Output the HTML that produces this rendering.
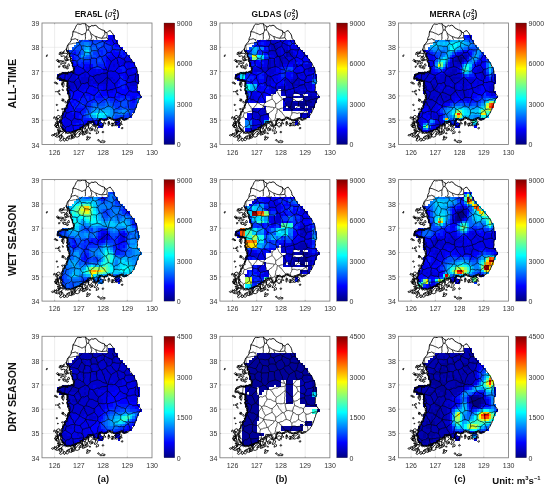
<!DOCTYPE html>
<html><head><meta charset="utf-8"><title>Variance maps</title>
<style>html,body{margin:0;padding:0;background:#fff}svg{display:block;font-family:"Liberation Sans",sans-serif}</style>
</head><body>
<svg width="550" height="500" viewBox="0 0 550 500">
<defs>
<g id="geo"><path d="M22.8,108.7 23.2,106.6 23.5,104.5M23.5,104.5 22.6,103.7 21.1,101.9 19.5,100.7M37.1,19.5 35.2,19.5 33.5,20.2 31.8,20.2 29.8,20.8 28.2,21.0 26.5,21.4M37.1,19.5 36.3,18.3 34.8,16.8M48.1,30.0 48.9,31.9 49.1,33.7 49.6,35.3M48.1,30.0 49.4,28.0M49.4,28.0 51.6,27.6 53.8,27.7 55.8,28.0M55.8,28.0 56.4,30.0 57.1,31.5 58.1,33.4M49.6,35.3 52.2,35.2 54.6,35.6M54.6,35.6 55.9,34.3 58.1,33.4M95.3,48.0 94.7,49.3 93.3,50.8M96.1,60.2 93.7,58.9M93.7,58.9 93.2,57.0 93.0,55.1 93.8,52.7 93.3,50.8M88.2,94.2 87.9,92.2 87.7,90.7 86.9,89.0 86.3,87.4M87.2,86.5 89.5,86.1 91.7,86.2 93.6,85.6M87.2,86.5 86.4,87.3M83.6,75.5 85.0,76.7 86.0,77.9M83.6,75.5 83.5,72.5M86.0,77.9 88.1,77.9 89.3,77.5 91.6,76.2 93.3,76.4 95.3,75.5 96.8,75.6 98.5,75.0M83.5,72.5 84.6,71.0 85.8,69.5 87.2,67.9M96.5,69.8 94.8,69.0 92.3,69.0 90.5,69.0 89.3,68.2 87.2,67.9M78.7,83.3 80.6,84.2 81.3,85.0 83.4,85.3 85.3,86.5 86.4,87.3M78.8,78.5 78.6,81.3 78.7,83.3M78.8,78.5 80.5,77.8 81.6,77.0 83.6,75.5M87.2,86.5 86.5,84.6 86.4,82.6 86.1,81.0 85.9,80.1 86.0,77.9M85.1,59.5 87.0,59.6 88.8,59.5 89.8,58.9 92.2,58.6 93.7,58.9M84.5,61.6 85.4,63.5 86.0,64.5 86.5,65.9 87.2,67.9M84.5,61.6 85.1,59.5M51.0,20.7 49.6,21.7 48.8,23.5M51.0,20.7 50.2,17.7M49.9,17.4 48.4,17.6 46.5,16.8M48.8,23.5 46.4,23.3 45.3,23.7 42.9,23.0 40.9,22.8 39.3,23.1M40.4,16.8 39.0,18.7 37.5,19.7M39.3,23.1 37.8,21.1M37.5,19.7 37.8,21.1M49.9,16.8 49.9,17.4M49.4,28.0 49.0,25.7 48.8,23.5M42.8,29.1 44.5,29.3 46.0,29.4 48.1,30.0M39.8,25.5 39.3,23.1M42.8,29.1 41.2,27.2 39.8,25.5M39.8,25.5 39.0,27.3 37.7,28.6 37.3,30.3 35.9,32.3M35.9,32.3 33.9,32.1 31.5,31.1 30.1,30.8 27.9,30.8M27.9,30.8 29.0,29.5 30.8,28.0 31.7,27.3 32.8,25.5 34.0,24.5 35.5,23.1 36.9,22.5 37.8,21.1M26.5,21.4 25.9,23.7 26.2,25.5 26.5,27.3 26.1,29.8M27.2,31.0 27.9,30.8M55.8,28.0 56.1,26.8M51.0,20.7 53.1,21.5M56.1,26.8 54.7,24.7 54.4,22.9 53.1,21.5M58.1,33.4 59.6,33.7M63.3,32.0 61.5,33.0 59.6,33.7M65.1,29.8 64.6,27.7 63.7,25.8 62.5,24.8 61.9,22.6M65.1,29.8 63.3,32.0M56.1,26.8 57.6,25.5 58.7,24.5 60.8,23.9 61.9,22.6M84.9,46.5 86.8,45.9 88.4,45.8 90.0,44.8 92.4,44.7 93.9,44.1M84.9,46.5 83.1,44.1 82.1,42.3M91.0,39.0 89.3,39.2 87.2,38.6 85.6,38.9 83.4,38.9M83.4,38.9 82.7,40.5 82.1,42.3M50.2,17.7 51.8,16.8M53.1,21.5 54.8,21.0 56.7,19.8 58.9,19.1 61.0,18.4M61.0,18.4 60.1,16.8M61.9,22.6 62.4,19.7M61.0,18.4 62.3,19.5M35.9,32.3 36.7,33.9 37.7,35.5M28.4,36.6 29.7,37.4 32.2,37.5 33.0,37.6 35.0,38.1M35.0,38.1 36.6,37.1 37.7,35.5M42.8,29.1 42.5,31.0 42.1,33.1 41.2,33.9 41.3,36.1M37.7,35.5 39.8,35.8 41.3,36.1M48.6,36.2 49.6,35.3M48.6,36.2 46.4,36.6 44.4,36.6 41.8,36.7M41.3,36.1 41.8,36.7M32.6,87.9 33.0,88.4M32.6,87.9 31.0,88.2 28.8,88.5 26.2,89.9 24.4,89.9M33.0,88.4 32.6,90.4 32.3,92.2 32.6,93.1 32.4,95.2M24.4,89.9 23.8,91.4 23.3,93.8M23.3,93.8 25.2,95.4 26.5,96.1 27.6,96.7 29.5,98.3M29.5,98.3 30.7,96.7 32.4,95.2M32.5,87.1 32.6,87.9M26.9,77.9 28.0,79.0 28.9,81.1 29.6,82.8 31.1,83.6 31.3,86.0 32.5,87.1M23.0,87.6 24.4,89.9M25.6,78.1 26.9,77.9M20.2,95.6 21.5,94.8 23.3,93.8M23.5,104.5 25.4,103.4 26.9,103.5 28.4,102.1 29.7,101.5M29.7,101.5 29.5,98.3M26.9,77.9 28.5,76.2 29.9,75.4M29.9,75.4 31.3,76.6 33.9,76.7 35.7,78.2 37.4,78.9M32.5,87.1 33.6,85.3 34.2,84.2 35.4,82.9 36.6,81.4 37.6,79.5M37.4,78.9 37.6,79.5M29.7,101.5 30.9,102.5M30.9,102.5 31.1,104.9 31.8,107.1 32.0,108.6M86.3,53.6 86.1,55.6 84.9,56.7 84.9,58.9M86.3,53.6 84.9,50.9 84.1,49.0M84.9,58.9 83.6,57.5 81.2,57.0 79.5,55.6 78.2,55.0M84.1,49.0 82.5,49.3 80.2,50.0 78.7,50.2 76.5,50.6M76.5,50.6 77.5,53.1 78.2,55.0M85.1,59.5 84.9,58.9M93.3,50.8 91.3,51.9 90.0,52.1 87.7,52.5 86.3,53.6M84.9,46.5 84.1,49.0M73.9,65.0 73.0,63.1 72.6,60.9M72.6,60.9 73.6,59.7 75.7,58.1 76.4,56.5 78.2,55.0M84.5,61.6 82.6,61.7 80.6,62.3 78.8,62.9 77.6,64.2 75.7,64.7 73.9,65.0M77.0,43.5 78.5,43.4 80.3,42.2 82.1,42.3M72.9,48.1 74.8,46.1 75.3,45.2 77.0,43.5M72.9,48.1 75.1,49.7 76.5,50.6M29.9,75.4 30.7,73.5 31.6,71.6 31.7,69.0M31.7,69.0 30.4,68.2 28.5,67.1M25.6,67.4 28.5,67.1M76.3,34.3 74.7,35.0M76.3,34.3 76.5,32.8 77.8,30.4 77.8,28.6 78.8,26.6M78.8,26.6 77.1,26.9 74.7,26.9 72.2,26.3 70.4,26.6M74.0,35.0 74.7,35.0M74.0,35.0 72.9,33.8 71.0,32.4 70.2,30.5 68.8,29.0M70.4,26.6 68.8,29.0M83.4,38.9 82.2,36.2M82.2,36.2 80.0,35.9 78.3,34.7 76.3,34.3M77.0,43.5 76.9,41.7 75.8,40.5 75.9,38.5 75.4,37.1 74.7,35.0M65.1,29.8 67.3,29.6 68.8,29.0M63.3,32.0 64.8,33.0 65.7,35.2 67.2,36.1 68.4,37.7 69.2,38.8M69.2,38.8 70.5,37.2 72.2,36.6 74.0,35.0M70.2,23.2 68.5,22.4 66.6,21.8 65.4,21.1 63.6,20.2 62.4,19.7M70.2,23.2 70.4,26.6M62.3,19.5 64.5,17.8 66.1,16.8M35.0,38.1 35.0,40.0 35.4,42.4M41.8,36.7 41.6,38.2 41.2,39.9 42.0,42.1 41.5,43.8 41.4,45.6M35.4,42.4 36.9,43.7 38.8,44.3 39.6,45.2 41.4,45.6M83.5,72.5 81.5,71.5 79.6,71.5 78.5,70.7 76.1,69.7 74.8,69.1M74.8,69.1 74.4,67.2 73.8,65.4M65.2,67.3 67.1,67.3 69.0,66.3 69.9,66.6 72.1,65.8 73.8,65.4M72.6,60.9 70.9,59.9 69.6,58.5 68.4,56.5 66.5,55.4 65.5,54.1M64.3,66.8 65.2,67.3M64.3,66.8 64.6,65.4 64.9,62.9 64.6,61.6 65.2,59.7 64.9,57.5 65.4,56.4 65.3,54.4M72.2,20.7 71.1,18.9 70.5,16.8M72.2,20.7 73.8,20.2 75.6,20.6M70.2,23.2 72.2,20.7M78.8,26.6 79.7,25.7M82.2,36.2 83.5,34.4 84.5,32.9 85.2,31.8M28.5,67.1 27.5,65.3 27.7,63.1 26.4,61.8 26.1,60.0 25.4,58.1M25.4,58.1 24.8,58.0M24.4,58.0 22.7,57.8M16.2,52.7 17.8,54.3 19.2,55.0 20.3,56.4 22.2,57.2M22.6,50.0 23.1,51.6 23.0,53.6 22.8,55.2 22.5,57.4M35.4,42.4 33.8,43.6 31.6,43.9M32.4,95.2 34.4,96.0 36.4,96.6 38.2,96.5 40.1,97.5M30.9,102.5 32.9,102.6 34.6,102.3 36.8,102.3 38.0,101.8 39.6,101.7 41.8,101.7M40.1,97.5 41.4,99.6 41.8,101.7M33.0,88.4 34.6,88.7 36.6,89.2 38.3,89.2M38.3,89.2 39.1,91.4 40.6,92.8M40.1,97.5 40.1,95.3 40.6,92.8M41.8,101.7 43.5,103.1M52.4,72.4 50.5,72.1 48.6,71.2 47.6,70.5 45.7,69.9 43.9,69.5M52.4,72.4 52.0,74.0 52.3,76.0M52.3,76.0 50.6,76.8 49.0,77.6 47.1,78.6 45.6,79.1M45.6,79.1 44.5,77.5 43.9,75.8 42.8,74.4 42.9,72.8 41.8,71.0M43.9,69.5 41.8,70.3M41.8,70.3 41.8,71.0M37.4,78.9 38.3,77.3 38.9,75.3 39.8,73.9 40.6,73.0 41.8,71.0M37.6,79.5 39.5,80.4 40.2,81.4 42.0,81.9 43.6,83.0M43.6,83.0 44.2,81.3 45.6,79.1M31.7,69.0 34.1,67.7 35.5,67.0M35.9,66.9 37.6,68.2 39.7,69.0 41.8,70.3M54.3,84.8 52.7,84.2 51.1,84.2 49.2,83.7 47.5,83.7 45.7,83.3 43.7,83.2M54.3,84.8 53.5,86.5 52.2,87.9 50.9,88.7 49.4,89.7 48.2,91.5M48.2,91.5 47.3,91.0M47.3,91.0 46.6,89.6 46.1,87.6 45.2,86.5 44.3,84.8 43.6,83.2M40.6,92.8 42.5,92.6 43.8,91.9 45.5,91.7 47.3,91.0M51.0,98.8 51.4,98.3M51.4,98.3 50.9,96.3 49.8,95.0 48.7,93.4 48.2,91.5M38.3,89.2 39.3,87.6 41.0,86.6 42.7,84.9 43.6,83.2M78.7,83.3 77.3,84.0 75.7,85.5 73.5,85.8 71.9,87.2M78.8,78.5 76.4,78.2 75.0,76.9 73.1,76.1M71.9,87.2 70.2,84.5M70.2,84.5 71.1,82.5 71.4,80.6 71.9,79.4 72.7,77.9 73.1,76.1M65.2,67.3 65.3,69.0 65.6,70.5 66.2,72.7 66.4,74.5M74.8,69.1 73.6,71.1 73.2,72.8 72.5,74.8M66.4,74.5 68.5,74.2 70.9,74.7 72.5,74.8M73.1,76.1 72.5,74.8M86.3,87.4 84.3,88.7 82.4,90.2M80.6,95.7 81.7,94.0 81.8,91.7 82.4,90.2M71.9,87.2 72.0,90.0M82.4,90.2 80.3,90.4 79.4,89.8 77.2,90.5 75.8,89.9 74.0,89.6 72.0,90.0M51.4,98.3 54.6,97.3M54.6,97.3 57.4,97.9M72.0,90.0 71.7,91.8 70.4,93.6 70.2,95.0 69.6,96.7M35.9,66.9 36.7,65.3 38.2,63.0 39.2,61.2M39.2,61.2 40.7,60.3 42.7,60.8 44.2,59.7 45.9,59.6M43.9,69.5 44.6,67.6 45.1,66.3 46.7,64.3 47.1,62.6M45.9,59.6 47.1,62.6M56.5,68.0 55.3,69.8 53.7,70.9 52.4,72.4M56.7,67.4 56.5,68.0M56.7,67.4 55.9,65.1M47.1,62.6 48.7,63.0 50.7,63.1 52.4,64.2 53.8,64.9 55.9,65.1M64.3,66.8 62.6,67.4 60.1,67.5 58.6,67.0 56.7,67.4M65.3,54.4 63.9,55.2 62.0,57.1 61.2,57.9 59.7,59.0 57.8,60.1 56.6,61.0M55.9,65.1 55.9,62.7 56.6,61.0M45.7,49.4 46.8,51.2 47.8,52.6M45.7,49.4 47.0,48.0 48.3,46.4M48.3,46.4 49.6,45.3 51.8,44.6 53.4,44.2 55.1,43.6M47.8,52.6 50.4,53.5M50.4,53.5 51.8,53.4 54.1,52.2 55.2,51.7 57.4,51.9 58.9,50.8 60.4,50.3 61.9,50.4 64.0,50.2 65.5,49.4M55.1,43.6 56.8,43.9 58.9,44.7 60.5,46.0 62.5,46.6 64.5,47.0M64.5,47.0 65.8,48.1M65.5,49.4 65.9,48.3M43.2,48.8 42.8,47.4 41.4,45.6M48.6,36.2 48.6,38.3 48.5,39.7 48.3,41.7 48.0,42.7 48.2,45.0 48.3,46.4M43.2,48.8 45.7,49.4M54.6,35.6 54.4,37.8 54.6,40.1 55.1,41.8 55.1,43.6M56.6,61.0 55.1,59.3 53.7,58.2 53.2,56.8 51.6,54.6 50.4,53.5M45.9,59.6 46.7,58.2 46.7,55.9 47.2,53.9 47.8,52.6M65.5,54.1 65.2,51.3 65.5,49.4M59.6,33.7 60.2,35.6 60.8,37.4 61.6,38.9 62.4,40.2 62.5,42.2 63.4,44.0 64.3,45.7 64.5,47.0M69.2,38.8 68.5,40.6 67.6,42.3 67.0,44.2 66.5,46.4 65.8,48.1M72.9,48.1 71.1,48.5 69.1,47.9 67.5,48.1 65.9,48.3M32.0,59.2 32.8,57.9 34.2,56.6 35.3,55.8 36.6,54.1M32.0,59.2 29.7,59.0 27.4,58.1 25.7,57.9M25.7,57.9 26.5,56.5 28.2,54.6 29.2,53.0 29.5,52.0 30.9,50.3M30.9,50.3 32.5,50.8 35.1,51.8 36.9,52.3M36.6,54.1 36.9,52.3M35.5,67.0 34.8,65.3 34.3,64.1 33.8,62.5 32.9,61.1 32.0,59.2M39.2,61.2 38.2,59.0 38.1,57.4 36.8,56.3 36.6,54.1M29.7,48.4 30.9,50.3M43.2,48.8 41.3,50.0 39.9,50.7 38.0,51.6 36.9,52.3M66.6,83.1 66.1,81.8 65.6,79.7 64.8,78.4 64.0,76.5M66.6,83.1 64.6,83.7 62.6,85.2 61.2,85.3 59.0,86.3M55.8,81.1 55.8,84.3M55.8,81.1 57.3,80.3 59.5,78.6 60.4,77.8 62.6,76.4M62.6,76.4 64.0,76.5M55.8,84.3 57.5,86.0M57.5,86.0 59.0,86.3M70.2,84.5 68.0,83.5 66.6,83.1M66.4,74.5 64.0,76.5M66.1,94.7 64.6,92.9 64.0,92.3 62.7,90.6 61.6,88.8 60.0,88.1 59.0,86.3M54.3,84.8 55.8,84.3M52.3,76.0 53.9,77.8 55.0,79.2 55.8,81.1M56.5,68.0 57.7,69.1 58.6,70.9 59.1,72.0 60.5,73.6 62.0,75.4 62.6,76.4M54.6,97.3 55.3,95.8 55.8,93.2 55.8,91.6 57.0,89.6 57.1,88.1 57.5,86.0" fill="none" stroke="#000" stroke-width="0.85" stroke-opacity="0.75"/>
<path d="M43.6,0.5 43.7,2.2 44.2,3.9 44.4,5.6 44.8,7.0 44.3,8.5 43.6,10.2 43.3,12.0 43.4,13.5 43.5,15.2 43.1,16.8M30.5,8.7 32.4,8.8 34.4,9.2 35.6,9.9 37.1,10.4 38.6,11.1 40.0,11.9 41.6,11.0 43.6,10.2M47.0,3.6 46.8,5.4 46.5,7.0 47.8,8.4 48.7,10.2 49.8,11.2 51.3,12.1 52.4,12.9 54.0,13.6 55.2,13.9 56.8,14.7 58.1,14.9 59.6,15.3 60.6,14.2 61.5,13.0 62.8,11.4 62.8,9.3 62.3,7.5M48.7,10.2 48.8,11.5 49.6,13.1 49.7,14.6 48.7,16.8M59.6,15.3 61.2,15.1 63.1,15.0 64.9,14.6 65.0,13.2 65.2,11.3 64.9,9.7M29.1,17.0 30.5,16.3 31.9,16.2 33.2,15.6 34.6,16.4 36.3,16.8M44.8,7.0 46.5,7.0M64.9,14.6 66.4,16.8M54.0,13.6 54.2,15.0 55.0,16.8" fill="none" stroke="#000" stroke-width="0.8" stroke-linejoin="round"/>
<path d="M35.7,0.7 37.0,1.2 38.9,1.2 40.2,0.5 42.0,0.7 43.6,0.5 44.1,1.5 45.2,2.7 47.0,3.6 47.9,3.9 49.9,2.4 51.0,3.0 53.1,2.2 54.8,2.9 56.2,4.9 57.8,5.7 59.9,6.9 61.3,7.2 62.3,7.5 63.1,9.2 64.9,9.7 66.4,8.2 68.3,7.5 69.0,8.8 70.5,10.2 71.4,12.0 72.0,14.0 72.0,15.4 73.4,16.5 74.5,18.1 74.9,19.4 76.0,21.2 77.1,22.4 77.8,24.1 78.7,25.0 79.9,25.9 81.1,27.2 82.3,28.3 83.0,29.0 84.1,30.1 84.9,31.4 85.8,32.5 87.3,33.9 88.3,35.3 89.2,36.4 90.1,37.7 91.1,39.1 92.1,40.3 92.7,41.9 93.4,43.4 94.5,45.0 94.9,46.1 95.3,48.0 95.4,49.2 95.5,50.8 95.9,52.5 96.4,53.7 96.3,55.2 96.5,57.1 96.9,58.6 96.2,59.7 95.7,61.2 95.4,62.7 95.5,63.9 95.6,65.4 95.2,67.1 95.2,68.5 96.6,69.9 98.1,71.7 99.1,73.6 98.5,75.0 97.1,76.2 96.4,77.3 95.8,78.8 95.5,80.4 94.7,81.9 94.5,83.3 93.8,84.7 93.5,86.0 92.7,87.5 92.1,88.9 91.3,90.6 90.6,91.2 90.3,92.0 88.4,94.0 86.6,95.1 85.3,95.7 82.8,95.8 82.1,96.5 79.7,95.3 77.2,97.0 76.1,97.4 75.4,97.2 73.3,97.9 72.0,96.5 69.4,96.8 68.2,95.7 67.8,94.8 65.1,94.7 64.9,97.2 63.0,97.2 60.7,97.1 59.3,97.1 57.9,95.7 58.3,96.1 56.9,98.9 55.5,101.4 56.0,102.1 54.0,102.9 52.8,102.5 52.6,101.4 50.9,98.7 48.2,98.4 45.8,98.4 45.9,101.4 44.6,101.6 43.1,103.7 41.4,102.4 39.7,104.5 39.3,104.9 36.5,106.5 34.9,106.4 34.4,107.9 33.0,107.8 31.0,109.7 30.6,108.4 28.3,110.1 27.6,109.1 25.9,109.0 23.5,109.4 21.8,107.8 21.1,107.6 20.4,105.0 18.8,103.9 18.9,101.2 20.2,100.2 18.7,98.4 20.1,95.8 20.5,95.8 19.1,94.7 19.5,93.3 20.6,91.1 21.6,88.8 22.9,88.2 23.2,86.0 22.8,84.8 25.3,83.0 25.2,82.1 26.1,80.8 25.3,78.7 26.0,77.2 27.8,76.7 27.0,74.1 27.6,73.6 27.7,73.0 26.0,71.6 27.2,68.8 25.9,68.0 24.9,65.7 26.5,64.5 25.2,63.2 25.2,61.6 25.9,60.3 24.7,57.8 22.3,58.7 22.5,57.2 19.9,57.3 18.0,55.4 16.0,55.4 16.1,53.0 16.5,52.2 18.6,52.1 18.8,51.1 20.8,49.8 21.7,49.7 23.2,50.2 25.2,50.1 26.0,48.8 28.0,49.4 30.1,48.1 31.5,48.6 31.6,45.9 32.0,45.0 31.3,43.3 30.7,42.8 30.0,40.1 29.5,39.1 28.2,36.0 28.8,35.0 27.3,33.4 27.7,31.6 26.4,30.1 24.9,28.5 24.2,27.0 24.8,24.7 25.2,23.3 25.7,21.8 26.9,20.7 28.3,19.0 29.1,17.5 29.2,15.7 29.6,14.6 30.6,12.8 30.7,10.8 31.0,9.0 31.9,7.3 32.7,6.1 33.4,4.7 34.2,2.8 35.3,1.5Z" fill="none" stroke="#000" stroke-width="0.9" stroke-linejoin="round"/>
<path d="M86.4,96.3 83.9,95.0 83.0,97.4 81.2,96.6 79.9,96.5 78.7,94.8 80.4,94.3 77.8,95.2 77.9,97.1 77.4,95.6 74.7,96.1 75.1,97.2 75.4,96.1 72.3,96.9 72.0,96.9 71.2,96.9 71.5,97.2 70.0,95.8 67.7,95.6 68.1,94.7 66.8,93.6 67.3,94.2 64.5,96.6 63.1,95.9 62.4,98.1 62.8,96.2 62.5,97.4 59.6,95.5 59.4,95.6 56.9,96.8 58.4,95.9 56.5,95.7 57.6,97.1 55.9,98.0 55.6,99.1 56.2,101.4 56.1,101.0 55.4,103.0 54.5,102.9 51.9,103.4 51.7,103.3 51.7,101.7 52.2,100.5 50.9,99.4 50.5,99.8 48.9,99.7 48.8,98.3 47.5,98.5 48.4,100.2 47.2,100.2 45.5,100.0 44.3,101.6 45.0,100.4 43.2,101.3 43.1,102.4 41.4,103.7 39.6,104.8 38.7,103.9 39.1,105.3 37.7,104.3 38.5,105.4 36.0,107.2 35.0,107.3 33.6,108.0 33.8,106.8 34.3,108.2 31.4,107.6 30.3,109.6 28.4,109.9 28.3,110.1 27.6,110.1 25.9,110.5 24.9,110.0 23.6,110.7 23.0,110.0 23.7,109.3 23.3,107.9 22.5,106.2 20.9,106.5 21.5,105.8 20.9,104.6 19.0,103.1 20.7,102.5 20.1,100.9 18.3,100.5 18.9,98.7 19.4,97.6 18.9,97.5 19.4,96.7 18.6,97.1 18.7,95.1 19.0,92.7 20.4,92.0 20.9,90.7 20.6,92.3 21.8,89.5 21.6,89.0 22.5,89.2 23.2,87.7 22.1,86.7 24.2,85.8 24.8,83.0 24.7,83.4 25.1,81.7 25.8,81.8 25.8,82.1 24.9,80.6 26.7,79.4 26.6,79.1 25.6,77.4 27.4,75.3 27.7,75.2 27.7,73.7 27.5,74.6 28.2,73.2 28.1,70.3 25.4,70.4 27.0,68.0 25.8,68.6 25.2,67.0 25.0,66.6 24.7,65.6 26.5,65.3 26.0,63.2 26.1,62.7 24.9,60.8 25.9,61.4 24.7,60.3 25.2,59.5 23.8,58.2 24.3,57.0 22.3,57.1 23.1,58.5 22.1,57.0 20.8,57.9 19.6,57.6 19.8,56.5 16.9,56.2 15.4,56.5 15.0,54.6 15.7,52.8 15.9,52.8 16.5,53.0 17.3,50.5 19.6,50.3 20.1,49.4 21.9,49.7 21.4,50.9 22.5,50.0 23.6,49.6 23.6,51.1 26.2,51.0 25.1,50.4 26.0,49.2 28.9,50.1 29.4,49.7 30.4,49.1 30.7,49.4 30.8,47.6 31.7,48.1 32.8,45.0 31.9,45.8 31.2,45.9 31.1,44.7 30.4,43.1 30.7,40.4 30.6,40.3 29.8,40.0 29.4,39.2 28.4,38.1 30.3,37.2 28.8,34.7 29.7,35.7 27.7,34.4 27.4,32.7 28.1,30.5 27.3,31.3 25.3,29.6 26.6,29.1 25.2,29.2 24.0,25.9M86.1,94.9 84.9,96.7 81.2,97.3 82.2,96.0 82.0,95.3 80.1,94.6 79.6,95.1 77.5,95.1 76.9,95.2 76.8,97.2 74.5,97.8 75.7,96.7 73.3,98.0 73.2,96.5 71.7,97.1 72.2,97.7 70.4,96.1 71.0,95.3 69.8,95.3 67.2,95.4 69.0,94.3 66.2,96.5 65.4,95.6 64.0,97.2 63.4,96.2 62.3,98.3 61.3,97.0 60.9,97.2 59.9,95.5 57.9,96.5 59.0,96.2 58.4,97.4 56.6,97.2 56.4,97.8 56.6,100.7 55.6,101.2 56.4,101.0 55.1,102.3 53.7,101.2 52.0,103.6 51.8,102.8 53.1,100.3 52.1,98.7 51.9,99.1 50.1,97.6 50.1,99.7 48.6,98.7 47.9,98.8 46.5,100.4 45.9,100.4 46.6,101.7 45.7,102.3 44.2,100.8 44.4,102.3 41.6,102.8 41.4,102.3 40.0,104.2 40.7,105.6 39.5,103.7 39.3,106.3 36.5,106.9 37.6,107.1 36.1,106.2 34.0,108.4 35.5,107.6 32.6,107.8 31.5,109.3 29.6,108.6 30.6,109.3 29.4,111.2 27.7,110.1 28.2,108.8 25.7,110.3 24.5,109.5 24.5,110.1 24.2,108.8 23.5,107.6 22.2,107.6 20.7,106.4 21.0,106.0 19.6,104.4 19.5,104.9 18.7,102.7 19.1,100.5 20.2,99.4 18.4,100.5 17.7,98.4 19.2,98.5 18.3,97.4 19.6,95.6 20.2,93.9 20.3,94.5 21.1,92.8 20.8,91.4 21.2,91.9 20.5,90.7 20.8,88.2 22.3,88.5 22.4,85.9 23.2,86.8 24.4,84.8 25.4,85.1 24.6,82.4 26.0,81.1 24.1,82.6 24.6,81.8 26.9,79.8 27.1,79.3 27.3,78.0 26.1,76.1 28.1,76.7 27.6,74.4 26.9,73.9 26.8,74.3 26.7,72.3 27.3,72.1 25.4,70.7 26.7,69.9 25.5,68.8 26.6,67.9 24.7,67.8 25.3,65.5 25.7,65.4 24.4,62.7 25.0,63.7 25.1,60.6 25.5,60.1 25.6,60.5 26.2,57.8 24.4,58.6 25.3,58.6 22.3,56.7 22.1,56.8 20.9,56.5 19.8,58.2 18.7,57.2 18.9,55.7 16.3,55.8 15.7,55.4 15.1,55.9 16.3,52.8 15.5,52.3 17.2,51.1 16.8,52.5 19.7,49.9 19.7,51.5 21.9,50.1 21.8,49.5 22.7,50.7 23.7,50.6 23.9,49.2 26.0,50.8 24.5,50.3 26.5,50.0 26.8,50.1 29.5,48.2 29.1,48.7 32.1,49.7 32.3,49.5 31.9,47.3 32.1,46.6 31.8,44.8 31.8,44.6 31.4,43.9 29.9,42.2 30.5,42.0 30.7,39.4 29.9,40.9 29.7,39.8 28.5,37.7 28.1,36.4 28.9,36.1 29.2,36.0 28.8,33.1 27.6,33.6 27.0,31.6 27.5,31.0 27.3,28.9 26.2,28.3 24.2,26.9 24.2,25.9" fill="none" stroke="#000" stroke-width="0.7" stroke-linejoin="round"/>
<path d="M25.6,30.6 23.4,30.3 22.2,30.4 20.3,30.2 18.9,31.7 19.2,33.6 21.9,32.8 23.6,33.8 25.3,32.4ZM17.4,29.8 17.3,30.4 17.1,31.6 18.2,31.2 18.8,30.7 18.9,29.8 18.1,29.5ZM22.4,35.8 22.8,36.6 23.2,37.8 24.9,38.0 25.9,37.0 24.7,35.4 22.7,34.3ZM20.5,38.2 20.7,39.0 21.3,38.9 21.8,38.8 22.2,38.1 21.5,38.0 20.8,37.5ZM27.3,41.7 26.7,40.6 25.5,42.2 25.2,42.7 24.9,43.6 26.0,43.2 27.6,42.8ZM22.1,43.2 21.7,42.4 20.8,42.3 20.5,43.0 20.6,43.5 20.9,44.1 21.6,43.8ZM20.6,40.3 19.9,39.9 18.6,40.6 18.6,41.4 19.4,41.4 20.1,40.9ZM15.9,38.2 16.7,39.5 18.7,38.9 20.8,38.7 19.6,37.6 17.6,37.7ZM22.4,27.5 21.5,28.5 21.2,28.9 21.1,30.0 22.0,29.6 22.1,28.8ZM23.7,39.4 23.1,39.4 22.5,39.7 21.4,40.3 22.4,40.7 22.7,41.4 23.3,40.6 24.3,40.0ZM22.9,42.6 22.1,42.7 21.7,43.6 21.7,44.8 22.6,44.9 23.5,44.9 23.8,43.9 23.8,42.8ZM14.4,37.4 15.2,38.3 16.9,38.3 16.8,37.2 15.2,36.3ZM17.1,38.0 16.9,37.7 16.3,37.9 15.4,38.1 15.9,38.4 16.4,38.6 17.3,38.6ZM17.8,29.6 19.2,30.4 20.3,31.3 20.7,30.4 20.8,29.4 19.1,29.0ZM26.6,44.8 25.6,44.7 24.8,44.3 23.6,44.8 24.6,45.2 24.9,46.1 26.2,45.6ZM17.8,43.6 18.1,42.8 17.3,43.2 16.6,43.1 16.7,43.7 16.6,44.3 17.4,44.3 17.7,43.9ZM27.3,36.9 26.5,36.5 25.5,36.1 23.6,36.5 23.8,37.5 25.7,37.3 26.6,37.3ZM24.3,33.1 24.4,33.8 24.2,34.8 25.3,35.3 25.8,35.2 26.2,34.7 25.6,33.8 25.0,33.5ZM5.2,31.7 4.6,32.3 4.2,33.3 4.9,33.5 5.3,32.5ZM21.7,59.5 20.5,59.4 20.5,62.3 20.6,63.7 21.4,64.3 21.9,62.5 22.1,61.0ZM21.5,58.0 20.2,59.1 19.4,60.9 19.8,62.3 20.8,60.9 21.4,59.8ZM14.4,59.5 13.9,59.0 12.6,59.1 12.1,59.8 12.9,60.2 14.0,60.1ZM17.8,67.1 16.8,67.3 16.2,68.4 16.3,69.3 17.1,68.9 17.8,68.1ZM16.8,70.4 16.6,70.9 17.3,71.6 18.3,72.0 17.9,71.1 17.8,70.8 17.2,70.0ZM20.6,66.2 20.1,66.2 20.5,67.0 20.8,67.7 21.2,67.7 21.5,66.9 20.8,66.4ZM14.2,60.4 14.1,61.0 15.1,61.0 16.1,60.8 15.3,60.3 15.1,59.9 14.1,59.8ZM16.1,68.4 15.9,68.4 15.6,68.5 15.4,69.1 15.9,68.8 16.3,68.6ZM14.5,68.6 14.1,68.2 13.5,68.6 13.5,68.8 13.7,69.0 14.2,69.0ZM23.1,78.9 22.8,79.4 23.7,79.9 24.7,79.5 23.9,78.8 23.2,77.9ZM21.0,76.3 20.3,75.6 20.2,76.6 20.0,77.7 20.9,77.1 21.5,77.5 21.9,76.8 21.4,76.2ZM16.1,86.9 15.6,86.9 15.4,87.7 15.9,87.5 16.5,87.3ZM20.0,85.5 19.5,85.8 20.0,86.7 20.9,86.7 21.2,86.5 21.4,86.2 21.2,85.3 20.4,85.6ZM14.9,81.3 14.2,81.5 14.4,82.4 15.1,82.6 15.4,82.1 15.7,81.7 15.3,81.4ZM21.5,76.2 20.6,76.7 19.8,77.7 20.6,78.0 21.3,78.5 22.1,77.1ZM14.6,112.5 13.6,113.6 15.3,114.2 17.0,113.5 15.4,112.5ZM19.1,107.7 17.7,106.9 16.6,106.9 16.1,107.9 16.7,109.0 17.9,108.7ZM17.4,92.6 16.1,92.5 13.8,94.4 15.3,95.2 16.3,96.0 18.0,93.8ZM15.1,102.5 13.6,103.2 15.9,105.0 17.5,105.1 16.9,103.5 15.9,100.7ZM11.8,94.3 11.6,94.6 11.6,95.4 12.2,95.0 12.7,94.9 13.1,94.1 12.2,93.6ZM10.6,111.5 9.4,112.1 10.2,113.0 10.9,112.9 12.6,111.7ZM14.1,94.9 13.8,94.9 13.4,95.6 13.7,96.8 14.3,97.1 15.1,97.1 14.9,95.5 14.8,94.0ZM23.2,115.4 22.1,115.3 21.4,116.6 21.5,117.4 22.4,118.4 23.8,116.4ZM17.0,107.9 16.4,108.8 16.8,110.5 17.9,110.2 17.9,108.5ZM15.6,109.1 14.9,109.7 13.5,110.8 15.0,110.8 15.8,111.3 16.8,109.7ZM13.0,101.8 12.1,102.1 13.3,103.1 14.5,104.5 14.4,102.9 13.7,101.3ZM21.9,107.0 21.2,105.8 18.8,105.8 16.9,106.0 15.0,107.0 17.7,107.6 18.8,108.4 21.0,108.1ZM14.3,98.8 13.6,99.4 14.3,100.7 15.2,100.8 16.2,101.0 15.7,99.7 15.1,98.1ZM15.3,99.6 14.6,100.6 16.1,100.6 16.9,100.1 17.2,99.6 17.1,99.0 16.1,98.3 15.4,99.2ZM19.7,111.4 17.6,112.9 17.3,114.9 18.7,116.1 19.8,114.0ZM16.1,100.8 15.9,99.5 14.0,100.0 13.4,101.1 13.6,102.0 14.7,102.7 16.3,101.9ZM21.9,108.9 19.8,108.7 18.2,108.4 17.2,109.9 16.3,111.1 16.9,112.1 18.2,112.6 19.2,111.3 20.4,110.7ZM14.8,102.3 14.2,102.5 13.2,103.7 14.5,104.6 15.4,105.0 16.0,104.2 17.1,102.8 15.4,102.4ZM12.6,110.1 12.5,111.6 12.4,112.5 13.3,113.5 14.4,112.7 14.4,111.6 13.6,111.3ZM16.5,95.6 15.3,95.5 15.3,97.3 15.5,98.6 16.5,99.3 17.8,98.1 17.2,96.4ZM20.8,113.0 19.3,112.5 19.0,115.1 17.4,117.3 18.8,118.2 20.2,117.1 21.5,116.1 21.1,114.5ZM29.0,114.0 29.8,111.6 27.5,112.8 25.7,113.4 24.8,114.8 23.5,117.0 25.4,117.7 27.7,115.7 29.7,116.1 30.3,114.6ZM31.9,109.7 30.6,111.4 29.9,112.8 29.5,115.2 31.2,115.2 32.5,114.8 33.2,113.2 33.4,110.9ZM38.7,109.2 37.2,108.3 35.1,109.7 34.6,111.1 32.3,112.6 33.5,113.6 35.2,114.2 37.6,113.0 37.0,111.1ZM40.6,108.6 40.5,106.8 39.2,108.8 38.8,109.5 37.5,111.2 39.2,111.3 40.2,109.9 42.0,109.1ZM46.8,102.4 44.6,102.8 43.2,105.1 40.5,104.9 40.6,107.2 40.2,109.3 40.6,112.2 43.5,111.2 46.2,109.6 45.4,106.6 46.3,105.0ZM42.1,109.1 40.5,108.0 41.3,110.2 41.8,111.1 42.7,111.1 43.0,110.1 43.5,108.1ZM49.8,100.8 48.3,100.4 46.7,101.4 46.7,102.7 46.2,103.8 46.9,105.5 49.2,104.3 50.8,102.2ZM49.7,105.6 49.0,105.7 47.7,105.8 47.7,107.1 48.3,107.9 49.6,107.6 50.6,106.3ZM54.8,104.1 53.5,103.5 53.4,105.7 52.1,107.8 53.6,108.2 54.5,106.8 55.4,106.3 55.8,104.7ZM55.7,107.8 54.8,108.5 54.5,109.4 54.1,110.9 55.3,110.4 56.4,110.1 56.7,108.5ZM61.8,101.5 60.6,100.6 59.2,99.1 57.7,100.8 55.6,101.8 58.1,102.6 58.3,103.8 60.0,104.1 60.1,102.4ZM61.7,99.9 61.3,100.6 62.4,100.7 63.9,100.9 63.2,99.7 62.0,98.9ZM43.9,105.6 42.9,105.3 42.9,107.2 43.8,108.3 44.6,108.1 44.7,106.8 44.3,106.0ZM27.4,114.2 27.6,113.1 26.4,114.2 24.6,114.5 25.5,115.2 26.1,115.5 27.2,115.6 27.8,114.7ZM48.5,114.2 46.8,114.2 45.8,115.4 44.1,116.8 45.7,116.9 46.7,116.5 47.5,115.9ZM50.4,104.9 49.9,105.9 49.2,106.9 50.0,106.9 50.7,107.3 51.2,105.6ZM60.3,108.6 60.1,109.5 60.9,109.7 61.4,109.7 61.7,109.4 61.8,108.8 61.1,108.3ZM33.6,108.8 32.4,109.6 32.0,110.3 31.9,111.1 32.7,110.9 33.4,110.1ZM33.0,111.3 31.7,111.6 31.0,112.1 30.0,112.8 30.9,112.9 31.6,113.3 32.9,112.5ZM47.4,109.8 47.0,110.6 47.9,110.7 48.6,110.8 48.2,109.8ZM37.7,106.4 38.3,107.1 39.0,107.2 40.0,106.9 38.6,106.5ZM43.9,108.7 43.6,108.8 43.0,109.3 43.7,109.5 44.1,109.9 44.8,109.8 44.8,108.9 44.3,108.3ZM45.5,112.8 44.9,113.9 45.0,115.5 45.7,115.0 46.2,113.9ZM31.6,113.6 30.9,113.6 30.4,113.3 30.2,113.8 30.1,114.1 30.1,114.7 30.9,114.4 31.7,114.1ZM56.2,116.4 55.5,117.3 56.4,117.9 57.4,117.9 57.1,116.8ZM63.1,118.1 61.2,117.8 60.3,117.3 59.5,118.0 57.7,118.7 58.6,119.6 60.5,119.1 62.7,119.4ZM79.8,99.0 78.6,97.5 76.2,99.2 75.5,99.7 72.0,99.0 74.6,100.8 73.4,102.6 75.1,102.8 76.4,101.9 78.6,102.6 77.6,100.7ZM70.6,101.3 70.2,101.9 71.1,102.5 72.6,102.8 73.6,101.8 72.1,100.7 70.5,100.0ZM66.9,98.7 66.1,99.8 66.1,101.1 66.3,102.6 67.2,101.9 67.3,101.0 67.7,99.9ZM78.2,100.0 78.6,100.7 78.7,101.4 79.5,101.5 80.3,101.7 79.6,100.9 79.7,100.2 78.8,99.9ZM66.6,98.1 66.3,99.0 66.3,100.2 67.1,100.6 67.1,99.5 67.3,98.8ZM70.4,100.5 69.7,100.0 68.9,101.4 69.5,102.3 70.1,102.9 71.1,102.1 71.4,100.3ZM61.2,101.8 60.9,102.3 61.0,102.9 61.4,103.2 61.4,102.4ZM70.5,102.3 70.1,102.3 69.7,102.5 69.5,103.0 70.0,103.0 70.4,103.2 70.3,102.7ZM80.9,104.5 80.0,104.6 79.1,105.1 79.5,105.7 80.0,105.9 80.9,105.5Z" fill="none" stroke="#000" stroke-width="0.85" stroke-linejoin="round"/></g>
<g id="grid" stroke="#dcdcdc" stroke-width="0.5" fill="none">
<path d="M12.60,0V121.50"/>
<path d="M36.83,0V121.50"/>
<path d="M61.06,0V121.50"/>
<path d="M85.29,0V121.50"/>
<path d="M0,97.20H110.00"/>
<path d="M0,72.90H110.00"/>
<path d="M0,48.60H110.00"/>
<path d="M0,24.30H110.00"/>
</g>
<linearGradient id="jet" x1="0" y1="1" x2="0" y2="0">
<stop offset="0.000" stop-color="#000080"/>
<stop offset="0.025" stop-color="#000099"/>
<stop offset="0.050" stop-color="#0000b3"/>
<stop offset="0.075" stop-color="#0000cc"/>
<stop offset="0.100" stop-color="#0000e6"/>
<stop offset="0.125" stop-color="#0000ff"/>
<stop offset="0.150" stop-color="#001aff"/>
<stop offset="0.175" stop-color="#0033ff"/>
<stop offset="0.200" stop-color="#004dff"/>
<stop offset="0.225" stop-color="#0066ff"/>
<stop offset="0.250" stop-color="#0080ff"/>
<stop offset="0.275" stop-color="#0099ff"/>
<stop offset="0.300" stop-color="#00b3ff"/>
<stop offset="0.325" stop-color="#00ccff"/>
<stop offset="0.350" stop-color="#00e5ff"/>
<stop offset="0.375" stop-color="#00ffff"/>
<stop offset="0.400" stop-color="#1affe5"/>
<stop offset="0.425" stop-color="#33ffcc"/>
<stop offset="0.450" stop-color="#4dffb3"/>
<stop offset="0.475" stop-color="#66ff99"/>
<stop offset="0.500" stop-color="#80ff80"/>
<stop offset="0.525" stop-color="#99ff66"/>
<stop offset="0.550" stop-color="#b3ff4c"/>
<stop offset="0.575" stop-color="#ccff33"/>
<stop offset="0.600" stop-color="#e5ff1a"/>
<stop offset="0.625" stop-color="#ffff00"/>
<stop offset="0.650" stop-color="#ffe500"/>
<stop offset="0.675" stop-color="#ffcc00"/>
<stop offset="0.700" stop-color="#ffb300"/>
<stop offset="0.725" stop-color="#ff9900"/>
<stop offset="0.750" stop-color="#ff8000"/>
<stop offset="0.775" stop-color="#ff6600"/>
<stop offset="0.800" stop-color="#ff4c00"/>
<stop offset="0.825" stop-color="#ff3300"/>
<stop offset="0.850" stop-color="#ff1a00"/>
<stop offset="0.875" stop-color="#ff0000"/>
<stop offset="0.900" stop-color="#e50000"/>
<stop offset="0.925" stop-color="#cc0000"/>
<stop offset="0.950" stop-color="#b30000"/>
<stop offset="0.975" stop-color="#990000"/>
<stop offset="1.000" stop-color="#800000"/>
</linearGradient>
</defs>
<rect width="550" height="500" fill="#fff"/>
<g transform="translate(42.00,23.00)">
<use href="#grid"/>
<g shape-rendering="crispEdges"><path fill="#0000cc" d="M19.8,104.4h2.5v2.5h-2.5zM19.8,102.0h2.5v2.5h-2.5zM24.7,65.6h4.9v2.5h-4.9zM68.3,65.6h2.5v2.5h-2.5zM24.7,63.1h7.4v2.5h-7.4zM34.4,63.1h2.5v2.5h-2.5zM85.2,63.1h2.5v2.5h-2.5zM27.1,60.7h12.2v2.5h-12.2zM63.4,60.7h2.5v2.5h-2.5zM87.7,60.7h7.4v2.5h-7.4zM27.1,58.3h21.9v2.5h-21.9zM51.3,58.3h14.6v2.5h-14.6zM87.7,58.3h7.4v2.5h-7.4zM17.4,55.8h4.9v2.5h-4.9zM24.7,55.8h9.8v2.5h-9.8zM39.2,55.8h12.2v2.5h-12.2zM53.7,55.8h14.6v2.5h-14.6zM70.7,55.8h2.5v2.5h-2.5zM90.1,55.8h4.9v2.5h-4.9zM19.8,53.4h2.5v2.5h-2.5zM24.7,53.4h9.8v2.5h-9.8zM39.2,53.4h7.4v2.5h-7.4zM51.3,53.4h19.5v2.5h-19.5zM85.2,53.4h2.5v2.5h-2.5zM92.5,53.4h4.9v2.5h-4.9zM24.7,51.0h14.6v2.5h-14.6zM41.6,51.0h2.5v2.5h-2.5zM51.3,51.0h17.1v2.5h-17.1zM92.5,51.0h4.9v2.5h-4.9zM29.5,48.5h4.9v2.5h-4.9zM39.2,48.5h2.5v2.5h-2.5zM61.0,48.5h4.9v2.5h-4.9zM61.0,46.1h2.5v2.5h-2.5zM70.7,41.3h2.5v2.5h-2.5zM80.4,38.8h2.5v2.5h-2.5z"/>
<path fill="#0000e6" d="M22.2,106.9h12.2v2.5h-12.2zM22.2,104.4h7.4v2.5h-7.4zM22.2,102.0h7.4v2.5h-7.4zM58.6,102.0h2.5v2.5h-2.5zM75.5,102.0h2.5v2.5h-2.5zM19.8,99.6h9.8v2.5h-9.8zM44.0,99.6h2.5v2.5h-2.5zM73.1,99.6h2.5v2.5h-2.5zM22.2,97.1h14.6v2.5h-14.6zM75.5,97.1h2.5v2.5h-2.5zM22.2,94.7h14.6v2.5h-14.6zM22.2,92.3h12.2v2.5h-12.2zM22.2,89.9h7.4v2.5h-7.4zM31.9,89.9h2.5v2.5h-2.5zM22.2,87.4h4.9v2.5h-4.9zM22.2,85.0h4.9v2.5h-4.9zM24.7,82.6h2.5v2.5h-2.5zM90.1,75.3h2.5v2.5h-2.5zM90.1,72.8h2.5v2.5h-2.5zM85.2,70.4h2.5v2.5h-2.5zM24.7,68.0h2.5v2.5h-2.5zM63.4,68.0h7.4v2.5h-7.4zM75.5,68.0h2.5v2.5h-2.5zM87.7,68.0h2.5v2.5h-2.5zM29.5,65.6h12.2v2.5h-12.2zM51.3,65.6h2.5v2.5h-2.5zM61.0,65.6h7.4v2.5h-7.4zM70.7,65.6h2.5v2.5h-2.5zM87.7,65.6h2.5v2.5h-2.5zM92.5,65.6h2.5v2.5h-2.5zM31.9,63.1h2.5v2.5h-2.5zM36.8,63.1h9.8v2.5h-9.8zM61.0,63.1h12.2v2.5h-12.2zM87.7,63.1h7.4v2.5h-7.4zM24.7,60.7h2.5v2.5h-2.5zM39.2,60.7h12.2v2.5h-12.2zM53.7,60.7h9.8v2.5h-9.8zM65.9,60.7h9.8v2.5h-9.8zM85.2,60.7h2.5v2.5h-2.5zM24.7,58.3h2.5v2.5h-2.5zM48.9,58.3h2.5v2.5h-2.5zM65.9,58.3h9.8v2.5h-9.8zM85.2,58.3h2.5v2.5h-2.5zM94.9,58.3h2.5v2.5h-2.5zM22.2,55.8h2.5v2.5h-2.5zM34.4,55.8h4.9v2.5h-4.9zM51.3,55.8h2.5v2.5h-2.5zM68.3,55.8h2.5v2.5h-2.5zM73.1,55.8h2.5v2.5h-2.5zM85.2,55.8h4.9v2.5h-4.9zM94.9,55.8h2.5v2.5h-2.5zM17.4,53.4h2.5v2.5h-2.5zM22.2,53.4h2.5v2.5h-2.5zM36.8,53.4h2.5v2.5h-2.5zM46.5,53.4h4.9v2.5h-4.9zM70.7,53.4h7.4v2.5h-7.4zM82.8,53.4h2.5v2.5h-2.5zM87.7,53.4h4.9v2.5h-4.9zM17.4,51.0h7.4v2.5h-7.4zM39.2,51.0h2.5v2.5h-2.5zM44.0,51.0h7.4v2.5h-7.4zM68.3,51.0h7.4v2.5h-7.4zM82.8,51.0h9.8v2.5h-9.8zM19.8,48.5h9.8v2.5h-9.8zM34.4,48.5h4.9v2.5h-4.9zM41.6,48.5h19.5v2.5h-19.5zM65.9,48.5h9.8v2.5h-9.8zM82.8,48.5h12.2v2.5h-12.2zM31.9,46.1h21.9v2.5h-21.9zM56.2,46.1h2.5v2.5h-2.5zM63.4,46.1h9.8v2.5h-9.8zM85.2,46.1h4.9v2.5h-4.9zM92.5,46.1h2.5v2.5h-2.5zM31.9,43.7h4.9v2.5h-4.9zM44.0,43.7h7.4v2.5h-7.4zM63.4,43.7h12.2v2.5h-12.2zM85.2,43.7h2.5v2.5h-2.5zM90.1,43.7h4.9v2.5h-4.9zM65.9,41.3h4.9v2.5h-4.9zM73.1,41.3h2.5v2.5h-2.5zM85.2,41.3h2.5v2.5h-2.5zM65.9,38.8h14.6v2.5h-14.6zM82.8,38.8h7.4v2.5h-7.4zM63.4,36.4h12.2v2.5h-12.2zM78.0,36.4h12.2v2.5h-12.2zM65.9,34.0h7.4v2.5h-7.4zM78.0,34.0h9.8v2.5h-9.8zM75.5,31.5h4.9v2.5h-4.9zM65.9,14.5h4.9v2.5h-4.9zM70.7,12.1h2.5v2.5h-2.5z"/>
<path fill="#0000ff" d="M29.5,104.4h9.8v2.5h-9.8zM29.5,102.0h12.2v2.5h-12.2zM56.2,102.0h2.5v2.5h-2.5zM29.5,99.6h4.9v2.5h-4.9zM36.8,99.6h2.5v2.5h-2.5zM41.6,99.6h2.5v2.5h-2.5zM51.3,99.6h4.9v2.5h-4.9zM75.5,99.6h2.5v2.5h-2.5zM17.4,97.1h4.9v2.5h-4.9zM36.8,97.1h2.5v2.5h-2.5zM41.6,97.1h4.9v2.5h-4.9zM48.9,97.1h4.9v2.5h-4.9zM73.1,97.1h2.5v2.5h-2.5zM19.8,94.7h2.5v2.5h-2.5zM36.8,94.7h2.5v2.5h-2.5zM75.5,94.7h2.5v2.5h-2.5zM19.8,92.3h2.5v2.5h-2.5zM34.4,92.3h2.5v2.5h-2.5zM19.8,89.9h2.5v2.5h-2.5zM29.5,89.9h2.5v2.5h-2.5zM34.4,89.9h4.9v2.5h-4.9zM27.1,87.4h2.5v2.5h-2.5zM31.9,87.4h7.4v2.5h-7.4zM27.1,85.0h4.9v2.5h-4.9zM34.4,85.0h7.4v2.5h-7.4zM27.1,82.6h4.9v2.5h-4.9zM24.7,80.1h4.9v2.5h-4.9zM31.9,80.1h2.5v2.5h-2.5zM27.1,77.7h4.9v2.5h-4.9zM34.4,77.7h2.5v2.5h-2.5zM90.1,77.7h2.5v2.5h-2.5zM29.5,75.3h7.4v2.5h-7.4zM46.5,75.3h2.5v2.5h-2.5zM87.7,75.3h2.5v2.5h-2.5zM29.5,72.8h12.2v2.5h-12.2zM46.5,72.8h2.5v2.5h-2.5zM53.7,72.8h7.4v2.5h-7.4zM65.9,72.8h12.2v2.5h-12.2zM87.7,72.8h2.5v2.5h-2.5zM92.5,72.8h2.5v2.5h-2.5zM29.5,70.4h12.2v2.5h-12.2zM44.0,70.4h9.8v2.5h-9.8zM56.2,70.4h17.1v2.5h-17.1zM75.5,70.4h9.8v2.5h-9.8zM87.7,70.4h9.8v2.5h-9.8zM27.1,68.0h29.2v2.5h-29.2zM58.6,68.0h4.9v2.5h-4.9zM70.7,68.0h4.9v2.5h-4.9zM78.0,68.0h9.8v2.5h-9.8zM90.1,68.0h7.4v2.5h-7.4zM41.6,65.6h9.8v2.5h-9.8zM53.7,65.6h2.5v2.5h-2.5zM58.6,65.6h2.5v2.5h-2.5zM73.1,65.6h14.6v2.5h-14.6zM90.1,65.6h2.5v2.5h-2.5zM46.5,63.1h7.4v2.5h-7.4zM56.2,63.1h4.9v2.5h-4.9zM73.1,63.1h7.4v2.5h-7.4zM82.8,63.1h2.5v2.5h-2.5zM51.3,60.7h2.5v2.5h-2.5zM82.8,60.7h2.5v2.5h-2.5zM75.5,58.3h2.5v2.5h-2.5zM82.8,58.3h2.5v2.5h-2.5zM75.5,55.8h2.5v2.5h-2.5zM82.8,55.8h2.5v2.5h-2.5zM15.0,53.4h2.5v2.5h-2.5zM34.4,53.4h2.5v2.5h-2.5zM80.4,53.4h2.5v2.5h-2.5zM15.0,51.0h2.5v2.5h-2.5zM75.5,51.0h7.4v2.5h-7.4zM75.5,48.5h7.4v2.5h-7.4zM53.7,46.1h2.5v2.5h-2.5zM58.6,46.1h2.5v2.5h-2.5zM73.1,46.1h7.4v2.5h-7.4zM82.8,46.1h2.5v2.5h-2.5zM90.1,46.1h2.5v2.5h-2.5zM36.8,43.7h7.4v2.5h-7.4zM61.0,43.7h2.5v2.5h-2.5zM75.5,43.7h2.5v2.5h-2.5zM82.8,43.7h2.5v2.5h-2.5zM87.7,43.7h2.5v2.5h-2.5zM29.5,41.3h7.4v2.5h-7.4zM41.6,41.3h9.8v2.5h-9.8zM63.4,41.3h2.5v2.5h-2.5zM75.5,41.3h9.8v2.5h-9.8zM87.7,41.3h4.9v2.5h-4.9zM29.5,38.8h2.5v2.5h-2.5zM63.4,38.8h2.5v2.5h-2.5zM90.1,38.8h2.5v2.5h-2.5zM29.5,36.4h2.5v2.5h-2.5zM75.5,36.4h2.5v2.5h-2.5zM29.5,34.0h2.5v2.5h-2.5zM63.4,34.0h2.5v2.5h-2.5zM73.1,34.0h4.9v2.5h-4.9zM29.5,31.5h2.5v2.5h-2.5zM65.9,31.5h9.8v2.5h-9.8zM82.8,31.5h2.5v2.5h-2.5zM31.9,29.1h2.5v2.5h-2.5zM68.3,29.1h9.8v2.5h-9.8zM80.4,29.1h2.5v2.5h-2.5zM70.7,26.7h2.5v2.5h-2.5zM78.0,24.2h2.5v2.5h-2.5zM73.1,21.8h4.9v2.5h-4.9zM68.3,19.4h7.4v2.5h-7.4zM63.4,17.0h12.2v2.5h-12.2zM70.7,14.5h2.5v2.5h-2.5zM65.9,12.1h4.9v2.5h-4.9z"/>
<path fill="#001aff" d="M34.4,99.6h2.5v2.5h-2.5zM39.2,99.6h2.5v2.5h-2.5zM56.2,99.6h4.9v2.5h-4.9zM39.2,97.1h2.5v2.5h-2.5zM46.5,97.1h2.5v2.5h-2.5zM53.7,97.1h4.9v2.5h-4.9zM39.2,94.7h9.8v2.5h-9.8zM63.4,94.7h2.5v2.5h-2.5zM73.1,94.7h2.5v2.5h-2.5zM80.4,94.7h4.9v2.5h-4.9zM36.8,92.3h4.9v2.5h-4.9zM87.7,92.3h2.5v2.5h-2.5zM39.2,89.9h2.5v2.5h-2.5zM29.5,87.4h2.5v2.5h-2.5zM39.2,87.4h4.9v2.5h-4.9zM31.9,85.0h2.5v2.5h-2.5zM41.6,85.0h2.5v2.5h-2.5zM31.9,82.6h12.2v2.5h-12.2zM75.5,82.6h2.5v2.5h-2.5zM87.7,82.6h4.9v2.5h-4.9zM29.5,80.1h2.5v2.5h-2.5zM34.4,80.1h4.9v2.5h-4.9zM41.6,80.1h7.4v2.5h-7.4zM87.7,80.1h4.9v2.5h-4.9zM24.7,77.7h2.5v2.5h-2.5zM31.9,77.7h2.5v2.5h-2.5zM39.2,77.7h7.4v2.5h-7.4zM48.9,77.7h2.5v2.5h-2.5zM73.1,77.7h2.5v2.5h-2.5zM87.7,77.7h2.5v2.5h-2.5zM92.5,77.7h2.5v2.5h-2.5zM27.1,75.3h2.5v2.5h-2.5zM36.8,75.3h9.8v2.5h-9.8zM48.9,75.3h12.2v2.5h-12.2zM68.3,75.3h9.8v2.5h-9.8zM80.4,75.3h2.5v2.5h-2.5zM92.5,75.3h2.5v2.5h-2.5zM27.1,72.8h2.5v2.5h-2.5zM41.6,72.8h4.9v2.5h-4.9zM48.9,72.8h4.9v2.5h-4.9zM61.0,72.8h4.9v2.5h-4.9zM78.0,72.8h9.8v2.5h-9.8zM97.4,72.8h2.5v2.5h-2.5zM27.1,70.4h2.5v2.5h-2.5zM41.6,70.4h2.5v2.5h-2.5zM53.7,70.4h2.5v2.5h-2.5zM73.1,70.4h2.5v2.5h-2.5zM56.2,68.0h2.5v2.5h-2.5zM56.2,65.6h2.5v2.5h-2.5zM53.7,63.1h2.5v2.5h-2.5zM80.4,63.1h2.5v2.5h-2.5zM75.5,60.7h7.4v2.5h-7.4zM78.0,58.3h4.9v2.5h-4.9zM78.0,55.8h4.9v2.5h-4.9zM78.0,53.4h2.5v2.5h-2.5zM80.4,46.1h2.5v2.5h-2.5zM51.3,43.7h2.5v2.5h-2.5zM58.6,43.7h2.5v2.5h-2.5zM78.0,43.7h4.9v2.5h-4.9zM36.8,41.3h4.9v2.5h-4.9zM56.2,41.3h7.4v2.5h-7.4zM31.9,38.8h4.9v2.5h-4.9zM39.2,38.8h9.8v2.5h-9.8zM61.0,38.8h2.5v2.5h-2.5zM31.9,36.4h2.5v2.5h-2.5zM46.5,36.4h2.5v2.5h-2.5zM61.0,36.4h2.5v2.5h-2.5zM31.9,34.0h2.5v2.5h-2.5zM61.0,34.0h2.5v2.5h-2.5zM27.1,31.5h2.5v2.5h-2.5zM34.4,31.5h2.5v2.5h-2.5zM56.2,31.5h2.5v2.5h-2.5zM61.0,31.5h4.9v2.5h-4.9zM80.4,31.5h2.5v2.5h-2.5zM85.2,31.5h2.5v2.5h-2.5zM29.5,29.1h2.5v2.5h-2.5zM58.6,29.1h2.5v2.5h-2.5zM63.4,29.1h4.9v2.5h-4.9zM78.0,29.1h2.5v2.5h-2.5zM82.8,29.1h2.5v2.5h-2.5zM31.9,26.7h2.5v2.5h-2.5zM56.2,26.7h4.9v2.5h-4.9zM63.4,26.7h7.4v2.5h-7.4zM73.1,26.7h9.8v2.5h-9.8zM68.3,24.2h9.8v2.5h-9.8zM70.7,21.8h2.5v2.5h-2.5zM63.4,19.4h4.9v2.5h-4.9zM58.6,17.0h4.9v2.5h-4.9z"/>
<path fill="#0033ff" d="M48.9,94.7h2.5v2.5h-2.5zM61.0,94.7h2.5v2.5h-2.5zM70.7,94.7h2.5v2.5h-2.5zM41.6,92.3h2.5v2.5h-2.5zM78.0,92.3h9.8v2.5h-9.8zM85.2,89.9h4.9v2.5h-4.9zM87.7,87.4h4.9v2.5h-4.9zM44.0,85.0h2.5v2.5h-2.5zM75.5,85.0h2.5v2.5h-2.5zM87.7,85.0h4.9v2.5h-4.9zM44.0,82.6h4.9v2.5h-4.9zM73.1,82.6h2.5v2.5h-2.5zM82.8,82.6h4.9v2.5h-4.9zM92.5,82.6h2.5v2.5h-2.5zM39.2,80.1h2.5v2.5h-2.5zM70.7,80.1h7.4v2.5h-7.4zM85.2,80.1h2.5v2.5h-2.5zM92.5,80.1h2.5v2.5h-2.5zM36.8,77.7h2.5v2.5h-2.5zM46.5,77.7h2.5v2.5h-2.5zM51.3,77.7h12.2v2.5h-12.2zM68.3,77.7h4.9v2.5h-4.9zM75.5,77.7h4.9v2.5h-4.9zM85.2,77.7h2.5v2.5h-2.5zM61.0,75.3h7.4v2.5h-7.4zM78.0,75.3h2.5v2.5h-2.5zM82.8,75.3h4.9v2.5h-4.9zM94.9,72.8h2.5v2.5h-2.5zM53.7,43.7h4.9v2.5h-4.9zM51.3,41.3h4.9v2.5h-4.9zM36.8,38.8h2.5v2.5h-2.5zM48.9,38.8h12.2v2.5h-12.2zM34.4,36.4h12.2v2.5h-12.2zM48.9,36.4h7.4v2.5h-7.4zM58.6,36.4h2.5v2.5h-2.5zM34.4,34.0h4.9v2.5h-4.9zM46.5,34.0h14.6v2.5h-14.6zM31.9,31.5h2.5v2.5h-2.5zM53.7,31.5h2.5v2.5h-2.5zM58.6,31.5h2.5v2.5h-2.5zM27.1,29.1h2.5v2.5h-2.5zM34.4,29.1h4.9v2.5h-4.9zM51.3,29.1h7.4v2.5h-7.4zM61.0,29.1h2.5v2.5h-2.5zM24.7,26.7h7.4v2.5h-7.4zM34.4,26.7h2.5v2.5h-2.5zM61.0,26.7h2.5v2.5h-2.5zM56.2,24.2h12.2v2.5h-12.2zM58.6,21.8h12.2v2.5h-12.2zM48.9,19.4h2.5v2.5h-2.5zM61.0,19.4h2.5v2.5h-2.5zM36.8,17.0h2.5v2.5h-2.5zM41.6,17.0h17.1v2.5h-17.1z"/>
<path fill="#004dff" d="M51.3,94.7h4.9v2.5h-4.9zM58.6,94.7h2.5v2.5h-2.5zM44.0,92.3h2.5v2.5h-2.5zM73.1,92.3h4.9v2.5h-4.9zM41.6,89.9h2.5v2.5h-2.5zM82.8,89.9h2.5v2.5h-2.5zM44.0,87.4h4.9v2.5h-4.9zM46.5,85.0h2.5v2.5h-2.5zM73.1,85.0h2.5v2.5h-2.5zM78.0,85.0h2.5v2.5h-2.5zM85.2,85.0h2.5v2.5h-2.5zM48.9,82.6h2.5v2.5h-2.5zM70.7,82.6h2.5v2.5h-2.5zM78.0,82.6h4.9v2.5h-4.9zM48.9,80.1h2.5v2.5h-2.5zM53.7,80.1h9.8v2.5h-9.8zM68.3,80.1h2.5v2.5h-2.5zM78.0,80.1h7.4v2.5h-7.4zM63.4,77.7h4.9v2.5h-4.9zM80.4,77.7h4.9v2.5h-4.9zM56.2,36.4h2.5v2.5h-2.5zM41.6,34.0h4.9v2.5h-4.9zM36.8,31.5h2.5v2.5h-2.5zM46.5,31.5h7.4v2.5h-7.4zM36.8,26.7h2.5v2.5h-2.5zM51.3,26.7h4.9v2.5h-4.9zM29.5,24.2h9.8v2.5h-9.8zM53.7,24.2h2.5v2.5h-2.5zM34.4,21.8h4.9v2.5h-4.9zM48.9,21.8h7.4v2.5h-7.4zM51.3,19.4h9.8v2.5h-9.8zM39.2,17.0h2.5v2.5h-2.5z"/>
<path fill="#0066ff" d="M56.2,94.7h2.5v2.5h-2.5zM70.7,92.3h2.5v2.5h-2.5zM44.0,89.9h2.5v2.5h-2.5zM73.1,89.9h2.5v2.5h-2.5zM70.7,87.4h4.9v2.5h-4.9zM85.2,87.4h2.5v2.5h-2.5zM48.9,85.0h2.5v2.5h-2.5zM70.7,85.0h2.5v2.5h-2.5zM80.4,85.0h4.9v2.5h-4.9zM51.3,82.6h2.5v2.5h-2.5zM56.2,82.6h7.4v2.5h-7.4zM51.3,80.1h2.5v2.5h-2.5zM63.4,80.1h4.9v2.5h-4.9zM39.2,34.0h2.5v2.5h-2.5zM44.0,31.5h2.5v2.5h-2.5zM39.2,29.1h2.5v2.5h-2.5zM48.9,29.1h2.5v2.5h-2.5zM39.2,26.7h2.5v2.5h-2.5zM48.9,26.7h2.5v2.5h-2.5zM39.2,24.2h2.5v2.5h-2.5zM48.9,24.2h4.9v2.5h-4.9zM31.9,21.8h2.5v2.5h-2.5zM39.2,21.8h2.5v2.5h-2.5zM56.2,21.8h2.5v2.5h-2.5zM34.4,19.4h7.4v2.5h-7.4zM46.5,19.4h2.5v2.5h-2.5z"/>
<path fill="#0080ff" d="M46.5,92.3h2.5v2.5h-2.5zM70.7,89.9h2.5v2.5h-2.5zM75.5,89.9h7.4v2.5h-7.4zM48.9,87.4h2.5v2.5h-2.5zM75.5,87.4h4.9v2.5h-4.9zM82.8,87.4h2.5v2.5h-2.5zM51.3,85.0h12.2v2.5h-12.2zM68.3,85.0h2.5v2.5h-2.5zM53.7,82.6h2.5v2.5h-2.5zM63.4,82.6h7.4v2.5h-7.4zM94.9,75.3h2.5v2.5h-2.5zM41.6,31.5h2.5v2.5h-2.5zM46.5,29.1h2.5v2.5h-2.5zM46.5,24.2h2.5v2.5h-2.5zM46.5,21.8h2.5v2.5h-2.5zM41.6,19.4h4.9v2.5h-4.9z"/>
<path fill="#0099ff" d="M48.9,92.3h2.5v2.5h-2.5zM63.4,92.3h7.4v2.5h-7.4zM46.5,89.9h2.5v2.5h-2.5zM68.3,89.9h2.5v2.5h-2.5zM51.3,87.4h2.5v2.5h-2.5zM68.3,87.4h2.5v2.5h-2.5zM80.4,87.4h2.5v2.5h-2.5zM63.4,85.0h4.9v2.5h-4.9zM94.9,77.7h2.5v2.5h-2.5zM39.2,31.5h2.5v2.5h-2.5zM46.5,26.7h2.5v2.5h-2.5zM41.6,24.2h2.5v2.5h-2.5zM41.6,21.8h4.9v2.5h-4.9z"/>
<path fill="#00b3ff" d="M51.3,92.3h2.5v2.5h-2.5zM65.9,89.9h2.5v2.5h-2.5zM53.7,87.4h14.6v2.5h-14.6zM41.6,29.1h4.9v2.5h-4.9zM44.0,24.2h2.5v2.5h-2.5z"/>
<path fill="#00ccff" d="M61.0,92.3h2.5v2.5h-2.5zM48.9,89.9h2.5v2.5h-2.5zM63.4,89.9h2.5v2.5h-2.5zM41.6,26.7h2.5v2.5h-2.5z"/>
<path fill="#00e5ff" d="M53.7,92.3h7.4v2.5h-7.4zM51.3,89.9h2.5v2.5h-2.5zM58.6,89.9h2.5v2.5h-2.5zM44.0,26.7h2.5v2.5h-2.5z"/>
<path fill="#00ffff" d="M56.2,89.9h2.5v2.5h-2.5zM61.0,89.9h2.5v2.5h-2.5z"/>
<path fill="#1affe5" d="M53.7,89.9h2.5v2.5h-2.5z"/></g>
<use href="#geo"/><g><rect x="0" y="0" width="110.00" height="121.50" fill="none" stroke="#7d7d7d" stroke-width="0.85"/><path d="M12.60,121.50v-1.2M12.60,0v1.2M36.83,121.50v-1.2M36.83,0v1.2M61.06,121.50v-1.2M61.06,0v1.2M85.29,121.50v-1.2M85.29,0v1.2M0,97.20h1.2M110.00,97.20h-1.2M0,72.90h1.2M110.00,72.90h-1.2M0,48.60h1.2M110.00,48.60h-1.2M0,24.30h1.2M110.00,24.30h-1.2" stroke="#8c8c8c" stroke-width="0.6" fill="none"/><g font-size="7.0" fill="#333" text-anchor="middle"><text x="12.60" y="131.50">126</text><text x="36.83" y="131.50">127</text><text x="61.06" y="131.50">128</text><text x="85.29" y="131.50">129</text><text x="110.12" y="131.50">130</text></g><g font-size="7.0" fill="#333" text-anchor="end"><text x="-2.6" y="124.50">34</text><text x="-2.6" y="100.20">35</text><text x="-2.6" y="75.90">36</text><text x="-2.6" y="51.60">37</text><text x="-2.6" y="27.30">38</text><text x="-2.6" y="3.00">39</text></g></g>
</g>
<rect x="164.00" y="23.00" width="10.80" height="121.50" fill="url(#jet)" stroke="#333" stroke-width="0.3"/>
<g font-size="7.0" fill="#333">
<text x="176.80" y="25.90">9000</text>
<text x="176.80" y="66.40">6000</text>
<text x="176.80" y="106.90">3000</text>
<text x="176.80" y="147.40">0</text>
</g>
<g transform="translate(219.90,23.00)">
<use href="#grid"/>
<g shape-rendering="crispEdges"><path fill="#000080" d="M68.3,82.6h4.9v2.5h-4.9zM87.7,82.6h7.4v2.5h-7.4zM80.4,80.1h4.9v2.5h-4.9zM87.7,77.7h4.9v2.5h-4.9z"/>
<path fill="#000099" d="M68.3,85.0h4.9v2.5h-4.9zM73.1,82.6h2.5v2.5h-2.5zM80.4,82.6h4.9v2.5h-4.9zM65.9,80.1h14.6v2.5h-14.6zM85.2,80.1h4.9v2.5h-4.9zM65.9,77.7h7.4v2.5h-7.4zM80.4,77.7h7.4v2.5h-7.4zM82.8,75.3h2.5v2.5h-2.5zM87.7,75.3h2.5v2.5h-2.5zM68.3,72.8h2.5v2.5h-2.5zM75.5,72.8h2.5v2.5h-2.5zM80.4,72.8h12.2v2.5h-12.2zM65.9,31.5h2.5v2.5h-2.5zM65.9,29.1h2.5v2.5h-2.5zM65.9,26.7h2.5v2.5h-2.5z"/>
<path fill="#0000b3" d="M29.5,104.4h2.5v2.5h-2.5zM46.5,89.9h2.5v2.5h-2.5zM80.4,89.9h9.8v2.5h-9.8zM44.0,87.4h2.5v2.5h-2.5zM87.7,87.4h2.5v2.5h-2.5zM65.9,85.0h2.5v2.5h-2.5zM78.0,85.0h7.4v2.5h-7.4zM87.7,85.0h4.9v2.5h-4.9zM90.1,80.1h4.9v2.5h-4.9zM73.1,77.7h2.5v2.5h-2.5zM78.0,77.7h2.5v2.5h-2.5zM92.5,77.7h4.9v2.5h-4.9zM63.4,75.3h9.8v2.5h-9.8zM85.2,75.3h2.5v2.5h-2.5zM90.1,75.3h7.4v2.5h-7.4zM65.9,72.8h2.5v2.5h-2.5zM70.7,72.8h4.9v2.5h-4.9zM78.0,72.8h2.5v2.5h-2.5zM92.5,72.8h4.9v2.5h-4.9zM68.3,70.4h4.9v2.5h-4.9zM90.1,70.4h2.5v2.5h-2.5zM61.0,68.0h7.4v2.5h-7.4zM75.5,68.0h2.5v2.5h-2.5zM80.4,68.0h4.9v2.5h-4.9zM87.7,68.0h2.5v2.5h-2.5zM61.0,65.6h4.9v2.5h-4.9zM58.6,63.1h4.9v2.5h-4.9zM48.9,60.7h2.5v2.5h-2.5zM73.1,60.7h9.8v2.5h-9.8zM70.7,58.3h4.9v2.5h-4.9zM78.0,58.3h2.5v2.5h-2.5zM48.9,55.8h2.5v2.5h-2.5zM73.1,55.8h7.4v2.5h-7.4zM48.9,53.4h2.5v2.5h-2.5zM87.7,46.1h4.9v2.5h-4.9zM48.9,43.7h2.5v2.5h-2.5zM48.9,41.3h2.5v2.5h-2.5zM58.6,41.3h2.5v2.5h-2.5zM73.1,41.3h2.5v2.5h-2.5zM48.9,38.8h2.5v2.5h-2.5zM58.6,38.8h4.9v2.5h-4.9zM48.9,36.4h2.5v2.5h-2.5zM58.6,36.4h4.9v2.5h-4.9zM58.6,34.0h7.4v2.5h-7.4zM56.2,31.5h4.9v2.5h-4.9zM68.3,31.5h4.9v2.5h-4.9zM56.2,29.1h2.5v2.5h-2.5zM68.3,29.1h4.9v2.5h-4.9zM68.3,26.7h2.5v2.5h-2.5zM51.3,24.2h7.4v2.5h-7.4zM51.3,21.8h7.4v2.5h-7.4zM51.3,19.4h2.5v2.5h-2.5z"/>
<path fill="#0000cc" d="M27.1,106.9h2.5v2.5h-2.5zM31.9,106.9h2.5v2.5h-2.5zM31.9,104.4h4.9v2.5h-4.9zM31.9,102.0h2.5v2.5h-2.5zM39.2,102.0h2.5v2.5h-2.5zM31.9,99.6h2.5v2.5h-2.5zM31.9,97.1h2.5v2.5h-2.5zM39.2,97.1h4.9v2.5h-4.9zM75.5,97.1h2.5v2.5h-2.5zM31.9,94.7h2.5v2.5h-2.5zM36.8,94.7h7.4v2.5h-7.4zM34.4,92.3h9.8v2.5h-9.8zM80.4,92.3h7.4v2.5h-7.4zM29.5,89.9h7.4v2.5h-7.4zM39.2,89.9h7.4v2.5h-7.4zM31.9,87.4h4.9v2.5h-4.9zM39.2,87.4h4.9v2.5h-4.9zM90.1,87.4h2.5v2.5h-2.5zM31.9,85.0h4.9v2.5h-4.9zM41.6,85.0h4.9v2.5h-4.9zM63.4,85.0h2.5v2.5h-2.5zM73.1,85.0h4.9v2.5h-4.9zM85.2,85.0h2.5v2.5h-2.5zM63.4,82.6h2.5v2.5h-2.5zM36.8,77.7h2.5v2.5h-2.5zM75.5,77.7h2.5v2.5h-2.5zM29.5,75.3h4.9v2.5h-4.9zM31.9,72.8h2.5v2.5h-2.5zM97.4,72.8h2.5v2.5h-2.5zM61.0,70.4h7.4v2.5h-7.4zM80.4,70.4h2.5v2.5h-2.5zM87.7,70.4h2.5v2.5h-2.5zM92.5,70.4h4.9v2.5h-4.9zM36.8,68.0h7.4v2.5h-7.4zM51.3,68.0h4.9v2.5h-4.9zM68.3,68.0h7.4v2.5h-7.4zM78.0,68.0h2.5v2.5h-2.5zM85.2,68.0h2.5v2.5h-2.5zM90.1,68.0h7.4v2.5h-7.4zM51.3,65.6h2.5v2.5h-2.5zM65.9,65.6h4.9v2.5h-4.9zM75.5,65.6h4.9v2.5h-4.9zM51.3,63.1h2.5v2.5h-2.5zM63.4,63.1h2.5v2.5h-2.5zM68.3,63.1h7.4v2.5h-7.4zM78.0,63.1h7.4v2.5h-7.4zM87.7,63.1h4.9v2.5h-4.9zM44.0,60.7h4.9v2.5h-4.9zM65.9,60.7h7.4v2.5h-7.4zM85.2,60.7h7.4v2.5h-7.4zM44.0,58.3h7.4v2.5h-7.4zM65.9,58.3h4.9v2.5h-4.9zM75.5,58.3h2.5v2.5h-2.5zM87.7,58.3h2.5v2.5h-2.5zM44.0,55.8h4.9v2.5h-4.9zM56.2,55.8h2.5v2.5h-2.5zM65.9,55.8h2.5v2.5h-2.5zM70.7,55.8h2.5v2.5h-2.5zM80.4,55.8h4.9v2.5h-4.9zM44.0,53.4h4.9v2.5h-4.9zM73.1,53.4h4.9v2.5h-4.9zM44.0,51.0h7.4v2.5h-7.4zM73.1,51.0h4.9v2.5h-4.9zM80.4,51.0h2.5v2.5h-2.5zM87.7,51.0h2.5v2.5h-2.5zM44.0,48.5h2.5v2.5h-2.5zM48.9,48.5h4.9v2.5h-4.9zM73.1,48.5h7.4v2.5h-7.4zM34.4,46.1h21.9v2.5h-21.9zM82.8,46.1h2.5v2.5h-2.5zM92.5,46.1h2.5v2.5h-2.5zM39.2,43.7h9.8v2.5h-9.8zM53.7,43.7h2.5v2.5h-2.5zM87.7,43.7h4.9v2.5h-4.9zM51.3,41.3h7.4v2.5h-7.4zM61.0,41.3h2.5v2.5h-2.5zM75.5,41.3h2.5v2.5h-2.5zM80.4,41.3h2.5v2.5h-2.5zM85.2,41.3h7.4v2.5h-7.4zM51.3,38.8h2.5v2.5h-2.5zM56.2,38.8h2.5v2.5h-2.5zM63.4,38.8h4.9v2.5h-4.9zM51.3,36.4h7.4v2.5h-7.4zM63.4,36.4h9.8v2.5h-9.8zM48.9,34.0h2.5v2.5h-2.5zM56.2,34.0h2.5v2.5h-2.5zM65.9,34.0h2.5v2.5h-2.5zM70.7,34.0h2.5v2.5h-2.5zM53.7,31.5h2.5v2.5h-2.5zM61.0,31.5h2.5v2.5h-2.5zM73.1,31.5h2.5v2.5h-2.5zM85.2,31.5h2.5v2.5h-2.5zM48.9,29.1h7.4v2.5h-7.4zM58.6,29.1h2.5v2.5h-2.5zM82.8,29.1h2.5v2.5h-2.5zM48.9,26.7h12.2v2.5h-12.2zM63.4,26.7h2.5v2.5h-2.5zM70.7,26.7h2.5v2.5h-2.5zM58.6,24.2h2.5v2.5h-2.5zM63.4,24.2h4.9v2.5h-4.9zM48.9,21.8h2.5v2.5h-2.5zM58.6,21.8h2.5v2.5h-2.5zM63.4,21.8h4.9v2.5h-4.9zM48.9,19.4h2.5v2.5h-2.5zM53.7,19.4h7.4v2.5h-7.4zM39.2,17.0h2.5v2.5h-2.5zM46.5,17.0h2.5v2.5h-2.5zM51.3,17.0h7.4v2.5h-7.4z"/>
<path fill="#0000e6" d="M24.7,106.9h2.5v2.5h-2.5zM27.1,104.4h2.5v2.5h-2.5zM34.4,102.0h2.5v2.5h-2.5zM34.4,99.6h9.8v2.5h-9.8zM34.4,97.1h4.9v2.5h-4.9zM24.7,94.7h4.9v2.5h-4.9zM27.1,92.3h2.5v2.5h-2.5zM31.9,92.3h2.5v2.5h-2.5zM44.0,92.3h4.9v2.5h-4.9zM87.7,92.3h2.5v2.5h-2.5zM36.8,89.9h2.5v2.5h-2.5zM36.8,87.4h2.5v2.5h-2.5zM36.8,85.0h4.9v2.5h-4.9zM44.0,82.6h2.5v2.5h-2.5zM63.4,80.1h2.5v2.5h-2.5zM29.5,77.7h7.4v2.5h-7.4zM39.2,77.7h7.4v2.5h-7.4zM34.4,75.3h7.4v2.5h-7.4zM29.5,72.8h2.5v2.5h-2.5zM34.4,72.8h9.8v2.5h-9.8zM29.5,70.4h7.4v2.5h-7.4zM41.6,70.4h2.5v2.5h-2.5zM48.9,70.4h2.5v2.5h-2.5zM29.5,68.0h7.4v2.5h-7.4zM44.0,68.0h2.5v2.5h-2.5zM48.9,65.6h2.5v2.5h-2.5zM53.7,65.6h4.9v2.5h-4.9zM70.7,65.6h4.9v2.5h-4.9zM80.4,65.6h12.2v2.5h-12.2zM39.2,63.1h2.5v2.5h-2.5zM48.9,63.1h2.5v2.5h-2.5zM53.7,63.1h4.9v2.5h-4.9zM65.9,63.1h2.5v2.5h-2.5zM75.5,63.1h2.5v2.5h-2.5zM85.2,63.1h2.5v2.5h-2.5zM56.2,60.7h2.5v2.5h-2.5zM61.0,60.7h2.5v2.5h-2.5zM82.8,60.7h2.5v2.5h-2.5zM51.3,58.3h2.5v2.5h-2.5zM56.2,58.3h2.5v2.5h-2.5zM80.4,58.3h7.4v2.5h-7.4zM90.1,58.3h2.5v2.5h-2.5zM29.5,55.8h2.5v2.5h-2.5zM51.3,55.8h2.5v2.5h-2.5zM63.4,55.8h2.5v2.5h-2.5zM68.3,55.8h2.5v2.5h-2.5zM85.2,55.8h7.4v2.5h-7.4zM51.3,53.4h7.4v2.5h-7.4zM78.0,53.4h14.6v2.5h-14.6zM94.9,53.4h2.5v2.5h-2.5zM15.0,51.0h2.5v2.5h-2.5zM31.9,51.0h2.5v2.5h-2.5zM51.3,51.0h4.9v2.5h-4.9zM78.0,51.0h2.5v2.5h-2.5zM82.8,51.0h4.9v2.5h-4.9zM90.1,51.0h2.5v2.5h-2.5zM94.9,51.0h2.5v2.5h-2.5zM46.5,48.5h2.5v2.5h-2.5zM53.7,48.5h7.4v2.5h-7.4zM80.4,48.5h12.2v2.5h-12.2zM31.9,46.1h2.5v2.5h-2.5zM58.6,46.1h2.5v2.5h-2.5zM75.5,46.1h4.9v2.5h-4.9zM85.2,46.1h2.5v2.5h-2.5zM31.9,43.7h7.4v2.5h-7.4zM51.3,43.7h2.5v2.5h-2.5zM75.5,43.7h2.5v2.5h-2.5zM82.8,43.7h4.9v2.5h-4.9zM92.5,43.7h2.5v2.5h-2.5zM29.5,41.3h2.5v2.5h-2.5zM39.2,41.3h2.5v2.5h-2.5zM44.0,41.3h4.9v2.5h-4.9zM63.4,41.3h2.5v2.5h-2.5zM78.0,41.3h2.5v2.5h-2.5zM82.8,41.3h2.5v2.5h-2.5zM29.5,38.8h2.5v2.5h-2.5zM44.0,38.8h4.9v2.5h-4.9zM53.7,38.8h2.5v2.5h-2.5zM68.3,38.8h7.4v2.5h-7.4zM87.7,38.8h4.9v2.5h-4.9zM29.5,36.4h2.5v2.5h-2.5zM44.0,36.4h4.9v2.5h-4.9zM73.1,36.4h4.9v2.5h-4.9zM87.7,36.4h2.5v2.5h-2.5zM51.3,34.0h4.9v2.5h-4.9zM68.3,34.0h2.5v2.5h-2.5zM73.1,34.0h2.5v2.5h-2.5zM82.8,34.0h2.5v2.5h-2.5zM51.3,31.5h2.5v2.5h-2.5zM63.4,31.5h2.5v2.5h-2.5zM75.5,31.5h9.8v2.5h-9.8zM61.0,29.1h4.9v2.5h-4.9zM73.1,29.1h2.5v2.5h-2.5zM80.4,29.1h2.5v2.5h-2.5zM46.5,26.7h2.5v2.5h-2.5zM61.0,26.7h2.5v2.5h-2.5zM75.5,26.7h2.5v2.5h-2.5zM80.4,26.7h2.5v2.5h-2.5zM48.9,24.2h2.5v2.5h-2.5zM61.0,24.2h2.5v2.5h-2.5zM70.7,24.2h9.8v2.5h-9.8zM44.0,21.8h4.9v2.5h-4.9zM61.0,21.8h2.5v2.5h-2.5zM73.1,21.8h4.9v2.5h-4.9zM46.5,19.4h2.5v2.5h-2.5zM61.0,19.4h7.4v2.5h-7.4zM73.1,19.4h2.5v2.5h-2.5zM36.8,17.0h2.5v2.5h-2.5zM41.6,17.0h4.9v2.5h-4.9zM48.9,17.0h2.5v2.5h-2.5zM58.6,17.0h14.6v2.5h-14.6z"/>
<path fill="#0000ff" d="M29.5,106.9h2.5v2.5h-2.5zM24.7,104.4h2.5v2.5h-2.5zM36.8,102.0h2.5v2.5h-2.5zM75.5,99.6h2.5v2.5h-2.5zM29.5,94.7h2.5v2.5h-2.5zM34.4,94.7h2.5v2.5h-2.5zM44.0,94.7h4.9v2.5h-4.9zM29.5,92.3h2.5v2.5h-2.5zM27.1,89.9h2.5v2.5h-2.5zM63.4,77.7h2.5v2.5h-2.5zM41.6,75.3h4.9v2.5h-4.9zM44.0,72.8h2.5v2.5h-2.5zM36.8,70.4h4.9v2.5h-4.9zM44.0,70.4h4.9v2.5h-4.9zM24.7,68.0h2.5v2.5h-2.5zM46.5,68.0h4.9v2.5h-4.9zM36.8,65.6h12.2v2.5h-12.2zM92.5,65.6h2.5v2.5h-2.5zM36.8,63.1h2.5v2.5h-2.5zM41.6,63.1h4.9v2.5h-4.9zM92.5,63.1h2.5v2.5h-2.5zM36.8,60.7h4.9v2.5h-4.9zM51.3,60.7h4.9v2.5h-4.9zM58.6,60.7h2.5v2.5h-2.5zM63.4,60.7h2.5v2.5h-2.5zM92.5,60.7h2.5v2.5h-2.5zM29.5,58.3h2.5v2.5h-2.5zM36.8,58.3h7.4v2.5h-7.4zM53.7,58.3h2.5v2.5h-2.5zM58.6,58.3h4.9v2.5h-4.9zM17.4,55.8h2.5v2.5h-2.5zM22.2,55.8h2.5v2.5h-2.5zM34.4,55.8h9.8v2.5h-9.8zM53.7,55.8h2.5v2.5h-2.5zM58.6,55.8h4.9v2.5h-4.9zM15.0,53.4h4.9v2.5h-4.9zM34.4,53.4h4.9v2.5h-4.9zM58.6,53.4h2.5v2.5h-2.5zM65.9,53.4h7.4v2.5h-7.4zM17.4,51.0h2.5v2.5h-2.5zM29.5,51.0h2.5v2.5h-2.5zM34.4,51.0h4.9v2.5h-4.9zM41.6,51.0h2.5v2.5h-2.5zM56.2,51.0h4.9v2.5h-4.9zM65.9,51.0h4.9v2.5h-4.9zM29.5,48.5h7.4v2.5h-7.4zM65.9,48.5h7.4v2.5h-7.4zM92.5,48.5h2.5v2.5h-2.5zM56.2,46.1h2.5v2.5h-2.5zM73.1,46.1h2.5v2.5h-2.5zM80.4,46.1h2.5v2.5h-2.5zM56.2,43.7h4.9v2.5h-4.9zM73.1,43.7h2.5v2.5h-2.5zM78.0,43.7h4.9v2.5h-4.9zM36.8,41.3h2.5v2.5h-2.5zM41.6,41.3h2.5v2.5h-2.5zM65.9,41.3h7.4v2.5h-7.4zM31.9,38.8h9.8v2.5h-9.8zM78.0,38.8h2.5v2.5h-2.5zM82.8,38.8h2.5v2.5h-2.5zM34.4,36.4h4.9v2.5h-4.9zM41.6,36.4h2.5v2.5h-2.5zM78.0,36.4h9.8v2.5h-9.8zM75.5,34.0h7.4v2.5h-7.4zM85.2,34.0h2.5v2.5h-2.5zM48.9,31.5h2.5v2.5h-2.5zM44.0,29.1h4.9v2.5h-4.9zM75.5,29.1h4.9v2.5h-4.9zM44.0,26.7h2.5v2.5h-2.5zM73.1,26.7h2.5v2.5h-2.5zM78.0,26.7h2.5v2.5h-2.5zM44.0,24.2h2.5v2.5h-2.5zM68.3,24.2h2.5v2.5h-2.5zM36.8,21.8h7.4v2.5h-7.4zM68.3,21.8h4.9v2.5h-4.9zM36.8,19.4h4.9v2.5h-4.9zM44.0,19.4h2.5v2.5h-2.5zM73.1,17.0h2.5v2.5h-2.5z"/>
<path fill="#001aff" d="M24.7,77.7h4.9v2.5h-4.9zM27.1,75.3h2.5v2.5h-2.5zM27.1,72.8h2.5v2.5h-2.5zM27.1,68.0h2.5v2.5h-2.5zM46.5,63.1h2.5v2.5h-2.5zM41.6,60.7h2.5v2.5h-2.5zM24.7,58.3h4.9v2.5h-4.9zM31.9,58.3h4.9v2.5h-4.9zM63.4,58.3h2.5v2.5h-2.5zM19.8,55.8h2.5v2.5h-2.5zM24.7,55.8h2.5v2.5h-2.5zM31.9,55.8h2.5v2.5h-2.5zM24.7,53.4h9.8v2.5h-9.8zM39.2,53.4h4.9v2.5h-4.9zM61.0,53.4h4.9v2.5h-4.9zM92.5,53.4h2.5v2.5h-2.5zM24.7,51.0h4.9v2.5h-4.9zM39.2,51.0h2.5v2.5h-2.5zM70.7,51.0h2.5v2.5h-2.5zM92.5,51.0h2.5v2.5h-2.5zM24.7,48.5h2.5v2.5h-2.5zM36.8,48.5h7.4v2.5h-7.4zM61.0,48.5h4.9v2.5h-4.9zM61.0,46.1h2.5v2.5h-2.5zM61.0,43.7h4.9v2.5h-4.9zM31.9,41.3h4.9v2.5h-4.9zM41.6,38.8h2.5v2.5h-2.5zM75.5,38.8h2.5v2.5h-2.5zM80.4,38.8h2.5v2.5h-2.5zM85.2,38.8h2.5v2.5h-2.5zM31.9,36.4h2.5v2.5h-2.5zM39.2,36.4h2.5v2.5h-2.5zM29.5,34.0h2.5v2.5h-2.5zM44.0,34.0h4.9v2.5h-4.9zM27.1,29.1h2.5v2.5h-2.5zM39.2,29.1h2.5v2.5h-2.5zM24.7,26.7h4.9v2.5h-4.9zM39.2,26.7h4.9v2.5h-4.9zM46.5,24.2h2.5v2.5h-2.5zM34.4,21.8h2.5v2.5h-2.5zM41.6,19.4h2.5v2.5h-2.5zM68.3,19.4h4.9v2.5h-4.9z"/>
<path fill="#0033ff" d="M27.1,55.8h2.5v2.5h-2.5zM61.0,51.0h4.9v2.5h-4.9zM27.1,48.5h2.5v2.5h-2.5zM63.4,46.1h2.5v2.5h-2.5zM68.3,46.1h2.5v2.5h-2.5zM65.9,43.7h2.5v2.5h-2.5zM44.0,31.5h2.5v2.5h-2.5zM36.8,29.1h2.5v2.5h-2.5zM41.6,29.1h2.5v2.5h-2.5zM29.5,26.7h2.5v2.5h-2.5zM36.8,26.7h2.5v2.5h-2.5zM31.9,21.8h2.5v2.5h-2.5zM34.4,19.4h2.5v2.5h-2.5z"/>
<path fill="#004dff" d="M29.5,102.0h2.5v2.5h-2.5zM27.1,70.4h2.5v2.5h-2.5zM65.9,46.1h2.5v2.5h-2.5zM70.7,46.1h2.5v2.5h-2.5zM68.3,43.7h4.9v2.5h-4.9zM27.1,31.5h2.5v2.5h-2.5zM46.5,31.5h2.5v2.5h-2.5zM29.5,29.1h2.5v2.5h-2.5zM29.5,24.2h2.5v2.5h-2.5z"/>
<path fill="#0066ff" d="M29.5,99.6h2.5v2.5h-2.5zM29.5,97.1h2.5v2.5h-2.5zM92.5,55.8h2.5v2.5h-2.5z"/>
<path fill="#0080ff" d="M24.7,102.0h2.5v2.5h-2.5zM24.7,99.6h4.9v2.5h-4.9zM24.7,97.1h4.9v2.5h-4.9zM92.5,58.3h2.5v2.5h-2.5zM94.9,55.8h2.5v2.5h-2.5zM29.5,31.5h2.5v2.5h-2.5zM36.8,24.2h7.4v2.5h-7.4z"/>
<path fill="#0099ff" d="M27.1,102.0h2.5v2.5h-2.5zM44.0,97.1h2.5v2.5h-2.5zM34.4,65.6h2.5v2.5h-2.5zM34.4,63.1h2.5v2.5h-2.5zM94.9,58.3h2.5v2.5h-2.5zM31.9,29.1h4.9v2.5h-4.9zM31.9,26.7h2.5v2.5h-2.5z"/>
<path fill="#00b3ff" d="M46.5,97.1h2.5v2.5h-2.5zM29.5,65.6h4.9v2.5h-4.9zM31.9,63.1h2.5v2.5h-2.5zM31.9,60.7h2.5v2.5h-2.5zM36.8,34.0h2.5v2.5h-2.5zM34.4,26.7h2.5v2.5h-2.5zM31.9,24.2h4.9v2.5h-4.9z"/>
<path fill="#00ccff" d="M29.5,63.1h2.5v2.5h-2.5zM29.5,60.7h2.5v2.5h-2.5zM34.4,60.7h2.5v2.5h-2.5zM22.2,51.0h2.5v2.5h-2.5zM19.8,48.5h2.5v2.5h-2.5zM39.2,34.0h4.9v2.5h-4.9z"/>
<path fill="#00e5ff" d="M24.7,60.7h2.5v2.5h-2.5zM19.8,53.4h2.5v2.5h-2.5zM19.8,51.0h2.5v2.5h-2.5zM22.2,48.5h2.5v2.5h-2.5zM39.2,31.5h4.9v2.5h-4.9z"/>
<path fill="#00ffff" d="M24.7,65.6h4.9v2.5h-4.9zM24.7,63.1h4.9v2.5h-4.9zM27.1,60.7h2.5v2.5h-2.5zM22.2,53.4h2.5v2.5h-2.5zM36.8,31.5h2.5v2.5h-2.5z"/>
<path fill="#80ff80" d="M31.9,34.0h4.9v2.5h-4.9z"/>
<path fill="#e5ff1a" d="M34.4,31.5h2.5v2.5h-2.5z"/>
<path fill="#ffff00" d="M31.9,31.5h2.5v2.5h-2.5z"/></g>
<use href="#geo"/><g><rect x="0" y="0" width="110.00" height="121.50" fill="none" stroke="#7d7d7d" stroke-width="0.85"/><path d="M12.60,121.50v-1.2M12.60,0v1.2M36.83,121.50v-1.2M36.83,0v1.2M61.06,121.50v-1.2M61.06,0v1.2M85.29,121.50v-1.2M85.29,0v1.2M0,97.20h1.2M110.00,97.20h-1.2M0,72.90h1.2M110.00,72.90h-1.2M0,48.60h1.2M110.00,48.60h-1.2M0,24.30h1.2M110.00,24.30h-1.2" stroke="#8c8c8c" stroke-width="0.6" fill="none"/><g font-size="7.0" fill="#333" text-anchor="middle"><text x="12.60" y="131.50">126</text><text x="36.83" y="131.50">127</text><text x="61.06" y="131.50">128</text><text x="85.29" y="131.50">129</text><text x="110.12" y="131.50">130</text></g><g font-size="7.0" fill="#333" text-anchor="end"><text x="-2.6" y="124.50">34</text><text x="-2.6" y="100.20">35</text><text x="-2.6" y="75.90">36</text><text x="-2.6" y="51.60">37</text><text x="-2.6" y="27.30">38</text><text x="-2.6" y="3.00">39</text></g></g>
</g>
<rect x="336.70" y="23.00" width="10.80" height="121.50" fill="url(#jet)" stroke="#333" stroke-width="0.3"/>
<g font-size="7.0" fill="#333">
<text x="349.50" y="25.90">9000</text>
<text x="349.50" y="66.40">6000</text>
<text x="349.50" y="106.90">3000</text>
<text x="349.50" y="147.40">0</text>
</g>
<g transform="translate(398.50,23.00)">
<use href="#grid"/>
<g shape-rendering="crispEdges"><path fill="#000080" d="M61.0,36.4h2.5v2.5h-2.5zM61.0,34.0h2.5v2.5h-2.5z"/>
<path fill="#000099" d="M56.2,36.4h4.9v2.5h-4.9zM58.6,34.0h2.5v2.5h-2.5zM63.4,34.0h2.5v2.5h-2.5z"/>
<path fill="#0000b3" d="M27.1,80.1h2.5v2.5h-2.5zM27.1,77.7h4.9v2.5h-4.9zM29.5,75.3h4.9v2.5h-4.9zM27.1,72.8h4.9v2.5h-4.9zM34.4,72.8h2.5v2.5h-2.5zM46.5,72.8h2.5v2.5h-2.5zM27.1,70.4h4.9v2.5h-4.9zM94.9,68.0h2.5v2.5h-2.5zM29.5,65.6h2.5v2.5h-2.5zM34.4,65.6h4.9v2.5h-4.9zM31.9,63.1h4.9v2.5h-4.9zM34.4,60.7h2.5v2.5h-2.5zM51.3,55.8h4.9v2.5h-4.9zM53.7,53.4h7.4v2.5h-7.4zM15.0,51.0h2.5v2.5h-2.5zM46.5,51.0h7.4v2.5h-7.4zM51.3,48.5h4.9v2.5h-4.9zM53.7,46.1h4.9v2.5h-4.9zM58.6,38.8h4.9v2.5h-4.9zM53.7,36.4h2.5v2.5h-2.5zM63.4,36.4h2.5v2.5h-2.5zM56.2,34.0h2.5v2.5h-2.5zM65.9,34.0h2.5v2.5h-2.5zM58.6,31.5h9.8v2.5h-9.8z"/>
<path fill="#0000cc" d="M19.8,104.4h2.5v2.5h-2.5zM19.8,102.0h2.5v2.5h-2.5zM39.2,102.0h2.5v2.5h-2.5zM58.6,102.0h2.5v2.5h-2.5zM19.8,99.6h2.5v2.5h-2.5zM36.8,99.6h9.8v2.5h-9.8zM17.4,97.1h4.9v2.5h-4.9zM39.2,97.1h4.9v2.5h-4.9zM19.8,94.7h4.9v2.5h-4.9zM36.8,94.7h4.9v2.5h-4.9zM34.4,92.3h7.4v2.5h-7.4zM29.5,89.9h2.5v2.5h-2.5zM34.4,89.9h2.5v2.5h-2.5zM34.4,87.4h2.5v2.5h-2.5zM29.5,85.0h4.9v2.5h-4.9zM29.5,82.6h7.4v2.5h-7.4zM24.7,80.1h2.5v2.5h-2.5zM29.5,80.1h7.4v2.5h-7.4zM24.7,77.7h2.5v2.5h-2.5zM31.9,77.7h7.4v2.5h-7.4zM41.6,77.7h2.5v2.5h-2.5zM46.5,77.7h4.9v2.5h-4.9zM27.1,75.3h2.5v2.5h-2.5zM34.4,75.3h19.5v2.5h-19.5zM31.9,72.8h2.5v2.5h-2.5zM36.8,72.8h9.8v2.5h-9.8zM48.9,72.8h4.9v2.5h-4.9zM63.4,72.8h4.9v2.5h-4.9zM31.9,70.4h24.3v2.5h-24.3zM61.0,70.4h9.8v2.5h-9.8zM92.5,70.4h2.5v2.5h-2.5zM24.7,68.0h46.1v2.5h-46.1zM90.1,68.0h4.9v2.5h-4.9zM24.7,65.6h4.9v2.5h-4.9zM31.9,65.6h2.5v2.5h-2.5zM41.6,65.6h2.5v2.5h-2.5zM46.5,65.6h12.2v2.5h-12.2zM63.4,65.6h4.9v2.5h-4.9zM90.1,65.6h4.9v2.5h-4.9zM24.7,63.1h7.4v2.5h-7.4zM36.8,63.1h4.9v2.5h-4.9zM44.0,63.1h4.9v2.5h-4.9zM51.3,63.1h7.4v2.5h-7.4zM61.0,63.1h2.5v2.5h-2.5zM65.9,63.1h2.5v2.5h-2.5zM78.0,63.1h2.5v2.5h-2.5zM90.1,63.1h4.9v2.5h-4.9zM24.7,60.7h9.8v2.5h-9.8zM36.8,60.7h2.5v2.5h-2.5zM41.6,60.7h2.5v2.5h-2.5zM46.5,60.7h4.9v2.5h-4.9zM53.7,60.7h4.9v2.5h-4.9zM63.4,60.7h7.4v2.5h-7.4zM92.5,60.7h2.5v2.5h-2.5zM24.7,58.3h43.7v2.5h-43.7zM70.7,58.3h4.9v2.5h-4.9zM78.0,58.3h2.5v2.5h-2.5zM94.9,58.3h2.5v2.5h-2.5zM17.4,55.8h4.9v2.5h-4.9zM24.7,55.8h7.4v2.5h-7.4zM34.4,55.8h17.1v2.5h-17.1zM56.2,55.8h19.5v2.5h-19.5zM94.9,55.8h2.5v2.5h-2.5zM15.0,53.4h24.3v2.5h-24.3zM41.6,53.4h12.2v2.5h-12.2zM61.0,53.4h2.5v2.5h-2.5zM82.8,53.4h4.9v2.5h-4.9zM94.9,53.4h2.5v2.5h-2.5zM17.4,51.0h14.6v2.5h-14.6zM34.4,51.0h2.5v2.5h-2.5zM41.6,51.0h4.9v2.5h-4.9zM53.7,51.0h9.8v2.5h-9.8zM82.8,51.0h4.9v2.5h-4.9zM19.8,48.5h12.2v2.5h-12.2zM46.5,48.5h4.9v2.5h-4.9zM56.2,48.5h4.9v2.5h-4.9zM80.4,48.5h7.4v2.5h-7.4zM48.9,46.1h4.9v2.5h-4.9zM78.0,46.1h9.8v2.5h-9.8zM51.3,43.7h7.4v2.5h-7.4zM80.4,43.7h2.5v2.5h-2.5zM51.3,41.3h9.8v2.5h-9.8zM78.0,41.3h2.5v2.5h-2.5zM51.3,38.8h7.4v2.5h-7.4zM53.7,34.0h2.5v2.5h-2.5zM27.1,31.5h2.5v2.5h-2.5zM68.3,31.5h2.5v2.5h-2.5zM61.0,29.1h2.5v2.5h-2.5zM65.9,29.1h2.5v2.5h-2.5z"/>
<path fill="#0000e6" d="M22.2,106.9h12.2v2.5h-12.2zM22.2,104.4h2.5v2.5h-2.5zM31.9,104.4h4.9v2.5h-4.9zM34.4,102.0h4.9v2.5h-4.9zM56.2,102.0h2.5v2.5h-2.5zM22.2,99.6h2.5v2.5h-2.5zM53.7,99.6h2.5v2.5h-2.5zM58.6,99.6h2.5v2.5h-2.5zM22.2,97.1h2.5v2.5h-2.5zM36.8,97.1h2.5v2.5h-2.5zM24.7,94.7h2.5v2.5h-2.5zM41.6,94.7h2.5v2.5h-2.5zM19.8,92.3h4.9v2.5h-4.9zM27.1,92.3h2.5v2.5h-2.5zM31.9,92.3h2.5v2.5h-2.5zM41.6,92.3h2.5v2.5h-2.5zM19.8,89.9h9.8v2.5h-9.8zM31.9,89.9h2.5v2.5h-2.5zM36.8,89.9h4.9v2.5h-4.9zM24.7,87.4h2.5v2.5h-2.5zM29.5,87.4h4.9v2.5h-4.9zM22.2,85.0h2.5v2.5h-2.5zM34.4,85.0h4.9v2.5h-4.9zM24.7,82.6h4.9v2.5h-4.9zM36.8,82.6h2.5v2.5h-2.5zM36.8,80.1h9.8v2.5h-9.8zM39.2,77.7h2.5v2.5h-2.5zM44.0,77.7h2.5v2.5h-2.5zM51.3,77.7h2.5v2.5h-2.5zM53.7,75.3h2.5v2.5h-2.5zM61.0,75.3h9.8v2.5h-9.8zM53.7,72.8h9.8v2.5h-9.8zM68.3,72.8h7.4v2.5h-7.4zM56.2,70.4h4.9v2.5h-4.9zM70.7,70.4h2.5v2.5h-2.5zM94.9,70.4h2.5v2.5h-2.5zM70.7,68.0h9.8v2.5h-9.8zM39.2,65.6h2.5v2.5h-2.5zM44.0,65.6h2.5v2.5h-2.5zM58.6,65.6h4.9v2.5h-4.9zM68.3,65.6h14.6v2.5h-14.6zM87.7,65.6h2.5v2.5h-2.5zM41.6,63.1h2.5v2.5h-2.5zM48.9,63.1h2.5v2.5h-2.5zM58.6,63.1h2.5v2.5h-2.5zM63.4,63.1h2.5v2.5h-2.5zM68.3,63.1h9.8v2.5h-9.8zM80.4,63.1h2.5v2.5h-2.5zM87.7,63.1h2.5v2.5h-2.5zM39.2,60.7h2.5v2.5h-2.5zM44.0,60.7h2.5v2.5h-2.5zM51.3,60.7h2.5v2.5h-2.5zM58.6,60.7h4.9v2.5h-4.9zM70.7,60.7h21.9v2.5h-21.9zM68.3,58.3h2.5v2.5h-2.5zM75.5,58.3h2.5v2.5h-2.5zM80.4,58.3h4.9v2.5h-4.9zM87.7,58.3h7.4v2.5h-7.4zM22.2,55.8h2.5v2.5h-2.5zM31.9,55.8h2.5v2.5h-2.5zM75.5,55.8h12.2v2.5h-12.2zM92.5,55.8h2.5v2.5h-2.5zM39.2,53.4h2.5v2.5h-2.5zM63.4,53.4h2.5v2.5h-2.5zM70.7,53.4h4.9v2.5h-4.9zM78.0,53.4h4.9v2.5h-4.9zM31.9,51.0h2.5v2.5h-2.5zM36.8,51.0h4.9v2.5h-4.9zM75.5,51.0h7.4v2.5h-7.4zM94.9,51.0h2.5v2.5h-2.5zM31.9,48.5h7.4v2.5h-7.4zM44.0,48.5h2.5v2.5h-2.5zM75.5,48.5h4.9v2.5h-4.9zM31.9,46.1h2.5v2.5h-2.5zM46.5,46.1h2.5v2.5h-2.5zM58.6,46.1h2.5v2.5h-2.5zM75.5,46.1h2.5v2.5h-2.5zM48.9,43.7h2.5v2.5h-2.5zM58.6,43.7h2.5v2.5h-2.5zM75.5,43.7h4.9v2.5h-4.9zM82.8,43.7h2.5v2.5h-2.5zM29.5,41.3h4.9v2.5h-4.9zM80.4,41.3h2.5v2.5h-2.5zM29.5,38.8h4.9v2.5h-4.9zM78.0,38.8h7.4v2.5h-7.4zM29.5,36.4h4.9v2.5h-4.9zM51.3,36.4h2.5v2.5h-2.5zM65.9,36.4h2.5v2.5h-2.5zM29.5,34.0h4.9v2.5h-4.9zM68.3,34.0h2.5v2.5h-2.5zM85.2,34.0h2.5v2.5h-2.5zM29.5,31.5h4.9v2.5h-4.9zM56.2,31.5h2.5v2.5h-2.5zM27.1,29.1h4.9v2.5h-4.9zM58.6,29.1h2.5v2.5h-2.5zM63.4,29.1h2.5v2.5h-2.5zM68.3,29.1h2.5v2.5h-2.5zM70.7,12.1h2.5v2.5h-2.5z"/>
<path fill="#0000ff" d="M36.8,104.4h2.5v2.5h-2.5zM22.2,102.0h2.5v2.5h-2.5zM31.9,102.0h2.5v2.5h-2.5zM75.5,102.0h2.5v2.5h-2.5zM51.3,99.6h2.5v2.5h-2.5zM56.2,99.6h2.5v2.5h-2.5zM24.7,97.1h4.9v2.5h-4.9zM27.1,94.7h4.9v2.5h-4.9zM34.4,94.7h2.5v2.5h-2.5zM24.7,92.3h2.5v2.5h-2.5zM29.5,92.3h2.5v2.5h-2.5zM41.6,89.9h2.5v2.5h-2.5zM22.2,87.4h2.5v2.5h-2.5zM27.1,87.4h2.5v2.5h-2.5zM36.8,87.4h4.9v2.5h-4.9zM24.7,85.0h4.9v2.5h-4.9zM39.2,85.0h2.5v2.5h-2.5zM39.2,82.6h4.9v2.5h-4.9zM46.5,80.1h4.9v2.5h-4.9zM53.7,77.7h2.5v2.5h-2.5zM68.3,77.7h2.5v2.5h-2.5zM56.2,75.3h4.9v2.5h-4.9zM70.7,75.3h4.9v2.5h-4.9zM75.5,72.8h2.5v2.5h-2.5zM73.1,70.4h12.2v2.5h-12.2zM87.7,70.4h4.9v2.5h-4.9zM80.4,68.0h9.8v2.5h-9.8zM82.8,65.6h4.9v2.5h-4.9zM82.8,63.1h4.9v2.5h-4.9zM85.2,58.3h2.5v2.5h-2.5zM87.7,55.8h2.5v2.5h-2.5zM65.9,53.4h4.9v2.5h-4.9zM75.5,53.4h2.5v2.5h-2.5zM87.7,53.4h2.5v2.5h-2.5zM92.5,53.4h2.5v2.5h-2.5zM39.2,48.5h4.9v2.5h-4.9zM61.0,48.5h2.5v2.5h-2.5zM34.4,46.1h2.5v2.5h-2.5zM44.0,46.1h2.5v2.5h-2.5zM73.1,46.1h2.5v2.5h-2.5zM31.9,43.7h2.5v2.5h-2.5zM46.5,43.7h2.5v2.5h-2.5zM85.2,43.7h2.5v2.5h-2.5zM48.9,41.3h2.5v2.5h-2.5zM61.0,41.3h2.5v2.5h-2.5zM75.5,41.3h2.5v2.5h-2.5zM82.8,41.3h4.9v2.5h-4.9zM34.4,38.8h2.5v2.5h-2.5zM48.9,38.8h2.5v2.5h-2.5zM63.4,38.8h2.5v2.5h-2.5zM85.2,38.8h2.5v2.5h-2.5zM34.4,36.4h2.5v2.5h-2.5zM80.4,36.4h7.4v2.5h-7.4zM34.4,34.0h2.5v2.5h-2.5zM51.3,34.0h2.5v2.5h-2.5zM82.8,34.0h2.5v2.5h-2.5zM34.4,31.5h2.5v2.5h-2.5zM53.7,31.5h2.5v2.5h-2.5zM85.2,31.5h2.5v2.5h-2.5zM70.7,29.1h2.5v2.5h-2.5zM24.7,26.7h4.9v2.5h-4.9zM65.9,26.7h4.9v2.5h-4.9zM68.3,12.1h2.5v2.5h-2.5z"/>
<path fill="#001aff" d="M29.5,104.4h2.5v2.5h-2.5zM34.4,99.6h2.5v2.5h-2.5zM29.5,97.1h2.5v2.5h-2.5zM44.0,97.1h2.5v2.5h-2.5zM51.3,97.1h2.5v2.5h-2.5zM44.0,82.6h2.5v2.5h-2.5zM56.2,77.7h12.2v2.5h-12.2zM70.7,77.7h7.4v2.5h-7.4zM75.5,75.3h4.9v2.5h-4.9zM78.0,72.8h7.4v2.5h-7.4zM90.1,72.8h9.8v2.5h-9.8zM90.1,55.8h2.5v2.5h-2.5zM63.4,51.0h2.5v2.5h-2.5zM70.7,51.0h4.9v2.5h-4.9zM87.7,51.0h2.5v2.5h-2.5zM92.5,51.0h2.5v2.5h-2.5zM73.1,48.5h2.5v2.5h-2.5zM36.8,46.1h2.5v2.5h-2.5zM61.0,46.1h2.5v2.5h-2.5zM34.4,43.7h2.5v2.5h-2.5zM61.0,43.7h2.5v2.5h-2.5zM73.1,43.7h2.5v2.5h-2.5zM34.4,41.3h2.5v2.5h-2.5zM75.5,38.8h2.5v2.5h-2.5zM68.3,36.4h2.5v2.5h-2.5zM78.0,36.4h2.5v2.5h-2.5zM36.8,34.0h2.5v2.5h-2.5zM70.7,31.5h2.5v2.5h-2.5zM82.8,31.5h2.5v2.5h-2.5zM31.9,29.1h2.5v2.5h-2.5zM56.2,29.1h2.5v2.5h-2.5zM63.4,26.7h2.5v2.5h-2.5zM70.7,26.7h2.5v2.5h-2.5zM70.7,14.5h2.5v2.5h-2.5zM65.9,12.1h2.5v2.5h-2.5z"/>
<path fill="#0033ff" d="M31.9,99.6h2.5v2.5h-2.5zM48.9,97.1h2.5v2.5h-2.5zM53.7,97.1h4.9v2.5h-4.9zM31.9,94.7h2.5v2.5h-2.5zM80.4,94.7h4.9v2.5h-4.9zM44.0,92.3h2.5v2.5h-2.5zM44.0,89.9h2.5v2.5h-2.5zM41.6,87.4h2.5v2.5h-2.5zM41.6,85.0h2.5v2.5h-2.5zM46.5,82.6h2.5v2.5h-2.5zM51.3,80.1h2.5v2.5h-2.5zM70.7,80.1h2.5v2.5h-2.5zM78.0,77.7h4.9v2.5h-4.9zM80.4,75.3h2.5v2.5h-2.5zM85.2,72.8h4.9v2.5h-4.9zM85.2,70.4h2.5v2.5h-2.5zM90.1,53.4h2.5v2.5h-2.5zM65.9,51.0h2.5v2.5h-2.5zM87.7,48.5h2.5v2.5h-2.5zM39.2,46.1h4.9v2.5h-4.9zM73.1,41.3h2.5v2.5h-2.5zM65.9,38.8h2.5v2.5h-2.5zM48.9,36.4h2.5v2.5h-2.5zM87.7,36.4h2.5v2.5h-2.5zM80.4,34.0h2.5v2.5h-2.5zM36.8,31.5h2.5v2.5h-2.5zM34.4,29.1h2.5v2.5h-2.5zM82.8,29.1h2.5v2.5h-2.5zM29.5,26.7h2.5v2.5h-2.5zM61.0,26.7h2.5v2.5h-2.5zM73.1,26.7h2.5v2.5h-2.5zM73.1,17.0h2.5v2.5h-2.5zM65.9,14.5h4.9v2.5h-4.9z"/>
<path fill="#004dff" d="M29.5,99.6h2.5v2.5h-2.5zM51.3,94.7h2.5v2.5h-2.5zM53.7,80.1h7.4v2.5h-7.4zM63.4,80.1h7.4v2.5h-7.4zM73.1,80.1h7.4v2.5h-7.4zM82.8,75.3h4.9v2.5h-4.9zM68.3,51.0h2.5v2.5h-2.5zM92.5,48.5h2.5v2.5h-2.5zM87.7,46.1h2.5v2.5h-2.5zM44.0,43.7h2.5v2.5h-2.5zM46.5,41.3h2.5v2.5h-2.5zM36.8,36.4h2.5v2.5h-2.5zM70.7,34.0h2.5v2.5h-2.5zM39.2,31.5h2.5v2.5h-2.5zM51.3,31.5h2.5v2.5h-2.5zM80.4,31.5h2.5v2.5h-2.5zM36.8,29.1h4.9v2.5h-4.9zM53.7,29.1h2.5v2.5h-2.5zM73.1,29.1h2.5v2.5h-2.5zM31.9,26.7h2.5v2.5h-2.5zM58.6,26.7h2.5v2.5h-2.5zM75.5,26.7h2.5v2.5h-2.5zM68.3,24.2h9.8v2.5h-9.8zM70.7,17.0h2.5v2.5h-2.5z"/>
<path fill="#0066ff" d="M24.7,104.4h2.5v2.5h-2.5zM24.7,99.6h2.5v2.5h-2.5zM34.4,97.1h2.5v2.5h-2.5zM53.7,94.7h2.5v2.5h-2.5zM44.0,87.4h2.5v2.5h-2.5zM44.0,85.0h4.9v2.5h-4.9zM48.9,82.6h4.9v2.5h-4.9zM61.0,80.1h2.5v2.5h-2.5zM80.4,80.1h2.5v2.5h-2.5zM82.8,77.7h2.5v2.5h-2.5zM90.1,51.0h2.5v2.5h-2.5zM63.4,48.5h2.5v2.5h-2.5zM70.7,48.5h2.5v2.5h-2.5zM92.5,46.1h2.5v2.5h-2.5zM36.8,43.7h2.5v2.5h-2.5zM87.7,43.7h2.5v2.5h-2.5zM63.4,41.3h2.5v2.5h-2.5zM87.7,41.3h2.5v2.5h-2.5zM87.7,38.8h2.5v2.5h-2.5zM70.7,36.4h2.5v2.5h-2.5zM75.5,36.4h2.5v2.5h-2.5zM39.2,34.0h2.5v2.5h-2.5zM48.9,34.0h2.5v2.5h-2.5zM78.0,34.0h2.5v2.5h-2.5zM41.6,31.5h2.5v2.5h-2.5zM73.1,31.5h2.5v2.5h-2.5zM41.6,29.1h4.9v2.5h-4.9zM39.2,26.7h7.4v2.5h-7.4zM29.5,24.2h2.5v2.5h-2.5zM65.9,24.2h2.5v2.5h-2.5zM73.1,21.8h4.9v2.5h-4.9zM73.1,19.4h2.5v2.5h-2.5zM68.3,17.0h2.5v2.5h-2.5z"/>
<path fill="#0080ff" d="M29.5,102.0h2.5v2.5h-2.5zM56.2,94.7h2.5v2.5h-2.5zM63.4,94.7h2.5v2.5h-2.5zM46.5,92.3h7.4v2.5h-7.4zM75.5,92.3h4.9v2.5h-4.9zM46.5,89.9h4.9v2.5h-4.9zM46.5,87.4h2.5v2.5h-2.5zM48.9,85.0h2.5v2.5h-2.5zM53.7,82.6h2.5v2.5h-2.5zM65.9,82.6h14.6v2.5h-14.6zM87.7,75.3h2.5v2.5h-2.5zM92.5,43.7h2.5v2.5h-2.5zM36.8,38.8h2.5v2.5h-2.5zM46.5,38.8h2.5v2.5h-2.5zM68.3,38.8h2.5v2.5h-2.5zM73.1,38.8h2.5v2.5h-2.5zM44.0,31.5h2.5v2.5h-2.5zM46.5,29.1h2.5v2.5h-2.5zM75.5,29.1h2.5v2.5h-2.5zM80.4,29.1h2.5v2.5h-2.5zM34.4,26.7h4.9v2.5h-4.9zM46.5,26.7h2.5v2.5h-2.5zM56.2,26.7h2.5v2.5h-2.5zM80.4,26.7h2.5v2.5h-2.5zM44.0,24.2h4.9v2.5h-4.9zM61.0,24.2h4.9v2.5h-4.9zM78.0,24.2h2.5v2.5h-2.5zM70.7,21.8h2.5v2.5h-2.5zM70.7,19.4h2.5v2.5h-2.5zM36.8,17.0h2.5v2.5h-2.5zM46.5,17.0h4.9v2.5h-4.9zM65.9,17.0h2.5v2.5h-2.5z"/>
<path fill="#0099ff" d="M27.1,104.4h2.5v2.5h-2.5zM31.9,97.1h2.5v2.5h-2.5zM61.0,94.7h2.5v2.5h-2.5zM70.7,94.7h2.5v2.5h-2.5zM75.5,94.7h2.5v2.5h-2.5zM70.7,92.3h4.9v2.5h-4.9zM80.4,92.3h2.5v2.5h-2.5zM48.9,87.4h2.5v2.5h-2.5zM51.3,85.0h2.5v2.5h-2.5zM73.1,85.0h2.5v2.5h-2.5zM56.2,82.6h9.8v2.5h-9.8zM80.4,82.6h2.5v2.5h-2.5zM82.8,80.1h2.5v2.5h-2.5zM85.2,77.7h2.5v2.5h-2.5zM90.1,75.3h7.4v2.5h-7.4zM70.7,46.1h2.5v2.5h-2.5zM70.7,43.7h2.5v2.5h-2.5zM36.8,41.3h2.5v2.5h-2.5zM70.7,38.8h2.5v2.5h-2.5zM90.1,38.8h2.5v2.5h-2.5zM73.1,36.4h2.5v2.5h-2.5zM41.6,34.0h2.5v2.5h-2.5zM73.1,34.0h4.9v2.5h-4.9zM48.9,31.5h2.5v2.5h-2.5zM78.0,31.5h2.5v2.5h-2.5zM51.3,29.1h2.5v2.5h-2.5zM78.0,29.1h2.5v2.5h-2.5zM78.0,26.7h2.5v2.5h-2.5zM31.9,24.2h12.2v2.5h-12.2zM44.0,21.8h2.5v2.5h-2.5zM65.9,21.8h4.9v2.5h-4.9zM68.3,19.4h2.5v2.5h-2.5zM39.2,17.0h7.4v2.5h-7.4zM51.3,17.0h2.5v2.5h-2.5z"/>
<path fill="#00b3ff" d="M27.1,99.6h2.5v2.5h-2.5zM75.5,99.6h2.5v2.5h-2.5zM44.0,94.7h2.5v2.5h-2.5zM58.6,94.7h2.5v2.5h-2.5zM73.1,94.7h2.5v2.5h-2.5zM53.7,92.3h2.5v2.5h-2.5zM65.9,92.3h2.5v2.5h-2.5zM87.7,92.3h2.5v2.5h-2.5zM51.3,89.9h2.5v2.5h-2.5zM73.1,89.9h7.4v2.5h-7.4zM51.3,87.4h2.5v2.5h-2.5zM53.7,85.0h2.5v2.5h-2.5zM68.3,85.0h4.9v2.5h-4.9zM75.5,85.0h4.9v2.5h-4.9zM68.3,48.5h2.5v2.5h-2.5zM90.1,48.5h2.5v2.5h-2.5zM63.4,46.1h2.5v2.5h-2.5zM41.6,43.7h2.5v2.5h-2.5zM63.4,43.7h2.5v2.5h-2.5zM44.0,41.3h2.5v2.5h-2.5zM39.2,36.4h2.5v2.5h-2.5zM46.5,36.4h2.5v2.5h-2.5zM46.5,31.5h2.5v2.5h-2.5zM75.5,31.5h2.5v2.5h-2.5zM48.9,29.1h2.5v2.5h-2.5zM48.9,26.7h2.5v2.5h-2.5zM53.7,26.7h2.5v2.5h-2.5zM48.9,24.2h2.5v2.5h-2.5zM58.6,24.2h2.5v2.5h-2.5zM31.9,21.8h2.5v2.5h-2.5zM39.2,21.8h4.9v2.5h-4.9zM46.5,21.8h2.5v2.5h-2.5zM61.0,21.8h4.9v2.5h-4.9zM34.4,19.4h4.9v2.5h-4.9zM41.6,19.4h2.5v2.5h-2.5zM46.5,19.4h2.5v2.5h-2.5zM65.9,19.4h2.5v2.5h-2.5zM53.7,17.0h4.9v2.5h-4.9zM61.0,17.0h4.9v2.5h-4.9z"/>
<path fill="#00ccff" d="M73.1,99.6h2.5v2.5h-2.5zM46.5,97.1h2.5v2.5h-2.5zM68.3,92.3h2.5v2.5h-2.5zM70.7,89.9h2.5v2.5h-2.5zM68.3,87.4h12.2v2.5h-12.2zM56.2,85.0h2.5v2.5h-2.5zM65.9,85.0h2.5v2.5h-2.5zM82.8,82.6h2.5v2.5h-2.5zM65.9,48.5h2.5v2.5h-2.5zM90.1,46.1h2.5v2.5h-2.5zM65.9,41.3h2.5v2.5h-2.5zM70.7,41.3h2.5v2.5h-2.5zM90.1,41.3h2.5v2.5h-2.5zM46.5,34.0h2.5v2.5h-2.5zM56.2,24.2h2.5v2.5h-2.5zM34.4,21.8h4.9v2.5h-4.9zM48.9,21.8h2.5v2.5h-2.5zM58.6,21.8h2.5v2.5h-2.5zM39.2,19.4h2.5v2.5h-2.5zM44.0,19.4h2.5v2.5h-2.5zM48.9,19.4h2.5v2.5h-2.5zM61.0,19.4h4.9v2.5h-4.9zM58.6,17.0h2.5v2.5h-2.5z"/>
<path fill="#00e5ff" d="M48.9,94.7h2.5v2.5h-2.5zM63.4,92.3h2.5v2.5h-2.5zM65.9,89.9h4.9v2.5h-4.9zM53.7,87.4h2.5v2.5h-2.5zM65.9,87.4h2.5v2.5h-2.5zM61.0,85.0h4.9v2.5h-4.9zM80.4,85.0h2.5v2.5h-2.5zM85.2,80.1h2.5v2.5h-2.5zM87.7,77.7h2.5v2.5h-2.5zM39.2,43.7h2.5v2.5h-2.5zM90.1,43.7h2.5v2.5h-2.5zM44.0,38.8h2.5v2.5h-2.5zM44.0,34.0h2.5v2.5h-2.5zM51.3,26.7h2.5v2.5h-2.5zM51.3,21.8h2.5v2.5h-2.5zM51.3,19.4h4.9v2.5h-4.9zM58.6,19.4h2.5v2.5h-2.5z"/>
<path fill="#00ffff" d="M24.7,102.0h2.5v2.5h-2.5zM53.7,89.9h2.5v2.5h-2.5zM80.4,89.9h2.5v2.5h-2.5zM63.4,87.4h2.5v2.5h-2.5zM80.4,87.4h2.5v2.5h-2.5zM58.6,85.0h2.5v2.5h-2.5zM82.8,85.0h2.5v2.5h-2.5zM68.3,46.1h2.5v2.5h-2.5zM68.3,41.3h2.5v2.5h-2.5zM41.6,36.4h4.9v2.5h-4.9zM51.3,24.2h4.9v2.5h-4.9zM53.7,21.8h4.9v2.5h-4.9zM56.2,19.4h2.5v2.5h-2.5z"/>
<path fill="#1affe5" d="M75.5,97.1h2.5v2.5h-2.5zM82.8,92.3h4.9v2.5h-4.9zM63.4,89.9h2.5v2.5h-2.5zM87.7,89.9h2.5v2.5h-2.5zM65.9,43.7h4.9v2.5h-4.9z"/>
<path fill="#33ffcc" d="M85.2,82.6h2.5v2.5h-2.5zM94.9,77.7h2.5v2.5h-2.5zM65.9,46.1h2.5v2.5h-2.5z"/>
<path fill="#4dffb3" d="M73.1,97.1h2.5v2.5h-2.5zM56.2,87.4h2.5v2.5h-2.5zM87.7,87.4h4.9v2.5h-4.9zM85.2,85.0h2.5v2.5h-2.5zM39.2,38.8h2.5v2.5h-2.5z"/>
<path fill="#66ff99" d="M56.2,92.3h2.5v2.5h-2.5zM61.0,87.4h2.5v2.5h-2.5zM41.6,38.8h2.5v2.5h-2.5z"/>
<path fill="#80ff80" d="M90.1,77.7h2.5v2.5h-2.5zM41.6,41.3h2.5v2.5h-2.5z"/>
<path fill="#99ff66" d="M27.1,102.0h2.5v2.5h-2.5zM61.0,92.3h2.5v2.5h-2.5zM58.6,87.4h2.5v2.5h-2.5zM82.8,87.4h2.5v2.5h-2.5zM87.7,85.0h2.5v2.5h-2.5zM92.5,77.7h2.5v2.5h-2.5z"/>
<path fill="#b3ff4c" d="M85.2,87.4h2.5v2.5h-2.5zM87.7,80.1h2.5v2.5h-2.5z"/>
<path fill="#e5ff1a" d="M87.7,82.6h2.5v2.5h-2.5zM39.2,41.3h2.5v2.5h-2.5z"/>
<path fill="#ffff00" d="M56.2,89.9h2.5v2.5h-2.5zM90.1,85.0h2.5v2.5h-2.5z"/>
<path fill="#ffe500" d="M61.0,89.9h2.5v2.5h-2.5zM82.8,89.9h4.9v2.5h-4.9z"/>
<path fill="#ffcc00" d="M58.6,92.3h2.5v2.5h-2.5z"/>
<path fill="#ffb300" d="M46.5,94.7h2.5v2.5h-2.5z"/>
<path fill="#ff6600" d="M90.1,80.1h2.5v2.5h-2.5z"/>
<path fill="#ff3300" d="M90.1,82.6h2.5v2.5h-2.5zM92.5,80.1h2.5v2.5h-2.5z"/>
<path fill="#ff1a00" d="M58.6,89.9h2.5v2.5h-2.5zM92.5,82.6h2.5v2.5h-2.5z"/></g>
<use href="#geo"/><g><rect x="0" y="0" width="110.00" height="121.50" fill="none" stroke="#7d7d7d" stroke-width="0.85"/><path d="M12.60,121.50v-1.2M12.60,0v1.2M36.83,121.50v-1.2M36.83,0v1.2M61.06,121.50v-1.2M61.06,0v1.2M85.29,121.50v-1.2M85.29,0v1.2M0,97.20h1.2M110.00,97.20h-1.2M0,72.90h1.2M110.00,72.90h-1.2M0,48.60h1.2M110.00,48.60h-1.2M0,24.30h1.2M110.00,24.30h-1.2" stroke="#8c8c8c" stroke-width="0.6" fill="none"/><g font-size="7.0" fill="#333" text-anchor="middle"><text x="12.60" y="131.50">126</text><text x="36.83" y="131.50">127</text><text x="61.06" y="131.50">128</text><text x="85.29" y="131.50">129</text><text x="110.12" y="131.50">130</text></g><g font-size="7.0" fill="#333" text-anchor="end"><text x="-2.6" y="124.50">34</text><text x="-2.6" y="100.20">35</text><text x="-2.6" y="75.90">36</text><text x="-2.6" y="51.60">37</text><text x="-2.6" y="27.30">38</text><text x="-2.6" y="3.00">39</text></g></g>
</g>
<rect x="515.70" y="23.00" width="10.80" height="121.50" fill="url(#jet)" stroke="#333" stroke-width="0.3"/>
<g font-size="7.0" fill="#333">
<text x="528.50" y="25.90">9000</text>
<text x="528.50" y="66.40">6000</text>
<text x="528.50" y="106.90">3000</text>
<text x="528.50" y="147.40">0</text>
</g>
<text transform="translate(16.3,83.75) rotate(-90)" text-anchor="middle" font-size="10.6" font-weight="bold" fill="#111">ALL-TIME</text>
<g transform="translate(42.00,179.60)">
<use href="#grid"/>
<g shape-rendering="crispEdges"><path fill="#0000b3" d="M58.6,58.3h2.5v2.5h-2.5z"/>
<path fill="#0000cc" d="M61.0,58.3h2.5v2.5h-2.5zM58.6,55.8h4.9v2.5h-4.9zM80.4,55.8h2.5v2.5h-2.5zM61.0,53.4h2.5v2.5h-2.5z"/>
<path fill="#0000e6" d="M58.6,60.7h2.5v2.5h-2.5zM80.4,60.7h2.5v2.5h-2.5zM63.4,58.3h2.5v2.5h-2.5zM78.0,58.3h4.9v2.5h-4.9zM63.4,55.8h2.5v2.5h-2.5zM78.0,55.8h2.5v2.5h-2.5zM58.6,53.4h2.5v2.5h-2.5zM63.4,53.4h2.5v2.5h-2.5zM78.0,53.4h4.9v2.5h-4.9zM92.5,43.7h2.5v2.5h-2.5z"/>
<path fill="#0000ff" d="M73.1,99.6h4.9v2.5h-4.9zM41.6,77.7h2.5v2.5h-2.5zM41.6,75.3h2.5v2.5h-2.5zM75.5,68.0h2.5v2.5h-2.5zM29.5,65.6h4.9v2.5h-4.9zM75.5,65.6h2.5v2.5h-2.5zM80.4,65.6h2.5v2.5h-2.5zM46.5,63.1h2.5v2.5h-2.5zM75.5,63.1h4.9v2.5h-4.9zM31.9,60.7h2.5v2.5h-2.5zM48.9,60.7h2.5v2.5h-2.5zM53.7,60.7h4.9v2.5h-4.9zM61.0,60.7h2.5v2.5h-2.5zM75.5,60.7h4.9v2.5h-4.9zM56.2,58.3h2.5v2.5h-2.5zM65.9,58.3h2.5v2.5h-2.5zM75.5,58.3h2.5v2.5h-2.5zM56.2,55.8h2.5v2.5h-2.5zM65.9,55.8h2.5v2.5h-2.5zM65.9,53.4h2.5v2.5h-2.5zM82.8,53.4h2.5v2.5h-2.5zM58.6,51.0h7.4v2.5h-7.4zM80.4,51.0h2.5v2.5h-2.5zM85.2,31.5h2.5v2.5h-2.5zM58.6,17.0h4.9v2.5h-4.9z"/>
<path fill="#001aff" d="M75.5,102.0h2.5v2.5h-2.5zM19.8,99.6h2.5v2.5h-2.5zM17.4,97.1h2.5v2.5h-2.5zM41.6,80.1h4.9v2.5h-4.9zM39.2,77.7h2.5v2.5h-2.5zM44.0,77.7h2.5v2.5h-2.5zM44.0,75.3h2.5v2.5h-2.5zM41.6,72.8h4.9v2.5h-4.9zM73.1,72.8h4.9v2.5h-4.9zM41.6,70.4h2.5v2.5h-2.5zM73.1,70.4h9.8v2.5h-9.8zM41.6,68.0h4.9v2.5h-4.9zM73.1,68.0h2.5v2.5h-2.5zM78.0,68.0h2.5v2.5h-2.5zM41.6,65.6h2.5v2.5h-2.5zM70.7,65.6h4.9v2.5h-4.9zM78.0,65.6h2.5v2.5h-2.5zM31.9,63.1h2.5v2.5h-2.5zM48.9,63.1h9.8v2.5h-9.8zM73.1,63.1h2.5v2.5h-2.5zM80.4,63.1h4.9v2.5h-4.9zM29.5,60.7h2.5v2.5h-2.5zM41.6,60.7h2.5v2.5h-2.5zM46.5,60.7h2.5v2.5h-2.5zM51.3,60.7h2.5v2.5h-2.5zM73.1,60.7h2.5v2.5h-2.5zM82.8,60.7h2.5v2.5h-2.5zM29.5,58.3h2.5v2.5h-2.5zM48.9,58.3h4.9v2.5h-4.9zM68.3,58.3h2.5v2.5h-2.5zM82.8,58.3h2.5v2.5h-2.5zM73.1,55.8h4.9v2.5h-4.9zM82.8,55.8h2.5v2.5h-2.5zM56.2,53.4h2.5v2.5h-2.5zM75.5,53.4h2.5v2.5h-2.5zM17.4,51.0h2.5v2.5h-2.5zM56.2,51.0h2.5v2.5h-2.5zM78.0,51.0h2.5v2.5h-2.5zM58.6,48.5h2.5v2.5h-2.5zM92.5,46.1h2.5v2.5h-2.5zM90.1,43.7h2.5v2.5h-2.5zM90.1,41.3h2.5v2.5h-2.5zM82.8,31.5h2.5v2.5h-2.5zM80.4,29.1h4.9v2.5h-4.9zM58.6,19.4h4.9v2.5h-4.9z"/>
<path fill="#0033ff" d="M19.8,104.4h2.5v2.5h-2.5zM29.5,104.4h2.5v2.5h-2.5zM19.8,102.0h2.5v2.5h-2.5zM39.2,99.6h7.4v2.5h-7.4zM19.8,97.1h2.5v2.5h-2.5zM73.1,97.1h4.9v2.5h-4.9zM19.8,94.7h2.5v2.5h-2.5zM41.6,82.6h2.5v2.5h-2.5zM39.2,80.1h2.5v2.5h-2.5zM53.7,80.1h2.5v2.5h-2.5zM46.5,77.7h2.5v2.5h-2.5zM51.3,77.7h4.9v2.5h-4.9zM39.2,75.3h2.5v2.5h-2.5zM39.2,72.8h2.5v2.5h-2.5zM78.0,72.8h4.9v2.5h-4.9zM44.0,70.4h2.5v2.5h-2.5zM82.8,70.4h2.5v2.5h-2.5zM29.5,68.0h4.9v2.5h-4.9zM39.2,68.0h2.5v2.5h-2.5zM70.7,68.0h2.5v2.5h-2.5zM80.4,68.0h2.5v2.5h-2.5zM27.1,65.6h2.5v2.5h-2.5zM34.4,65.6h2.5v2.5h-2.5zM39.2,65.6h2.5v2.5h-2.5zM44.0,65.6h12.2v2.5h-12.2zM82.8,65.6h2.5v2.5h-2.5zM24.7,63.1h7.4v2.5h-7.4zM34.4,63.1h12.2v2.5h-12.2zM58.6,63.1h2.5v2.5h-2.5zM70.7,63.1h2.5v2.5h-2.5zM27.1,60.7h2.5v2.5h-2.5zM44.0,60.7h2.5v2.5h-2.5zM63.4,60.7h9.8v2.5h-9.8zM27.1,58.3h2.5v2.5h-2.5zM44.0,58.3h4.9v2.5h-4.9zM53.7,58.3h2.5v2.5h-2.5zM70.7,58.3h4.9v2.5h-4.9zM22.2,55.8h2.5v2.5h-2.5zM53.7,55.8h2.5v2.5h-2.5zM68.3,55.8h2.5v2.5h-2.5zM15.0,53.4h4.9v2.5h-4.9zM19.8,51.0h2.5v2.5h-2.5zM65.9,51.0h2.5v2.5h-2.5zM75.5,51.0h2.5v2.5h-2.5zM44.0,48.5h2.5v2.5h-2.5zM48.9,48.5h2.5v2.5h-2.5zM56.2,48.5h2.5v2.5h-2.5zM61.0,48.5h4.9v2.5h-4.9zM92.5,48.5h2.5v2.5h-2.5zM90.1,38.8h2.5v2.5h-2.5zM63.4,34.0h2.5v2.5h-2.5zM85.2,34.0h2.5v2.5h-2.5zM61.0,31.5h4.9v2.5h-4.9zM80.4,31.5h2.5v2.5h-2.5zM63.4,29.1h2.5v2.5h-2.5zM78.0,29.1h2.5v2.5h-2.5zM80.4,26.7h2.5v2.5h-2.5zM75.5,24.2h2.5v2.5h-2.5zM73.1,21.8h4.9v2.5h-4.9zM73.1,19.4h2.5v2.5h-2.5zM63.4,17.0h2.5v2.5h-2.5zM68.3,12.1h4.9v2.5h-4.9z"/>
<path fill="#004dff" d="M22.2,106.9h9.8v2.5h-9.8zM22.2,104.4h2.5v2.5h-2.5zM27.1,104.4h2.5v2.5h-2.5zM22.2,102.0h2.5v2.5h-2.5zM27.1,102.0h7.4v2.5h-7.4zM39.2,102.0h2.5v2.5h-2.5zM22.2,99.6h4.9v2.5h-4.9zM22.2,97.1h2.5v2.5h-2.5zM39.2,97.1h7.4v2.5h-7.4zM22.2,94.7h2.5v2.5h-2.5zM19.8,92.3h2.5v2.5h-2.5zM19.8,89.9h4.9v2.5h-4.9zM36.8,82.6h2.5v2.5h-2.5zM44.0,82.6h2.5v2.5h-2.5zM46.5,80.1h7.4v2.5h-7.4zM56.2,80.1h2.5v2.5h-2.5zM48.9,77.7h2.5v2.5h-2.5zM27.1,75.3h2.5v2.5h-2.5zM46.5,75.3h2.5v2.5h-2.5zM78.0,75.3h4.9v2.5h-4.9zM46.5,72.8h2.5v2.5h-2.5zM82.8,72.8h2.5v2.5h-2.5zM27.1,70.4h4.9v2.5h-4.9zM39.2,70.4h2.5v2.5h-2.5zM70.7,70.4h2.5v2.5h-2.5zM85.2,70.4h2.5v2.5h-2.5zM34.4,68.0h2.5v2.5h-2.5zM82.8,68.0h2.5v2.5h-2.5zM24.7,65.6h2.5v2.5h-2.5zM36.8,65.6h2.5v2.5h-2.5zM56.2,65.6h2.5v2.5h-2.5zM61.0,63.1h2.5v2.5h-2.5zM65.9,63.1h4.9v2.5h-4.9zM85.2,63.1h2.5v2.5h-2.5zM24.7,60.7h2.5v2.5h-2.5zM34.4,60.7h7.4v2.5h-7.4zM24.7,58.3h2.5v2.5h-2.5zM31.9,58.3h7.4v2.5h-7.4zM41.6,58.3h2.5v2.5h-2.5zM85.2,58.3h2.5v2.5h-2.5zM17.4,55.8h2.5v2.5h-2.5zM27.1,55.8h4.9v2.5h-4.9zM46.5,55.8h2.5v2.5h-2.5zM70.7,55.8h2.5v2.5h-2.5zM85.2,55.8h2.5v2.5h-2.5zM19.8,53.4h4.9v2.5h-4.9zM53.7,53.4h2.5v2.5h-2.5zM68.3,53.4h7.4v2.5h-7.4zM85.2,53.4h4.9v2.5h-4.9zM15.0,51.0h2.5v2.5h-2.5zM22.2,51.0h2.5v2.5h-2.5zM48.9,51.0h2.5v2.5h-2.5zM53.7,51.0h2.5v2.5h-2.5zM82.8,51.0h4.9v2.5h-4.9zM92.5,51.0h4.9v2.5h-4.9zM19.8,48.5h2.5v2.5h-2.5zM41.6,48.5h2.5v2.5h-2.5zM46.5,48.5h2.5v2.5h-2.5zM80.4,48.5h2.5v2.5h-2.5zM41.6,46.1h2.5v2.5h-2.5zM90.1,46.1h2.5v2.5h-2.5zM87.7,41.3h2.5v2.5h-2.5zM87.7,38.8h2.5v2.5h-2.5zM61.0,36.4h4.9v2.5h-4.9zM87.7,36.4h2.5v2.5h-2.5zM61.0,34.0h2.5v2.5h-2.5zM65.9,34.0h2.5v2.5h-2.5zM75.5,34.0h2.5v2.5h-2.5zM80.4,34.0h4.9v2.5h-4.9zM65.9,31.5h2.5v2.5h-2.5zM61.0,29.1h2.5v2.5h-2.5zM65.9,29.1h2.5v2.5h-2.5zM78.0,26.7h2.5v2.5h-2.5zM73.1,24.2h2.5v2.5h-2.5zM78.0,24.2h2.5v2.5h-2.5zM58.6,21.8h4.9v2.5h-4.9zM56.2,19.4h2.5v2.5h-2.5zM63.4,19.4h2.5v2.5h-2.5zM44.0,17.0h2.5v2.5h-2.5zM56.2,17.0h2.5v2.5h-2.5zM70.7,17.0h4.9v2.5h-4.9zM65.9,14.5h2.5v2.5h-2.5zM70.7,14.5h2.5v2.5h-2.5zM65.9,12.1h2.5v2.5h-2.5z"/>
<path fill="#0066ff" d="M31.9,106.9h2.5v2.5h-2.5zM24.7,104.4h2.5v2.5h-2.5zM31.9,104.4h7.4v2.5h-7.4zM24.7,102.0h2.5v2.5h-2.5zM34.4,102.0h4.9v2.5h-4.9zM27.1,99.6h12.2v2.5h-12.2zM51.3,99.6h9.8v2.5h-9.8zM36.8,97.1h2.5v2.5h-2.5zM46.5,97.1h2.5v2.5h-2.5zM53.7,97.1h4.9v2.5h-4.9zM24.7,94.7h2.5v2.5h-2.5zM70.7,94.7h4.9v2.5h-4.9zM22.2,92.3h4.9v2.5h-4.9zM24.7,89.9h2.5v2.5h-2.5zM22.2,87.4h4.9v2.5h-4.9zM22.2,85.0h2.5v2.5h-2.5zM36.8,85.0h2.5v2.5h-2.5zM39.2,82.6h2.5v2.5h-2.5zM46.5,82.6h2.5v2.5h-2.5zM51.3,82.6h4.9v2.5h-4.9zM92.5,82.6h2.5v2.5h-2.5zM36.8,80.1h2.5v2.5h-2.5zM27.1,77.7h4.9v2.5h-4.9zM36.8,77.7h2.5v2.5h-2.5zM56.2,77.7h2.5v2.5h-2.5zM29.5,75.3h2.5v2.5h-2.5zM48.9,75.3h2.5v2.5h-2.5zM53.7,75.3h2.5v2.5h-2.5zM73.1,75.3h4.9v2.5h-4.9zM82.8,75.3h4.9v2.5h-4.9zM27.1,72.8h4.9v2.5h-4.9zM36.8,72.8h2.5v2.5h-2.5zM48.9,72.8h2.5v2.5h-2.5zM85.2,72.8h4.9v2.5h-4.9zM31.9,70.4h2.5v2.5h-2.5zM36.8,70.4h2.5v2.5h-2.5zM46.5,70.4h2.5v2.5h-2.5zM87.7,70.4h2.5v2.5h-2.5zM24.7,68.0h4.9v2.5h-4.9zM36.8,68.0h2.5v2.5h-2.5zM46.5,68.0h9.8v2.5h-9.8zM87.7,68.0h2.5v2.5h-2.5zM58.6,65.6h2.5v2.5h-2.5zM68.3,65.6h2.5v2.5h-2.5zM63.4,63.1h2.5v2.5h-2.5zM85.2,60.7h2.5v2.5h-2.5zM39.2,58.3h2.5v2.5h-2.5zM87.7,58.3h7.4v2.5h-7.4zM19.8,55.8h2.5v2.5h-2.5zM24.7,55.8h2.5v2.5h-2.5zM48.9,55.8h2.5v2.5h-2.5zM90.1,55.8h7.4v2.5h-7.4zM24.7,53.4h2.5v2.5h-2.5zM46.5,53.4h4.9v2.5h-4.9zM90.1,53.4h2.5v2.5h-2.5zM94.9,53.4h2.5v2.5h-2.5zM39.2,51.0h2.5v2.5h-2.5zM44.0,51.0h4.9v2.5h-4.9zM51.3,51.0h2.5v2.5h-2.5zM68.3,51.0h2.5v2.5h-2.5zM73.1,51.0h2.5v2.5h-2.5zM22.2,48.5h2.5v2.5h-2.5zM39.2,48.5h2.5v2.5h-2.5zM53.7,48.5h2.5v2.5h-2.5zM65.9,48.5h2.5v2.5h-2.5zM75.5,48.5h4.9v2.5h-4.9zM39.2,46.1h2.5v2.5h-2.5zM44.0,46.1h4.9v2.5h-4.9zM87.7,43.7h2.5v2.5h-2.5zM61.0,38.8h4.9v2.5h-4.9zM75.5,38.8h2.5v2.5h-2.5zM58.6,36.4h2.5v2.5h-2.5zM65.9,36.4h2.5v2.5h-2.5zM73.1,36.4h7.4v2.5h-7.4zM85.2,36.4h2.5v2.5h-2.5zM68.3,34.0h2.5v2.5h-2.5zM78.0,34.0h2.5v2.5h-2.5zM58.6,31.5h2.5v2.5h-2.5zM68.3,31.5h2.5v2.5h-2.5zM75.5,31.5h4.9v2.5h-4.9zM58.6,29.1h2.5v2.5h-2.5zM68.3,29.1h2.5v2.5h-2.5zM68.3,26.7h9.8v2.5h-9.8zM70.7,24.2h2.5v2.5h-2.5zM63.4,21.8h2.5v2.5h-2.5zM68.3,21.8h4.9v2.5h-4.9zM65.9,19.4h2.5v2.5h-2.5zM70.7,19.4h2.5v2.5h-2.5zM41.6,17.0h2.5v2.5h-2.5zM46.5,17.0h2.5v2.5h-2.5zM65.9,17.0h2.5v2.5h-2.5z"/>
<path fill="#0080ff" d="M56.2,102.0h4.9v2.5h-4.9zM24.7,97.1h12.2v2.5h-12.2zM36.8,94.7h4.9v2.5h-4.9zM75.5,94.7h2.5v2.5h-2.5zM27.1,92.3h2.5v2.5h-2.5zM27.1,89.9h2.5v2.5h-2.5zM27.1,87.4h4.9v2.5h-4.9zM24.7,85.0h4.9v2.5h-4.9zM39.2,85.0h4.9v2.5h-4.9zM24.7,82.6h2.5v2.5h-2.5zM34.4,82.6h2.5v2.5h-2.5zM48.9,82.6h2.5v2.5h-2.5zM73.1,82.6h2.5v2.5h-2.5zM24.7,80.1h2.5v2.5h-2.5zM34.4,80.1h2.5v2.5h-2.5zM73.1,80.1h2.5v2.5h-2.5zM92.5,80.1h2.5v2.5h-2.5zM24.7,77.7h2.5v2.5h-2.5zM34.4,77.7h2.5v2.5h-2.5zM90.1,77.7h4.9v2.5h-4.9zM31.9,75.3h2.5v2.5h-2.5zM36.8,75.3h2.5v2.5h-2.5zM51.3,75.3h2.5v2.5h-2.5zM56.2,75.3h2.5v2.5h-2.5zM87.7,75.3h4.9v2.5h-4.9zM51.3,72.8h4.9v2.5h-4.9zM70.7,72.8h2.5v2.5h-2.5zM90.1,72.8h2.5v2.5h-2.5zM97.4,72.8h2.5v2.5h-2.5zM34.4,70.4h2.5v2.5h-2.5zM48.9,70.4h9.8v2.5h-9.8zM90.1,70.4h2.5v2.5h-2.5zM56.2,68.0h2.5v2.5h-2.5zM68.3,68.0h2.5v2.5h-2.5zM85.2,68.0h2.5v2.5h-2.5zM65.9,65.6h2.5v2.5h-2.5zM85.2,65.6h2.5v2.5h-2.5zM87.7,63.1h4.9v2.5h-4.9zM92.5,60.7h2.5v2.5h-2.5zM94.9,58.3h2.5v2.5h-2.5zM31.9,55.8h12.2v2.5h-12.2zM51.3,55.8h2.5v2.5h-2.5zM87.7,55.8h2.5v2.5h-2.5zM36.8,53.4h4.9v2.5h-4.9zM51.3,53.4h2.5v2.5h-2.5zM92.5,53.4h2.5v2.5h-2.5zM24.7,51.0h4.9v2.5h-4.9zM36.8,51.0h2.5v2.5h-2.5zM41.6,51.0h2.5v2.5h-2.5zM70.7,51.0h2.5v2.5h-2.5zM87.7,51.0h4.9v2.5h-4.9zM36.8,48.5h2.5v2.5h-2.5zM51.3,48.5h2.5v2.5h-2.5zM68.3,48.5h2.5v2.5h-2.5zM73.1,48.5h2.5v2.5h-2.5zM82.8,48.5h2.5v2.5h-2.5zM90.1,48.5h2.5v2.5h-2.5zM48.9,46.1h2.5v2.5h-2.5zM53.7,46.1h9.8v2.5h-9.8zM87.7,46.1h2.5v2.5h-2.5zM41.6,43.7h2.5v2.5h-2.5zM75.5,41.3h2.5v2.5h-2.5zM65.9,38.8h4.9v2.5h-4.9zM73.1,38.8h2.5v2.5h-2.5zM78.0,38.8h2.5v2.5h-2.5zM85.2,38.8h2.5v2.5h-2.5zM68.3,36.4h4.9v2.5h-4.9zM80.4,36.4h4.9v2.5h-4.9zM58.6,34.0h2.5v2.5h-2.5zM70.7,34.0h4.9v2.5h-4.9zM56.2,31.5h2.5v2.5h-2.5zM70.7,31.5h4.9v2.5h-4.9zM56.2,29.1h2.5v2.5h-2.5zM70.7,29.1h7.4v2.5h-7.4zM24.7,26.7h2.5v2.5h-2.5zM56.2,26.7h12.2v2.5h-12.2zM56.2,24.2h14.6v2.5h-14.6zM56.2,21.8h2.5v2.5h-2.5zM65.9,21.8h2.5v2.5h-2.5zM68.3,19.4h2.5v2.5h-2.5zM36.8,17.0h4.9v2.5h-4.9zM53.7,17.0h2.5v2.5h-2.5zM68.3,17.0h2.5v2.5h-2.5zM68.3,14.5h2.5v2.5h-2.5z"/>
<path fill="#0099ff" d="M51.3,97.1h2.5v2.5h-2.5zM27.1,94.7h2.5v2.5h-2.5zM41.6,94.7h2.5v2.5h-2.5zM61.0,94.7h4.9v2.5h-4.9zM80.4,94.7h4.9v2.5h-4.9zM36.8,92.3h2.5v2.5h-2.5zM29.5,89.9h2.5v2.5h-2.5zM36.8,89.9h2.5v2.5h-2.5zM31.9,87.4h9.8v2.5h-9.8zM34.4,85.0h2.5v2.5h-2.5zM70.7,85.0h4.9v2.5h-4.9zM27.1,82.6h2.5v2.5h-2.5zM56.2,82.6h2.5v2.5h-2.5zM70.7,82.6h2.5v2.5h-2.5zM90.1,82.6h2.5v2.5h-2.5zM27.1,80.1h7.4v2.5h-7.4zM58.6,80.1h2.5v2.5h-2.5zM87.7,80.1h4.9v2.5h-4.9zM31.9,77.7h2.5v2.5h-2.5zM58.6,77.7h2.5v2.5h-2.5zM73.1,77.7h7.4v2.5h-7.4zM85.2,77.7h4.9v2.5h-4.9zM94.9,77.7h2.5v2.5h-2.5zM34.4,75.3h2.5v2.5h-2.5zM58.6,75.3h2.5v2.5h-2.5zM92.5,75.3h4.9v2.5h-4.9zM31.9,72.8h4.9v2.5h-4.9zM56.2,72.8h2.5v2.5h-2.5zM92.5,72.8h4.9v2.5h-4.9zM58.6,70.4h2.5v2.5h-2.5zM92.5,70.4h4.9v2.5h-4.9zM58.6,68.0h2.5v2.5h-2.5zM90.1,68.0h7.4v2.5h-7.4zM61.0,65.6h2.5v2.5h-2.5zM87.7,65.6h4.9v2.5h-4.9zM92.5,63.1h2.5v2.5h-2.5zM87.7,60.7h4.9v2.5h-4.9zM44.0,55.8h2.5v2.5h-2.5zM27.1,53.4h9.8v2.5h-9.8zM41.6,53.4h4.9v2.5h-4.9zM29.5,51.0h2.5v2.5h-2.5zM34.4,51.0h2.5v2.5h-2.5zM24.7,48.5h2.5v2.5h-2.5zM70.7,48.5h2.5v2.5h-2.5zM85.2,48.5h4.9v2.5h-4.9zM36.8,46.1h2.5v2.5h-2.5zM51.3,46.1h2.5v2.5h-2.5zM63.4,46.1h4.9v2.5h-4.9zM73.1,46.1h9.8v2.5h-9.8zM39.2,43.7h2.5v2.5h-2.5zM44.0,43.7h2.5v2.5h-2.5zM85.2,43.7h2.5v2.5h-2.5zM39.2,41.3h2.5v2.5h-2.5zM61.0,41.3h4.9v2.5h-4.9zM73.1,41.3h2.5v2.5h-2.5zM85.2,41.3h2.5v2.5h-2.5zM58.6,38.8h2.5v2.5h-2.5zM70.7,38.8h2.5v2.5h-2.5zM80.4,38.8h4.9v2.5h-4.9zM56.2,34.0h2.5v2.5h-2.5zM53.7,26.7h2.5v2.5h-2.5zM53.7,21.8h2.5v2.5h-2.5zM34.4,19.4h2.5v2.5h-2.5zM39.2,19.4h9.8v2.5h-9.8zM53.7,19.4h2.5v2.5h-2.5zM48.9,17.0h4.9v2.5h-4.9z"/>
<path fill="#00b3ff" d="M34.4,94.7h2.5v2.5h-2.5zM44.0,94.7h4.9v2.5h-4.9zM29.5,92.3h7.4v2.5h-7.4zM75.5,92.3h4.9v2.5h-4.9zM87.7,92.3h2.5v2.5h-2.5zM31.9,89.9h4.9v2.5h-4.9zM41.6,87.4h2.5v2.5h-2.5zM70.7,87.4h4.9v2.5h-4.9zM90.1,87.4h2.5v2.5h-2.5zM29.5,85.0h4.9v2.5h-4.9zM44.0,85.0h2.5v2.5h-2.5zM53.7,85.0h2.5v2.5h-2.5zM75.5,85.0h2.5v2.5h-2.5zM90.1,85.0h2.5v2.5h-2.5zM29.5,82.6h4.9v2.5h-4.9zM75.5,82.6h2.5v2.5h-2.5zM87.7,82.6h2.5v2.5h-2.5zM70.7,80.1h2.5v2.5h-2.5zM75.5,80.1h2.5v2.5h-2.5zM82.8,80.1h4.9v2.5h-4.9zM80.4,77.7h4.9v2.5h-4.9zM70.7,75.3h2.5v2.5h-2.5zM58.6,72.8h2.5v2.5h-2.5zM68.3,70.4h2.5v2.5h-2.5zM65.9,68.0h2.5v2.5h-2.5zM63.4,65.6h2.5v2.5h-2.5zM92.5,65.6h2.5v2.5h-2.5zM31.9,51.0h2.5v2.5h-2.5zM29.5,48.5h2.5v2.5h-2.5zM68.3,46.1h4.9v2.5h-4.9zM82.8,46.1h4.9v2.5h-4.9zM36.8,43.7h2.5v2.5h-2.5zM56.2,43.7h12.2v2.5h-12.2zM73.1,43.7h7.4v2.5h-7.4zM82.8,43.7h2.5v2.5h-2.5zM41.6,41.3h2.5v2.5h-2.5zM58.6,41.3h2.5v2.5h-2.5zM70.7,41.3h2.5v2.5h-2.5zM78.0,41.3h7.4v2.5h-7.4zM39.2,38.8h2.5v2.5h-2.5zM56.2,38.8h2.5v2.5h-2.5zM56.2,36.4h2.5v2.5h-2.5zM27.1,29.1h2.5v2.5h-2.5zM53.7,29.1h2.5v2.5h-2.5zM27.1,26.7h2.5v2.5h-2.5zM53.7,24.2h2.5v2.5h-2.5zM34.4,21.8h2.5v2.5h-2.5zM36.8,19.4h2.5v2.5h-2.5zM48.9,19.4h4.9v2.5h-4.9z"/>
<path fill="#00ccff" d="M29.5,94.7h4.9v2.5h-4.9zM56.2,94.7h4.9v2.5h-4.9zM39.2,92.3h2.5v2.5h-2.5zM68.3,92.3h7.4v2.5h-7.4zM80.4,92.3h4.9v2.5h-4.9zM39.2,89.9h2.5v2.5h-2.5zM70.7,89.9h4.9v2.5h-4.9zM87.7,89.9h2.5v2.5h-2.5zM75.5,87.4h2.5v2.5h-2.5zM87.7,87.4h2.5v2.5h-2.5zM46.5,85.0h2.5v2.5h-2.5zM51.3,85.0h2.5v2.5h-2.5zM80.4,82.6h2.5v2.5h-2.5zM85.2,82.6h2.5v2.5h-2.5zM78.0,80.1h2.5v2.5h-2.5zM61.0,77.7h2.5v2.5h-2.5zM70.7,77.7h2.5v2.5h-2.5zM61.0,72.8h2.5v2.5h-2.5zM61.0,70.4h2.5v2.5h-2.5zM61.0,68.0h4.9v2.5h-4.9zM27.1,48.5h2.5v2.5h-2.5zM31.9,48.5h4.9v2.5h-4.9zM34.4,46.1h2.5v2.5h-2.5zM46.5,43.7h9.8v2.5h-9.8zM68.3,43.7h4.9v2.5h-4.9zM80.4,43.7h2.5v2.5h-2.5zM36.8,41.3h2.5v2.5h-2.5zM65.9,41.3h4.9v2.5h-4.9zM34.4,38.8h2.5v2.5h-2.5zM31.9,36.4h2.5v2.5h-2.5zM53.7,36.4h2.5v2.5h-2.5zM53.7,34.0h2.5v2.5h-2.5zM53.7,31.5h2.5v2.5h-2.5zM29.5,24.2h2.5v2.5h-2.5zM51.3,24.2h2.5v2.5h-2.5zM31.9,21.8h2.5v2.5h-2.5zM36.8,21.8h7.4v2.5h-7.4zM48.9,21.8h4.9v2.5h-4.9z"/>
<path fill="#00e5ff" d="M51.3,94.7h4.9v2.5h-4.9zM41.6,92.3h2.5v2.5h-2.5zM85.2,92.3h2.5v2.5h-2.5zM75.5,89.9h2.5v2.5h-2.5zM85.2,89.9h2.5v2.5h-2.5zM78.0,87.4h2.5v2.5h-2.5zM56.2,85.0h2.5v2.5h-2.5zM68.3,85.0h2.5v2.5h-2.5zM78.0,85.0h4.9v2.5h-4.9zM85.2,85.0h4.9v2.5h-4.9zM58.6,82.6h2.5v2.5h-2.5zM68.3,82.6h2.5v2.5h-2.5zM78.0,82.6h2.5v2.5h-2.5zM82.8,82.6h2.5v2.5h-2.5zM61.0,80.1h2.5v2.5h-2.5zM80.4,80.1h2.5v2.5h-2.5zM68.3,72.8h2.5v2.5h-2.5zM65.9,70.4h2.5v2.5h-2.5zM31.9,46.1h2.5v2.5h-2.5zM34.4,43.7h2.5v2.5h-2.5zM29.5,41.3h2.5v2.5h-2.5zM34.4,41.3h2.5v2.5h-2.5zM44.0,41.3h2.5v2.5h-2.5zM53.7,41.3h4.9v2.5h-4.9zM29.5,38.8h2.5v2.5h-2.5zM36.8,38.8h2.5v2.5h-2.5zM41.6,38.8h2.5v2.5h-2.5zM53.7,38.8h2.5v2.5h-2.5zM29.5,36.4h2.5v2.5h-2.5zM34.4,36.4h2.5v2.5h-2.5zM51.3,36.4h2.5v2.5h-2.5zM27.1,31.5h2.5v2.5h-2.5zM51.3,29.1h2.5v2.5h-2.5zM29.5,26.7h2.5v2.5h-2.5zM51.3,26.7h2.5v2.5h-2.5zM44.0,21.8h4.9v2.5h-4.9z"/>
<path fill="#00ffff" d="M65.9,92.3h2.5v2.5h-2.5zM41.6,89.9h2.5v2.5h-2.5zM68.3,89.9h2.5v2.5h-2.5zM78.0,89.9h7.4v2.5h-7.4zM68.3,87.4h2.5v2.5h-2.5zM80.4,87.4h7.4v2.5h-7.4zM48.9,85.0h2.5v2.5h-2.5zM58.6,85.0h2.5v2.5h-2.5zM82.8,85.0h2.5v2.5h-2.5zM68.3,80.1h2.5v2.5h-2.5zM61.0,75.3h2.5v2.5h-2.5zM65.9,72.8h2.5v2.5h-2.5zM63.4,70.4h2.5v2.5h-2.5zM31.9,43.7h2.5v2.5h-2.5zM46.5,41.3h7.4v2.5h-7.4zM31.9,38.8h2.5v2.5h-2.5zM44.0,38.8h2.5v2.5h-2.5zM51.3,38.8h2.5v2.5h-2.5zM36.8,36.4h7.4v2.5h-7.4zM31.9,34.0h2.5v2.5h-2.5zM51.3,34.0h2.5v2.5h-2.5zM51.3,31.5h2.5v2.5h-2.5zM29.5,29.1h2.5v2.5h-2.5zM31.9,24.2h4.9v2.5h-4.9zM48.9,24.2h2.5v2.5h-2.5z"/>
<path fill="#1affe5" d="M44.0,92.3h2.5v2.5h-2.5zM63.4,92.3h2.5v2.5h-2.5zM44.0,87.4h2.5v2.5h-2.5zM65.9,85.0h2.5v2.5h-2.5zM61.0,82.6h7.4v2.5h-7.4zM63.4,80.1h2.5v2.5h-2.5zM68.3,77.7h2.5v2.5h-2.5zM63.4,75.3h2.5v2.5h-2.5zM68.3,75.3h2.5v2.5h-2.5zM63.4,72.8h2.5v2.5h-2.5zM31.9,41.3h2.5v2.5h-2.5zM48.9,38.8h2.5v2.5h-2.5zM48.9,36.4h2.5v2.5h-2.5zM29.5,34.0h2.5v2.5h-2.5zM34.4,34.0h2.5v2.5h-2.5zM31.9,31.5h2.5v2.5h-2.5zM31.9,26.7h2.5v2.5h-2.5zM46.5,24.2h2.5v2.5h-2.5z"/>
<path fill="#33ffcc" d="M44.0,89.9h2.5v2.5h-2.5zM65.9,89.9h2.5v2.5h-2.5zM65.9,87.4h2.5v2.5h-2.5zM61.0,85.0h2.5v2.5h-2.5zM65.9,80.1h2.5v2.5h-2.5zM63.4,77.7h2.5v2.5h-2.5zM46.5,38.8h2.5v2.5h-2.5zM44.0,36.4h2.5v2.5h-2.5zM36.8,34.0h2.5v2.5h-2.5zM48.9,34.0h2.5v2.5h-2.5zM29.5,31.5h2.5v2.5h-2.5zM48.9,31.5h2.5v2.5h-2.5zM48.9,26.7h2.5v2.5h-2.5zM36.8,24.2h2.5v2.5h-2.5z"/>
<path fill="#4dffb3" d="M61.0,92.3h2.5v2.5h-2.5zM63.4,87.4h2.5v2.5h-2.5zM63.4,85.0h2.5v2.5h-2.5zM65.9,77.7h2.5v2.5h-2.5zM65.9,75.3h2.5v2.5h-2.5zM46.5,36.4h2.5v2.5h-2.5zM34.4,31.5h2.5v2.5h-2.5zM31.9,29.1h2.5v2.5h-2.5zM48.9,29.1h2.5v2.5h-2.5zM34.4,26.7h2.5v2.5h-2.5zM39.2,24.2h2.5v2.5h-2.5zM44.0,24.2h2.5v2.5h-2.5z"/>
<path fill="#66ff99" d="M46.5,92.3h2.5v2.5h-2.5zM63.4,89.9h2.5v2.5h-2.5zM46.5,87.4h2.5v2.5h-2.5zM41.6,34.0h7.4v2.5h-7.4zM34.4,29.1h2.5v2.5h-2.5zM41.6,24.2h2.5v2.5h-2.5z"/>
<path fill="#80ff80" d="M56.2,92.3h4.9v2.5h-4.9zM39.2,34.0h2.5v2.5h-2.5z"/>
<path fill="#99ff66" d="M48.9,87.4h14.6v2.5h-14.6zM36.8,31.5h2.5v2.5h-2.5zM46.5,31.5h2.5v2.5h-2.5zM36.8,26.7h2.5v2.5h-2.5z"/>
<path fill="#b3ff4c" d="M53.7,92.3h2.5v2.5h-2.5zM61.0,89.9h2.5v2.5h-2.5zM39.2,31.5h2.5v2.5h-2.5zM36.8,29.1h2.5v2.5h-2.5zM39.2,26.7h2.5v2.5h-2.5zM46.5,26.7h2.5v2.5h-2.5z"/>
<path fill="#ccff33" d="M48.9,97.1h2.5v2.5h-2.5zM46.5,89.9h2.5v2.5h-2.5zM41.6,31.5h2.5v2.5h-2.5zM46.5,29.1h2.5v2.5h-2.5z"/>
<path fill="#e5ff1a" d="M48.9,94.7h2.5v2.5h-2.5zM58.6,89.9h2.5v2.5h-2.5zM44.0,31.5h2.5v2.5h-2.5zM39.2,29.1h2.5v2.5h-2.5z"/>
<path fill="#ffff00" d="M51.3,92.3h2.5v2.5h-2.5z"/>
<path fill="#ffe500" d="M48.9,92.3h2.5v2.5h-2.5z"/>
<path fill="#ffcc00" d="M53.7,89.9h4.9v2.5h-4.9zM41.6,29.1h4.9v2.5h-4.9zM41.6,26.7h4.9v2.5h-4.9z"/>
<path fill="#ffb300" d="M48.9,89.9h2.5v2.5h-2.5z"/>
<path fill="#ff9900" d="M51.3,89.9h2.5v2.5h-2.5z"/></g>
<use href="#geo"/><g><rect x="0" y="0" width="110.00" height="121.50" fill="none" stroke="#7d7d7d" stroke-width="0.85"/><path d="M12.60,121.50v-1.2M12.60,0v1.2M36.83,121.50v-1.2M36.83,0v1.2M61.06,121.50v-1.2M61.06,0v1.2M85.29,121.50v-1.2M85.29,0v1.2M0,97.20h1.2M110.00,97.20h-1.2M0,72.90h1.2M110.00,72.90h-1.2M0,48.60h1.2M110.00,48.60h-1.2M0,24.30h1.2M110.00,24.30h-1.2" stroke="#8c8c8c" stroke-width="0.6" fill="none"/><g font-size="7.0" fill="#333" text-anchor="middle"><text x="12.60" y="131.50">126</text><text x="36.83" y="131.50">127</text><text x="61.06" y="131.50">128</text><text x="85.29" y="131.50">129</text><text x="110.12" y="131.50">130</text></g><g font-size="7.0" fill="#333" text-anchor="end"><text x="-2.6" y="124.50">34</text><text x="-2.6" y="100.20">35</text><text x="-2.6" y="75.90">36</text><text x="-2.6" y="51.60">37</text><text x="-2.6" y="27.30">38</text><text x="-2.6" y="3.00">39</text></g></g>
</g>
<rect x="164.00" y="179.60" width="10.80" height="121.50" fill="url(#jet)" stroke="#333" stroke-width="0.3"/>
<g font-size="7.0" fill="#333">
<text x="176.80" y="182.50">9000</text>
<text x="176.80" y="223.00">6000</text>
<text x="176.80" y="263.50">3000</text>
<text x="176.80" y="304.00">0</text>
</g>
<g transform="translate(219.90,179.60)">
<use href="#grid"/>
<g shape-rendering="crispEdges"><path fill="#000080" d="M80.4,82.6h4.9v2.5h-4.9zM75.5,80.1h2.5v2.5h-2.5zM80.4,80.1h4.9v2.5h-4.9zM82.8,77.7h2.5v2.5h-2.5zM80.4,72.8h2.5v2.5h-2.5zM85.2,72.8h2.5v2.5h-2.5z"/>
<path fill="#000099" d="M80.4,89.9h7.4v2.5h-7.4zM80.4,85.0h7.4v2.5h-7.4zM73.1,82.6h2.5v2.5h-2.5zM73.1,80.1h2.5v2.5h-2.5zM78.0,80.1h2.5v2.5h-2.5zM85.2,80.1h2.5v2.5h-2.5zM90.1,80.1h2.5v2.5h-2.5zM73.1,77.7h2.5v2.5h-2.5zM78.0,77.7h4.9v2.5h-4.9zM85.2,77.7h2.5v2.5h-2.5zM82.8,75.3h2.5v2.5h-2.5zM73.1,72.8h2.5v2.5h-2.5zM78.0,72.8h2.5v2.5h-2.5zM82.8,72.8h2.5v2.5h-2.5zM82.8,68.0h2.5v2.5h-2.5z"/>
<path fill="#0000b3" d="M87.7,87.4h2.5v2.5h-2.5zM68.3,85.0h2.5v2.5h-2.5zM73.1,85.0h4.9v2.5h-4.9zM63.4,82.6h2.5v2.5h-2.5zM68.3,82.6h4.9v2.5h-4.9zM87.7,82.6h4.9v2.5h-4.9zM68.3,80.1h2.5v2.5h-2.5zM87.7,80.1h2.5v2.5h-2.5zM70.7,77.7h2.5v2.5h-2.5zM75.5,77.7h2.5v2.5h-2.5zM63.4,75.3h2.5v2.5h-2.5zM68.3,75.3h4.9v2.5h-4.9zM85.2,75.3h7.4v2.5h-7.4zM75.5,72.8h2.5v2.5h-2.5zM87.7,72.8h2.5v2.5h-2.5zM94.9,72.8h2.5v2.5h-2.5zM80.4,70.4h2.5v2.5h-2.5zM73.1,68.0h2.5v2.5h-2.5zM78.0,68.0h4.9v2.5h-4.9zM85.2,68.0h2.5v2.5h-2.5zM78.0,65.6h9.8v2.5h-9.8zM80.4,63.1h7.4v2.5h-7.4zM80.4,53.4h2.5v2.5h-2.5zM82.8,51.0h2.5v2.5h-2.5zM80.4,48.5h7.4v2.5h-7.4zM56.2,31.5h2.5v2.5h-2.5z"/>
<path fill="#0000cc" d="M31.9,106.9h2.5v2.5h-2.5zM80.4,92.3h2.5v2.5h-2.5zM36.8,89.9h7.4v2.5h-7.4zM87.7,89.9h2.5v2.5h-2.5zM36.8,87.4h4.9v2.5h-4.9zM90.1,87.4h2.5v2.5h-2.5zM36.8,85.0h4.9v2.5h-4.9zM63.4,85.0h2.5v2.5h-2.5zM70.7,85.0h2.5v2.5h-2.5zM78.0,85.0h2.5v2.5h-2.5zM87.7,85.0h4.9v2.5h-4.9zM44.0,82.6h2.5v2.5h-2.5zM63.4,80.1h4.9v2.5h-4.9zM70.7,80.1h2.5v2.5h-2.5zM92.5,80.1h2.5v2.5h-2.5zM63.4,77.7h2.5v2.5h-2.5zM87.7,77.7h4.9v2.5h-4.9zM94.9,77.7h2.5v2.5h-2.5zM27.1,75.3h9.8v2.5h-9.8zM92.5,75.3h4.9v2.5h-4.9zM29.5,72.8h7.4v2.5h-7.4zM68.3,72.8h4.9v2.5h-4.9zM90.1,72.8h2.5v2.5h-2.5zM29.5,70.4h2.5v2.5h-2.5zM61.0,70.4h4.9v2.5h-4.9zM87.7,70.4h2.5v2.5h-2.5zM61.0,68.0h12.2v2.5h-12.2zM75.5,68.0h2.5v2.5h-2.5zM87.7,68.0h2.5v2.5h-2.5zM61.0,65.6h2.5v2.5h-2.5zM73.1,65.6h4.9v2.5h-4.9zM87.7,65.6h2.5v2.5h-2.5zM70.7,63.1h9.8v2.5h-9.8zM90.1,63.1h2.5v2.5h-2.5zM80.4,60.7h4.9v2.5h-4.9zM90.1,60.7h2.5v2.5h-2.5zM87.7,58.3h4.9v2.5h-4.9zM80.4,55.8h4.9v2.5h-4.9zM90.1,55.8h2.5v2.5h-2.5zM82.8,53.4h4.9v2.5h-4.9zM90.1,53.4h2.5v2.5h-2.5zM80.4,51.0h2.5v2.5h-2.5zM85.2,51.0h4.9v2.5h-4.9zM90.1,48.5h2.5v2.5h-2.5zM80.4,46.1h7.4v2.5h-7.4zM82.8,43.7h2.5v2.5h-2.5zM56.2,41.3h4.9v2.5h-4.9zM56.2,38.8h4.9v2.5h-4.9zM56.2,36.4h4.9v2.5h-4.9zM56.2,34.0h2.5v2.5h-2.5zM61.0,34.0h2.5v2.5h-2.5zM85.2,31.5h2.5v2.5h-2.5zM48.9,29.1h2.5v2.5h-2.5zM31.9,21.8h2.5v2.5h-2.5zM34.4,19.4h2.5v2.5h-2.5zM53.7,19.4h2.5v2.5h-2.5zM48.9,17.0h2.5v2.5h-2.5z"/>
<path fill="#0000e6" d="M41.6,94.7h7.4v2.5h-7.4zM44.0,92.3h4.9v2.5h-4.9zM82.8,92.3h7.4v2.5h-7.4zM44.0,89.9h2.5v2.5h-2.5zM41.6,87.4h4.9v2.5h-4.9zM41.6,85.0h2.5v2.5h-2.5zM65.9,85.0h2.5v2.5h-2.5zM92.5,82.6h2.5v2.5h-2.5zM36.8,77.7h9.8v2.5h-9.8zM65.9,77.7h4.9v2.5h-4.9zM92.5,77.7h2.5v2.5h-2.5zM36.8,75.3h9.8v2.5h-9.8zM65.9,75.3h2.5v2.5h-2.5zM27.1,72.8h2.5v2.5h-2.5zM36.8,72.8h9.8v2.5h-9.8zM65.9,72.8h2.5v2.5h-2.5zM92.5,72.8h2.5v2.5h-2.5zM97.4,72.8h2.5v2.5h-2.5zM31.9,70.4h2.5v2.5h-2.5zM48.9,70.4h2.5v2.5h-2.5zM68.3,70.4h4.9v2.5h-4.9zM90.1,70.4h2.5v2.5h-2.5zM94.9,70.4h2.5v2.5h-2.5zM63.4,65.6h9.8v2.5h-9.8zM90.1,65.6h2.5v2.5h-2.5zM58.6,63.1h12.2v2.5h-12.2zM87.7,63.1h2.5v2.5h-2.5zM73.1,60.7h7.4v2.5h-7.4zM85.2,60.7h4.9v2.5h-4.9zM73.1,58.3h2.5v2.5h-2.5zM78.0,58.3h9.8v2.5h-9.8zM73.1,55.8h2.5v2.5h-2.5zM85.2,55.8h4.9v2.5h-4.9zM87.7,53.4h2.5v2.5h-2.5zM90.1,51.0h2.5v2.5h-2.5zM87.7,48.5h2.5v2.5h-2.5zM90.1,46.1h2.5v2.5h-2.5zM51.3,43.7h4.9v2.5h-4.9zM80.4,43.7h2.5v2.5h-2.5zM87.7,43.7h2.5v2.5h-2.5zM48.9,41.3h7.4v2.5h-7.4zM65.9,41.3h2.5v2.5h-2.5zM51.3,38.8h4.9v2.5h-4.9zM80.4,38.8h7.4v2.5h-7.4zM48.9,36.4h7.4v2.5h-7.4zM80.4,36.4h7.4v2.5h-7.4zM58.6,34.0h2.5v2.5h-2.5zM65.9,34.0h2.5v2.5h-2.5zM58.6,31.5h2.5v2.5h-2.5zM80.4,31.5h4.9v2.5h-4.9zM56.2,29.1h4.9v2.5h-4.9zM80.4,29.1h4.9v2.5h-4.9zM48.9,26.7h4.9v2.5h-4.9zM56.2,26.7h4.9v2.5h-4.9zM80.4,26.7h2.5v2.5h-2.5zM29.5,24.2h2.5v2.5h-2.5zM48.9,24.2h12.2v2.5h-12.2zM34.4,21.8h2.5v2.5h-2.5zM48.9,21.8h9.8v2.5h-9.8zM65.9,21.8h2.5v2.5h-2.5zM56.2,19.4h2.5v2.5h-2.5zM36.8,17.0h4.9v2.5h-4.9zM44.0,17.0h4.9v2.5h-4.9zM51.3,17.0h4.9v2.5h-4.9zM58.6,17.0h2.5v2.5h-2.5zM68.3,17.0h2.5v2.5h-2.5z"/>
<path fill="#0000ff" d="M31.9,99.6h2.5v2.5h-2.5zM39.2,97.1h2.5v2.5h-2.5zM75.5,97.1h2.5v2.5h-2.5zM24.7,94.7h4.9v2.5h-4.9zM36.8,94.7h4.9v2.5h-4.9zM27.1,92.3h2.5v2.5h-2.5zM34.4,92.3h4.9v2.5h-4.9zM27.1,89.9h2.5v2.5h-2.5zM31.9,89.9h2.5v2.5h-2.5zM46.5,89.9h2.5v2.5h-2.5zM31.9,87.4h2.5v2.5h-2.5zM44.0,85.0h2.5v2.5h-2.5zM24.7,77.7h2.5v2.5h-2.5zM29.5,77.7h2.5v2.5h-2.5zM27.1,70.4h2.5v2.5h-2.5zM34.4,70.4h2.5v2.5h-2.5zM41.6,70.4h4.9v2.5h-4.9zM65.9,70.4h2.5v2.5h-2.5zM44.0,68.0h2.5v2.5h-2.5zM48.9,68.0h4.9v2.5h-4.9zM90.1,68.0h7.4v2.5h-7.4zM56.2,60.7h2.5v2.5h-2.5zM63.4,60.7h2.5v2.5h-2.5zM70.7,60.7h2.5v2.5h-2.5zM75.5,58.3h2.5v2.5h-2.5zM17.4,55.8h2.5v2.5h-2.5zM75.5,55.8h4.9v2.5h-4.9zM15.0,53.4h4.9v2.5h-4.9zM46.5,53.4h2.5v2.5h-2.5zM73.1,53.4h7.4v2.5h-7.4zM15.0,51.0h2.5v2.5h-2.5zM46.5,51.0h2.5v2.5h-2.5zM73.1,51.0h7.4v2.5h-7.4zM78.0,48.5h2.5v2.5h-2.5zM41.6,46.1h2.5v2.5h-2.5zM48.9,46.1h4.9v2.5h-4.9zM58.6,46.1h2.5v2.5h-2.5zM78.0,46.1h2.5v2.5h-2.5zM41.6,43.7h2.5v2.5h-2.5zM58.6,43.7h2.5v2.5h-2.5zM85.2,43.7h2.5v2.5h-2.5zM90.1,43.7h2.5v2.5h-2.5zM63.4,41.3h2.5v2.5h-2.5zM80.4,41.3h9.8v2.5h-9.8zM48.9,38.8h2.5v2.5h-2.5zM87.7,38.8h2.5v2.5h-2.5zM87.7,36.4h2.5v2.5h-2.5zM63.4,34.0h2.5v2.5h-2.5zM75.5,34.0h12.2v2.5h-12.2zM63.4,31.5h2.5v2.5h-2.5zM73.1,31.5h2.5v2.5h-2.5zM78.0,31.5h2.5v2.5h-2.5zM51.3,29.1h4.9v2.5h-4.9zM65.9,29.1h2.5v2.5h-2.5zM73.1,29.1h4.9v2.5h-4.9zM53.7,26.7h2.5v2.5h-2.5zM61.0,26.7h2.5v2.5h-2.5zM73.1,26.7h2.5v2.5h-2.5zM63.4,24.2h7.4v2.5h-7.4zM36.8,21.8h4.9v2.5h-4.9zM44.0,21.8h4.9v2.5h-4.9zM58.6,21.8h2.5v2.5h-2.5zM41.6,19.4h12.2v2.5h-12.2zM65.9,19.4h2.5v2.5h-2.5zM41.6,17.0h2.5v2.5h-2.5zM56.2,17.0h2.5v2.5h-2.5zM61.0,17.0h7.4v2.5h-7.4zM70.7,17.0h4.9v2.5h-4.9z"/>
<path fill="#001aff" d="M34.4,104.4h2.5v2.5h-2.5zM31.9,102.0h4.9v2.5h-4.9zM39.2,102.0h2.5v2.5h-2.5zM36.8,99.6h4.9v2.5h-4.9zM75.5,99.6h2.5v2.5h-2.5zM31.9,97.1h4.9v2.5h-4.9zM41.6,97.1h2.5v2.5h-2.5zM31.9,94.7h2.5v2.5h-2.5zM31.9,92.3h2.5v2.5h-2.5zM39.2,92.3h4.9v2.5h-4.9zM29.5,89.9h2.5v2.5h-2.5zM34.4,89.9h2.5v2.5h-2.5zM34.4,87.4h2.5v2.5h-2.5zM31.9,85.0h4.9v2.5h-4.9zM27.1,77.7h2.5v2.5h-2.5zM31.9,77.7h4.9v2.5h-4.9zM36.8,70.4h4.9v2.5h-4.9zM46.5,70.4h2.5v2.5h-2.5zM92.5,70.4h2.5v2.5h-2.5zM29.5,68.0h2.5v2.5h-2.5zM46.5,68.0h2.5v2.5h-2.5zM53.7,68.0h2.5v2.5h-2.5zM56.2,65.6h2.5v2.5h-2.5zM92.5,63.1h2.5v2.5h-2.5zM48.9,60.7h2.5v2.5h-2.5zM58.6,60.7h4.9v2.5h-4.9zM92.5,60.7h2.5v2.5h-2.5zM19.8,55.8h2.5v2.5h-2.5zM61.0,55.8h2.5v2.5h-2.5zM44.0,53.4h2.5v2.5h-2.5zM17.4,51.0h2.5v2.5h-2.5zM44.0,51.0h2.5v2.5h-2.5zM44.0,48.5h4.9v2.5h-4.9zM73.1,48.5h4.9v2.5h-4.9zM36.8,46.1h2.5v2.5h-2.5zM44.0,46.1h2.5v2.5h-2.5zM53.7,46.1h2.5v2.5h-2.5zM73.1,46.1h2.5v2.5h-2.5zM87.7,46.1h2.5v2.5h-2.5zM92.5,46.1h2.5v2.5h-2.5zM44.0,43.7h4.9v2.5h-4.9zM73.1,43.7h7.4v2.5h-7.4zM29.5,41.3h2.5v2.5h-2.5zM61.0,41.3h2.5v2.5h-2.5zM68.3,41.3h2.5v2.5h-2.5zM75.5,41.3h2.5v2.5h-2.5zM90.1,41.3h2.5v2.5h-2.5zM75.5,38.8h4.9v2.5h-4.9zM90.1,38.8h2.5v2.5h-2.5zM61.0,36.4h2.5v2.5h-2.5zM68.3,34.0h7.4v2.5h-7.4zM48.9,31.5h2.5v2.5h-2.5zM61.0,31.5h2.5v2.5h-2.5zM65.9,31.5h7.4v2.5h-7.4zM75.5,31.5h2.5v2.5h-2.5zM46.5,29.1h2.5v2.5h-2.5zM61.0,29.1h4.9v2.5h-4.9zM44.0,26.7h4.9v2.5h-4.9zM63.4,26.7h7.4v2.5h-7.4zM75.5,26.7h4.9v2.5h-4.9zM61.0,24.2h2.5v2.5h-2.5zM70.7,24.2h9.8v2.5h-9.8zM41.6,21.8h2.5v2.5h-2.5zM63.4,21.8h2.5v2.5h-2.5zM39.2,19.4h2.5v2.5h-2.5zM58.6,19.4h7.4v2.5h-7.4z"/>
<path fill="#0033ff" d="M31.9,104.4h2.5v2.5h-2.5zM36.8,102.0h2.5v2.5h-2.5zM34.4,99.6h2.5v2.5h-2.5zM41.6,99.6h2.5v2.5h-2.5zM36.8,97.1h2.5v2.5h-2.5zM29.5,94.7h2.5v2.5h-2.5zM34.4,94.7h2.5v2.5h-2.5zM29.5,92.3h2.5v2.5h-2.5zM36.8,68.0h7.4v2.5h-7.4zM48.9,65.6h7.4v2.5h-7.4zM92.5,65.6h2.5v2.5h-2.5zM48.9,63.1h4.9v2.5h-4.9zM56.2,63.1h2.5v2.5h-2.5zM44.0,60.7h2.5v2.5h-2.5zM51.3,60.7h2.5v2.5h-2.5zM65.9,60.7h4.9v2.5h-4.9zM44.0,58.3h2.5v2.5h-2.5zM61.0,58.3h2.5v2.5h-2.5zM63.4,55.8h2.5v2.5h-2.5zM94.9,53.4h2.5v2.5h-2.5zM48.9,48.5h2.5v2.5h-2.5zM31.9,46.1h4.9v2.5h-4.9zM39.2,46.1h2.5v2.5h-2.5zM46.5,46.1h2.5v2.5h-2.5zM56.2,46.1h2.5v2.5h-2.5zM75.5,46.1h2.5v2.5h-2.5zM31.9,43.7h9.8v2.5h-9.8zM48.9,43.7h2.5v2.5h-2.5zM56.2,43.7h2.5v2.5h-2.5zM92.5,43.7h2.5v2.5h-2.5zM70.7,41.3h4.9v2.5h-4.9zM78.0,41.3h2.5v2.5h-2.5zM61.0,38.8h7.4v2.5h-7.4zM73.1,38.8h2.5v2.5h-2.5zM63.4,36.4h4.9v2.5h-4.9zM73.1,36.4h7.4v2.5h-7.4zM51.3,31.5h4.9v2.5h-4.9zM44.0,29.1h2.5v2.5h-2.5zM70.7,29.1h2.5v2.5h-2.5zM78.0,29.1h2.5v2.5h-2.5zM24.7,26.7h2.5v2.5h-2.5zM44.0,24.2h4.9v2.5h-4.9zM61.0,21.8h2.5v2.5h-2.5zM68.3,21.8h4.9v2.5h-4.9zM36.8,19.4h2.5v2.5h-2.5zM70.7,19.4h2.5v2.5h-2.5z"/>
<path fill="#004dff" d="M24.7,68.0h4.9v2.5h-4.9zM31.9,68.0h4.9v2.5h-4.9zM53.7,63.1h2.5v2.5h-2.5zM46.5,60.7h2.5v2.5h-2.5zM53.7,60.7h2.5v2.5h-2.5zM46.5,58.3h2.5v2.5h-2.5zM63.4,58.3h9.8v2.5h-9.8zM44.0,55.8h2.5v2.5h-2.5zM68.3,55.8h4.9v2.5h-4.9zM48.9,53.4h2.5v2.5h-2.5zM53.7,53.4h2.5v2.5h-2.5zM48.9,51.0h4.9v2.5h-4.9zM94.9,51.0h2.5v2.5h-2.5zM53.7,48.5h2.5v2.5h-2.5zM29.5,38.8h2.5v2.5h-2.5zM29.5,36.4h2.5v2.5h-2.5zM48.9,34.0h4.9v2.5h-4.9zM27.1,29.1h4.9v2.5h-4.9zM68.3,29.1h2.5v2.5h-2.5zM29.5,26.7h2.5v2.5h-2.5zM70.7,26.7h2.5v2.5h-2.5zM73.1,21.8h2.5v2.5h-2.5zM68.3,19.4h2.5v2.5h-2.5z"/>
<path fill="#0066ff" d="M44.0,65.6h4.9v2.5h-4.9zM44.0,63.1h4.9v2.5h-4.9zM48.9,58.3h2.5v2.5h-2.5zM56.2,58.3h2.5v2.5h-2.5zM46.5,55.8h2.5v2.5h-2.5zM56.2,55.8h2.5v2.5h-2.5zM65.9,55.8h2.5v2.5h-2.5zM51.3,53.4h2.5v2.5h-2.5zM68.3,53.4h2.5v2.5h-2.5zM92.5,53.4h2.5v2.5h-2.5zM53.7,51.0h2.5v2.5h-2.5zM92.5,51.0h2.5v2.5h-2.5zM92.5,48.5h2.5v2.5h-2.5zM68.3,38.8h4.9v2.5h-4.9zM70.7,36.4h2.5v2.5h-2.5zM53.7,34.0h2.5v2.5h-2.5zM31.9,24.2h4.9v2.5h-4.9zM75.5,21.8h2.5v2.5h-2.5zM73.1,19.4h2.5v2.5h-2.5z"/>
<path fill="#0080ff" d="M41.6,65.6h2.5v2.5h-2.5zM36.8,63.1h2.5v2.5h-2.5zM58.6,58.3h2.5v2.5h-2.5zM48.9,55.8h2.5v2.5h-2.5zM94.9,55.8h2.5v2.5h-2.5zM36.8,53.4h7.4v2.5h-7.4zM70.7,53.4h2.5v2.5h-2.5zM36.8,51.0h4.9v2.5h-4.9zM68.3,51.0h4.9v2.5h-4.9zM51.3,48.5h2.5v2.5h-2.5zM68.3,48.5h4.9v2.5h-4.9zM31.9,41.3h4.9v2.5h-4.9zM68.3,36.4h2.5v2.5h-2.5zM39.2,26.7h2.5v2.5h-2.5z"/>
<path fill="#0099ff" d="M29.5,106.9h2.5v2.5h-2.5zM39.2,63.1h4.9v2.5h-4.9zM92.5,58.3h4.9v2.5h-4.9zM22.2,55.8h2.5v2.5h-2.5zM51.3,55.8h4.9v2.5h-4.9zM58.6,55.8h2.5v2.5h-2.5zM92.5,55.8h2.5v2.5h-2.5zM41.6,51.0h2.5v2.5h-2.5zM36.8,48.5h7.4v2.5h-7.4zM44.0,38.8h4.9v2.5h-4.9zM44.0,36.4h4.9v2.5h-4.9zM36.8,29.1h7.4v2.5h-7.4zM27.1,26.7h2.5v2.5h-2.5zM41.6,26.7h2.5v2.5h-2.5zM36.8,24.2h7.4v2.5h-7.4z"/>
<path fill="#00b3ff" d="M36.8,65.6h4.9v2.5h-4.9zM51.3,58.3h4.9v2.5h-4.9zM44.0,41.3h2.5v2.5h-2.5zM31.9,36.4h2.5v2.5h-2.5zM36.8,26.7h2.5v2.5h-2.5z"/>
<path fill="#00ccff" d="M27.1,106.9h2.5v2.5h-2.5zM31.9,53.4h4.9v2.5h-4.9zM56.2,53.4h4.9v2.5h-4.9zM31.9,51.0h2.5v2.5h-2.5zM56.2,51.0h2.5v2.5h-2.5zM61.0,51.0h4.9v2.5h-4.9zM31.9,48.5h2.5v2.5h-2.5zM56.2,48.5h2.5v2.5h-2.5zM61.0,48.5h4.9v2.5h-4.9zM46.5,41.3h2.5v2.5h-2.5zM31.9,38.8h4.9v2.5h-4.9zM41.6,38.8h2.5v2.5h-2.5zM34.4,36.4h4.9v2.5h-4.9zM29.5,34.0h2.5v2.5h-2.5zM27.1,31.5h4.9v2.5h-4.9zM31.9,29.1h4.9v2.5h-4.9zM34.4,26.7h2.5v2.5h-2.5z"/>
<path fill="#00e5ff" d="M24.7,106.9h2.5v2.5h-2.5zM27.1,104.4h4.9v2.5h-4.9zM39.2,60.7h4.9v2.5h-4.9zM36.8,58.3h2.5v2.5h-2.5zM61.0,53.4h4.9v2.5h-4.9zM34.4,51.0h2.5v2.5h-2.5zM65.9,51.0h2.5v2.5h-2.5zM34.4,48.5h2.5v2.5h-2.5zM58.6,48.5h2.5v2.5h-2.5zM65.9,48.5h2.5v2.5h-2.5zM36.8,38.8h4.9v2.5h-4.9zM39.2,36.4h4.9v2.5h-4.9zM31.9,26.7h2.5v2.5h-2.5z"/>
<path fill="#00ffff" d="M24.7,104.4h2.5v2.5h-2.5zM36.8,60.7h2.5v2.5h-2.5zM27.1,58.3h4.9v2.5h-4.9zM41.6,58.3h2.5v2.5h-2.5zM39.2,55.8h2.5v2.5h-2.5zM65.9,53.4h2.5v2.5h-2.5zM58.6,51.0h2.5v2.5h-2.5z"/>
<path fill="#1affe5" d="M46.5,97.1h2.5v2.5h-2.5zM24.7,58.3h2.5v2.5h-2.5zM39.2,58.3h2.5v2.5h-2.5zM24.7,55.8h7.4v2.5h-7.4zM36.8,55.8h2.5v2.5h-2.5zM41.6,55.8h2.5v2.5h-2.5zM24.7,53.4h2.5v2.5h-2.5zM68.3,46.1h4.9v2.5h-4.9zM68.3,43.7h2.5v2.5h-2.5z"/>
<path fill="#33ffcc" d="M44.0,97.1h2.5v2.5h-2.5zM24.7,51.0h4.9v2.5h-4.9zM24.7,48.5h7.4v2.5h-7.4zM63.4,46.1h4.9v2.5h-4.9zM65.9,43.7h2.5v2.5h-2.5zM70.7,43.7h2.5v2.5h-2.5zM36.8,41.3h7.4v2.5h-7.4z"/>
<path fill="#4dffb3" d="M27.1,53.4h4.9v2.5h-4.9zM29.5,51.0h2.5v2.5h-2.5zM61.0,43.7h4.9v2.5h-4.9z"/>
<path fill="#66ff99" d="M61.0,46.1h2.5v2.5h-2.5zM46.5,31.5h2.5v2.5h-2.5z"/>
<path fill="#80ff80" d="M44.0,31.5h2.5v2.5h-2.5z"/>
<path fill="#99ff66" d="M24.7,97.1h2.5v2.5h-2.5zM31.9,58.3h4.9v2.5h-4.9zM31.9,55.8h2.5v2.5h-2.5zM46.5,34.0h2.5v2.5h-2.5z"/>
<path fill="#b3ff4c" d="M24.7,102.0h2.5v2.5h-2.5zM24.7,99.6h4.9v2.5h-4.9zM27.1,97.1h2.5v2.5h-2.5zM34.4,55.8h2.5v2.5h-2.5zM44.0,34.0h2.5v2.5h-2.5z"/>
<path fill="#ccff33" d="M27.1,102.0h4.9v2.5h-4.9zM29.5,97.1h2.5v2.5h-2.5z"/>
<path fill="#e5ff1a" d="M29.5,99.6h2.5v2.5h-2.5z"/>
<path fill="#ffff00" d="M34.4,63.1h2.5v2.5h-2.5z"/>
<path fill="#ffe500" d="M29.5,65.6h7.4v2.5h-7.4zM29.5,63.1h4.9v2.5h-4.9z"/>
<path fill="#ffcc00" d="M27.1,63.1h2.5v2.5h-2.5z"/>
<path fill="#ffb300" d="M24.7,65.6h4.9v2.5h-4.9zM24.7,63.1h2.5v2.5h-2.5z"/>
<path fill="#ff9900" d="M36.8,34.0h4.9v2.5h-4.9z"/>
<path fill="#ff8000" d="M29.5,60.7h7.4v2.5h-7.4zM41.6,34.0h2.5v2.5h-2.5z"/>
<path fill="#ff6600" d="M24.7,60.7h4.9v2.5h-4.9zM22.2,53.4h2.5v2.5h-2.5zM22.2,51.0h2.5v2.5h-2.5zM22.2,48.5h2.5v2.5h-2.5z"/>
<path fill="#ff4c00" d="M19.8,53.4h2.5v2.5h-2.5zM19.8,51.0h2.5v2.5h-2.5zM19.8,48.5h2.5v2.5h-2.5zM39.2,31.5h4.9v2.5h-4.9z"/>
<path fill="#ff3300" d="M36.8,31.5h2.5v2.5h-2.5z"/>
<path fill="#990000" d="M31.9,34.0h4.9v2.5h-4.9zM34.4,31.5h2.5v2.5h-2.5z"/>
<path fill="#800000" d="M31.9,31.5h2.5v2.5h-2.5z"/></g>
<use href="#geo"/><g><rect x="0" y="0" width="110.00" height="121.50" fill="none" stroke="#7d7d7d" stroke-width="0.85"/><path d="M12.60,121.50v-1.2M12.60,0v1.2M36.83,121.50v-1.2M36.83,0v1.2M61.06,121.50v-1.2M61.06,0v1.2M85.29,121.50v-1.2M85.29,0v1.2M0,97.20h1.2M110.00,97.20h-1.2M0,72.90h1.2M110.00,72.90h-1.2M0,48.60h1.2M110.00,48.60h-1.2M0,24.30h1.2M110.00,24.30h-1.2" stroke="#8c8c8c" stroke-width="0.6" fill="none"/><g font-size="7.0" fill="#333" text-anchor="middle"><text x="12.60" y="131.50">126</text><text x="36.83" y="131.50">127</text><text x="61.06" y="131.50">128</text><text x="85.29" y="131.50">129</text><text x="110.12" y="131.50">130</text></g><g font-size="7.0" fill="#333" text-anchor="end"><text x="-2.6" y="124.50">34</text><text x="-2.6" y="100.20">35</text><text x="-2.6" y="75.90">36</text><text x="-2.6" y="51.60">37</text><text x="-2.6" y="27.30">38</text><text x="-2.6" y="3.00">39</text></g></g>
</g>
<rect x="336.70" y="179.60" width="10.80" height="121.50" fill="url(#jet)" stroke="#333" stroke-width="0.3"/>
<g font-size="7.0" fill="#333">
<text x="349.50" y="182.50">9000</text>
<text x="349.50" y="223.00">6000</text>
<text x="349.50" y="263.50">3000</text>
<text x="349.50" y="304.00">0</text>
</g>
<g transform="translate(398.50,179.60)">
<use href="#grid"/>
<g shape-rendering="crispEdges"><path fill="#000080" d="M58.6,38.8h2.5v2.5h-2.5zM58.6,36.4h7.4v2.5h-7.4zM58.6,34.0h7.4v2.5h-7.4zM58.6,31.5h7.4v2.5h-7.4z"/>
<path fill="#000099" d="M56.2,38.8h2.5v2.5h-2.5zM61.0,38.8h2.5v2.5h-2.5zM56.2,36.4h2.5v2.5h-2.5zM61.0,29.1h4.9v2.5h-4.9z"/>
<path fill="#0000b3" d="M36.8,60.7h2.5v2.5h-2.5zM56.2,41.3h2.5v2.5h-2.5zM65.9,36.4h2.5v2.5h-2.5zM56.2,34.0h2.5v2.5h-2.5zM65.9,34.0h2.5v2.5h-2.5zM65.9,31.5h2.5v2.5h-2.5zM58.6,29.1h2.5v2.5h-2.5z"/>
<path fill="#0000cc" d="M31.9,106.9h2.5v2.5h-2.5zM36.8,104.4h2.5v2.5h-2.5zM27.1,92.3h2.5v2.5h-2.5zM31.9,92.3h2.5v2.5h-2.5zM34.4,72.8h7.4v2.5h-7.4zM29.5,70.4h4.9v2.5h-4.9zM36.8,70.4h2.5v2.5h-2.5zM70.7,70.4h2.5v2.5h-2.5zM29.5,68.0h4.9v2.5h-4.9zM65.9,68.0h2.5v2.5h-2.5zM70.7,68.0h2.5v2.5h-2.5zM94.9,68.0h2.5v2.5h-2.5zM24.7,65.6h14.6v2.5h-14.6zM41.6,65.6h2.5v2.5h-2.5zM24.7,63.1h2.5v2.5h-2.5zM34.4,63.1h24.3v2.5h-24.3zM31.9,60.7h4.9v2.5h-4.9zM39.2,60.7h4.9v2.5h-4.9zM48.9,60.7h14.6v2.5h-14.6zM80.4,60.7h2.5v2.5h-2.5zM92.5,60.7h2.5v2.5h-2.5zM36.8,58.3h4.9v2.5h-4.9zM48.9,58.3h2.5v2.5h-2.5zM53.7,58.3h4.9v2.5h-4.9zM78.0,58.3h2.5v2.5h-2.5zM51.3,55.8h4.9v2.5h-4.9zM75.5,55.8h2.5v2.5h-2.5zM15.0,53.4h2.5v2.5h-2.5zM73.1,53.4h2.5v2.5h-2.5zM15.0,51.0h2.5v2.5h-2.5zM58.6,41.3h2.5v2.5h-2.5zM53.7,38.8h2.5v2.5h-2.5zM63.4,38.8h2.5v2.5h-2.5zM56.2,31.5h2.5v2.5h-2.5zM65.9,29.1h2.5v2.5h-2.5zM61.0,26.7h4.9v2.5h-4.9z"/>
<path fill="#0000e6" d="M24.7,106.9h7.4v2.5h-7.4zM29.5,104.4h7.4v2.5h-7.4zM31.9,102.0h2.5v2.5h-2.5zM56.2,102.0h2.5v2.5h-2.5zM53.7,99.6h7.4v2.5h-7.4zM17.4,97.1h2.5v2.5h-2.5zM29.5,97.1h2.5v2.5h-2.5zM24.7,94.7h17.1v2.5h-17.1zM19.8,92.3h2.5v2.5h-2.5zM24.7,92.3h2.5v2.5h-2.5zM29.5,92.3h2.5v2.5h-2.5zM34.4,92.3h4.9v2.5h-4.9zM19.8,89.9h17.1v2.5h-17.1zM22.2,87.4h9.8v2.5h-9.8zM36.8,87.4h2.5v2.5h-2.5zM22.2,85.0h7.4v2.5h-7.4zM24.7,82.6h2.5v2.5h-2.5zM31.9,82.6h7.4v2.5h-7.4zM34.4,80.1h4.9v2.5h-4.9zM34.4,77.7h9.8v2.5h-9.8zM34.4,75.3h12.2v2.5h-12.2zM31.9,72.8h2.5v2.5h-2.5zM41.6,72.8h4.9v2.5h-4.9zM56.2,72.8h2.5v2.5h-2.5zM61.0,72.8h14.6v2.5h-14.6zM27.1,70.4h2.5v2.5h-2.5zM34.4,70.4h2.5v2.5h-2.5zM39.2,70.4h9.8v2.5h-9.8zM56.2,70.4h14.6v2.5h-14.6zM73.1,70.4h7.4v2.5h-7.4zM92.5,70.4h4.9v2.5h-4.9zM24.7,68.0h4.9v2.5h-4.9zM34.4,68.0h4.9v2.5h-4.9zM41.6,68.0h7.4v2.5h-7.4zM51.3,68.0h14.6v2.5h-14.6zM68.3,68.0h2.5v2.5h-2.5zM73.1,68.0h7.4v2.5h-7.4zM87.7,68.0h7.4v2.5h-7.4zM39.2,65.6h2.5v2.5h-2.5zM44.0,65.6h51.0v2.5h-51.0zM27.1,63.1h7.4v2.5h-7.4zM58.6,63.1h36.4v2.5h-36.4zM24.7,60.7h7.4v2.5h-7.4zM44.0,60.7h4.9v2.5h-4.9zM63.4,60.7h4.9v2.5h-4.9zM70.7,60.7h9.8v2.5h-9.8zM82.8,60.7h9.8v2.5h-9.8zM34.4,58.3h2.5v2.5h-2.5zM41.6,58.3h2.5v2.5h-2.5zM46.5,58.3h2.5v2.5h-2.5zM51.3,58.3h2.5v2.5h-2.5zM58.6,58.3h19.5v2.5h-19.5zM80.4,58.3h17.1v2.5h-17.1zM41.6,55.8h2.5v2.5h-2.5zM46.5,55.8h4.9v2.5h-4.9zM56.2,55.8h2.5v2.5h-2.5zM68.3,55.8h7.4v2.5h-7.4zM78.0,55.8h4.9v2.5h-4.9zM85.2,55.8h12.2v2.5h-12.2zM48.9,53.4h9.8v2.5h-9.8zM70.7,53.4h2.5v2.5h-2.5zM75.5,53.4h7.4v2.5h-7.4zM87.7,53.4h9.8v2.5h-9.8zM17.4,51.0h2.5v2.5h-2.5zM48.9,51.0h2.5v2.5h-2.5zM53.7,51.0h2.5v2.5h-2.5zM70.7,51.0h7.4v2.5h-7.4zM94.9,51.0h2.5v2.5h-2.5zM19.8,48.5h2.5v2.5h-2.5zM53.7,46.1h2.5v2.5h-2.5zM53.7,41.3h2.5v2.5h-2.5zM53.7,36.4h2.5v2.5h-2.5zM56.2,29.1h2.5v2.5h-2.5zM65.9,26.7h2.5v2.5h-2.5z"/>
<path fill="#0000ff" d="M27.1,104.4h2.5v2.5h-2.5zM34.4,102.0h2.5v2.5h-2.5zM58.6,102.0h2.5v2.5h-2.5zM19.8,99.6h2.5v2.5h-2.5zM31.9,99.6h2.5v2.5h-2.5zM51.3,99.6h2.5v2.5h-2.5zM19.8,97.1h4.9v2.5h-4.9zM31.9,97.1h4.9v2.5h-4.9zM53.7,97.1h2.5v2.5h-2.5zM19.8,94.7h4.9v2.5h-4.9zM41.6,94.7h2.5v2.5h-2.5zM80.4,94.7h4.9v2.5h-4.9zM22.2,92.3h2.5v2.5h-2.5zM39.2,92.3h4.9v2.5h-4.9zM36.8,89.9h7.4v2.5h-7.4zM31.9,87.4h4.9v2.5h-4.9zM39.2,87.4h2.5v2.5h-2.5zM29.5,85.0h12.2v2.5h-12.2zM27.1,82.6h4.9v2.5h-4.9zM39.2,82.6h2.5v2.5h-2.5zM24.7,80.1h4.9v2.5h-4.9zM31.9,80.1h2.5v2.5h-2.5zM39.2,80.1h4.9v2.5h-4.9zM24.7,77.7h4.9v2.5h-4.9zM31.9,77.7h2.5v2.5h-2.5zM44.0,77.7h2.5v2.5h-2.5zM27.1,75.3h7.4v2.5h-7.4zM46.5,75.3h2.5v2.5h-2.5zM58.6,75.3h2.5v2.5h-2.5zM63.4,75.3h2.5v2.5h-2.5zM70.7,75.3h7.4v2.5h-7.4zM27.1,72.8h4.9v2.5h-4.9zM46.5,72.8h4.9v2.5h-4.9zM53.7,72.8h2.5v2.5h-2.5zM58.6,72.8h2.5v2.5h-2.5zM75.5,72.8h4.9v2.5h-4.9zM94.9,72.8h4.9v2.5h-4.9zM48.9,70.4h7.4v2.5h-7.4zM87.7,70.4h4.9v2.5h-4.9zM39.2,68.0h2.5v2.5h-2.5zM48.9,68.0h2.5v2.5h-2.5zM80.4,68.0h7.4v2.5h-7.4zM68.3,60.7h2.5v2.5h-2.5zM24.7,58.3h9.8v2.5h-9.8zM44.0,58.3h2.5v2.5h-2.5zM17.4,55.8h2.5v2.5h-2.5zM34.4,55.8h7.4v2.5h-7.4zM44.0,55.8h2.5v2.5h-2.5zM58.6,55.8h9.8v2.5h-9.8zM82.8,55.8h2.5v2.5h-2.5zM17.4,53.4h2.5v2.5h-2.5zM39.2,53.4h2.5v2.5h-2.5zM44.0,53.4h4.9v2.5h-4.9zM68.3,53.4h2.5v2.5h-2.5zM82.8,53.4h4.9v2.5h-4.9zM19.8,51.0h2.5v2.5h-2.5zM44.0,51.0h4.9v2.5h-4.9zM51.3,51.0h2.5v2.5h-2.5zM56.2,51.0h2.5v2.5h-2.5zM78.0,51.0h2.5v2.5h-2.5zM82.8,51.0h2.5v2.5h-2.5zM92.5,51.0h2.5v2.5h-2.5zM46.5,48.5h2.5v2.5h-2.5zM51.3,48.5h4.9v2.5h-4.9zM51.3,46.1h2.5v2.5h-2.5zM51.3,43.7h7.4v2.5h-7.4zM65.9,38.8h2.5v2.5h-2.5zM29.5,34.0h2.5v2.5h-2.5zM53.7,34.0h2.5v2.5h-2.5zM27.1,31.5h4.9v2.5h-4.9zM53.7,31.5h2.5v2.5h-2.5zM68.3,31.5h2.5v2.5h-2.5zM27.1,29.1h2.5v2.5h-2.5zM53.7,29.1h2.5v2.5h-2.5zM68.3,29.1h2.5v2.5h-2.5zM58.6,26.7h2.5v2.5h-2.5zM63.4,24.2h2.5v2.5h-2.5zM61.0,17.0h4.9v2.5h-4.9zM65.9,12.1h2.5v2.5h-2.5z"/>
<path fill="#001aff" d="M22.2,106.9h2.5v2.5h-2.5zM34.4,99.6h2.5v2.5h-2.5zM24.7,97.1h2.5v2.5h-2.5zM36.8,97.1h2.5v2.5h-2.5zM56.2,97.1h2.5v2.5h-2.5zM80.4,92.3h2.5v2.5h-2.5zM44.0,89.9h2.5v2.5h-2.5zM41.6,85.0h2.5v2.5h-2.5zM41.6,82.6h2.5v2.5h-2.5zM29.5,80.1h2.5v2.5h-2.5zM44.0,80.1h2.5v2.5h-2.5zM29.5,77.7h2.5v2.5h-2.5zM46.5,77.7h2.5v2.5h-2.5zM70.7,77.7h4.9v2.5h-4.9zM48.9,75.3h9.8v2.5h-9.8zM61.0,75.3h2.5v2.5h-2.5zM65.9,75.3h4.9v2.5h-4.9zM51.3,72.8h2.5v2.5h-2.5zM80.4,72.8h2.5v2.5h-2.5zM92.5,72.8h2.5v2.5h-2.5zM80.4,70.4h7.4v2.5h-7.4zM19.8,55.8h4.9v2.5h-4.9zM31.9,55.8h2.5v2.5h-2.5zM19.8,53.4h2.5v2.5h-2.5zM34.4,53.4h4.9v2.5h-4.9zM41.6,53.4h2.5v2.5h-2.5zM58.6,53.4h2.5v2.5h-2.5zM65.9,53.4h2.5v2.5h-2.5zM41.6,51.0h2.5v2.5h-2.5zM80.4,51.0h2.5v2.5h-2.5zM85.2,51.0h7.4v2.5h-7.4zM22.2,48.5h2.5v2.5h-2.5zM41.6,48.5h4.9v2.5h-4.9zM48.9,48.5h2.5v2.5h-2.5zM56.2,48.5h2.5v2.5h-2.5zM73.1,48.5h4.9v2.5h-4.9zM80.4,48.5h4.9v2.5h-4.9zM48.9,46.1h2.5v2.5h-2.5zM29.5,41.3h2.5v2.5h-2.5zM51.3,41.3h2.5v2.5h-2.5zM29.5,38.8h2.5v2.5h-2.5zM51.3,38.8h2.5v2.5h-2.5zM29.5,36.4h2.5v2.5h-2.5zM68.3,34.0h2.5v2.5h-2.5zM24.7,26.7h2.5v2.5h-2.5zM53.7,26.7h4.9v2.5h-4.9zM61.0,24.2h2.5v2.5h-2.5zM61.0,21.8h4.9v2.5h-4.9zM61.0,19.4h4.9v2.5h-4.9zM73.1,17.0h2.5v2.5h-2.5zM70.7,12.1h2.5v2.5h-2.5z"/>
<path fill="#0033ff" d="M24.7,104.4h2.5v2.5h-2.5zM36.8,102.0h2.5v2.5h-2.5zM75.5,102.0h2.5v2.5h-2.5zM27.1,97.1h2.5v2.5h-2.5zM51.3,97.1h2.5v2.5h-2.5zM44.0,92.3h2.5v2.5h-2.5zM78.0,92.3h2.5v2.5h-2.5zM41.6,87.4h2.5v2.5h-2.5zM44.0,85.0h2.5v2.5h-2.5zM58.6,77.7h2.5v2.5h-2.5zM75.5,77.7h2.5v2.5h-2.5zM78.0,75.3h2.5v2.5h-2.5zM82.8,72.8h2.5v2.5h-2.5zM87.7,72.8h4.9v2.5h-4.9zM24.7,55.8h7.4v2.5h-7.4zM61.0,53.4h4.9v2.5h-4.9zM22.2,51.0h2.5v2.5h-2.5zM34.4,51.0h7.4v2.5h-7.4zM58.6,51.0h2.5v2.5h-2.5zM68.3,51.0h2.5v2.5h-2.5zM34.4,48.5h7.4v2.5h-7.4zM70.7,48.5h2.5v2.5h-2.5zM78.0,48.5h2.5v2.5h-2.5zM85.2,48.5h4.9v2.5h-4.9zM92.5,48.5h2.5v2.5h-2.5zM44.0,46.1h4.9v2.5h-4.9zM56.2,46.1h2.5v2.5h-2.5zM73.1,46.1h4.9v2.5h-4.9zM31.9,43.7h2.5v2.5h-2.5zM31.9,41.3h2.5v2.5h-2.5zM61.0,41.3h2.5v2.5h-2.5zM51.3,36.4h2.5v2.5h-2.5zM68.3,36.4h2.5v2.5h-2.5zM29.5,29.1h2.5v2.5h-2.5zM51.3,29.1h2.5v2.5h-2.5zM27.1,26.7h4.9v2.5h-4.9zM68.3,26.7h2.5v2.5h-2.5zM58.6,24.2h2.5v2.5h-2.5zM65.9,24.2h2.5v2.5h-2.5zM58.6,19.4h2.5v2.5h-2.5zM58.6,17.0h2.5v2.5h-2.5z"/>
<path fill="#004dff" d="M22.2,99.6h2.5v2.5h-2.5zM39.2,97.1h4.9v2.5h-4.9zM75.5,94.7h2.5v2.5h-2.5zM75.5,92.3h2.5v2.5h-2.5zM82.8,92.3h2.5v2.5h-2.5zM44.0,87.4h2.5v2.5h-2.5zM44.0,82.6h4.9v2.5h-4.9zM46.5,80.1h7.4v2.5h-7.4zM70.7,80.1h7.4v2.5h-7.4zM48.9,77.7h9.8v2.5h-9.8zM61.0,77.7h2.5v2.5h-2.5zM65.9,77.7h4.9v2.5h-4.9zM78.0,77.7h2.5v2.5h-2.5zM80.4,75.3h2.5v2.5h-2.5zM94.9,75.3h2.5v2.5h-2.5zM85.2,72.8h2.5v2.5h-2.5zM22.2,53.4h2.5v2.5h-2.5zM31.9,53.4h2.5v2.5h-2.5zM31.9,51.0h2.5v2.5h-2.5zM24.7,48.5h2.5v2.5h-2.5zM31.9,48.5h2.5v2.5h-2.5zM31.9,46.1h7.4v2.5h-7.4zM41.6,46.1h2.5v2.5h-2.5zM70.7,46.1h2.5v2.5h-2.5zM78.0,46.1h7.4v2.5h-7.4zM34.4,43.7h2.5v2.5h-2.5zM46.5,43.7h4.9v2.5h-4.9zM48.9,41.3h2.5v2.5h-2.5zM31.9,38.8h2.5v2.5h-2.5zM48.9,38.8h2.5v2.5h-2.5zM68.3,38.8h2.5v2.5h-2.5zM31.9,36.4h2.5v2.5h-2.5zM31.9,34.0h2.5v2.5h-2.5zM51.3,34.0h2.5v2.5h-2.5zM31.9,31.5h2.5v2.5h-2.5zM51.3,31.5h2.5v2.5h-2.5zM31.9,29.1h2.5v2.5h-2.5zM70.7,29.1h2.5v2.5h-2.5zM51.3,26.7h2.5v2.5h-2.5zM70.7,26.7h2.5v2.5h-2.5zM56.2,24.2h2.5v2.5h-2.5zM58.6,21.8h2.5v2.5h-2.5zM56.2,17.0h2.5v2.5h-2.5z"/>
<path fill="#0066ff" d="M29.5,102.0h2.5v2.5h-2.5zM51.3,94.7h4.9v2.5h-4.9zM70.7,94.7h4.9v2.5h-4.9zM73.1,92.3h2.5v2.5h-2.5zM46.5,89.9h2.5v2.5h-2.5zM78.0,89.9h4.9v2.5h-4.9zM46.5,87.4h2.5v2.5h-2.5zM46.5,85.0h2.5v2.5h-2.5zM48.9,82.6h2.5v2.5h-2.5zM73.1,82.6h4.9v2.5h-4.9zM53.7,80.1h4.9v2.5h-4.9zM78.0,80.1h2.5v2.5h-2.5zM63.4,77.7h2.5v2.5h-2.5zM80.4,77.7h2.5v2.5h-2.5zM24.7,53.4h7.4v2.5h-7.4zM24.7,51.0h7.4v2.5h-7.4zM27.1,48.5h4.9v2.5h-4.9zM90.1,48.5h2.5v2.5h-2.5zM39.2,46.1h2.5v2.5h-2.5zM85.2,46.1h2.5v2.5h-2.5zM58.6,43.7h2.5v2.5h-2.5zM70.7,43.7h7.4v2.5h-7.4zM80.4,43.7h4.9v2.5h-4.9zM70.7,41.3h2.5v2.5h-2.5zM70.7,38.8h2.5v2.5h-2.5zM70.7,36.4h2.5v2.5h-2.5zM70.7,34.0h2.5v2.5h-2.5zM70.7,31.5h2.5v2.5h-2.5zM48.9,29.1h2.5v2.5h-2.5zM31.9,26.7h2.5v2.5h-2.5zM29.5,24.2h2.5v2.5h-2.5zM53.7,24.2h2.5v2.5h-2.5zM73.1,19.4h2.5v2.5h-2.5zM44.0,17.0h2.5v2.5h-2.5zM53.7,17.0h2.5v2.5h-2.5zM68.3,12.1h2.5v2.5h-2.5z"/>
<path fill="#0080ff" d="M39.2,102.0h2.5v2.5h-2.5zM29.5,99.6h2.5v2.5h-2.5zM85.2,92.3h2.5v2.5h-2.5zM75.5,89.9h2.5v2.5h-2.5zM75.5,87.4h4.9v2.5h-4.9zM75.5,85.0h4.9v2.5h-4.9zM51.3,82.6h4.9v2.5h-4.9zM70.7,82.6h2.5v2.5h-2.5zM78.0,82.6h2.5v2.5h-2.5zM58.6,80.1h2.5v2.5h-2.5zM68.3,80.1h2.5v2.5h-2.5zM82.8,75.3h4.9v2.5h-4.9zM61.0,51.0h2.5v2.5h-2.5zM68.3,48.5h2.5v2.5h-2.5zM92.5,46.1h2.5v2.5h-2.5zM44.0,43.7h2.5v2.5h-2.5zM78.0,43.7h2.5v2.5h-2.5zM85.2,43.7h2.5v2.5h-2.5zM34.4,41.3h2.5v2.5h-2.5zM46.5,41.3h2.5v2.5h-2.5zM63.4,41.3h7.4v2.5h-7.4zM73.1,41.3h2.5v2.5h-2.5zM34.4,38.8h2.5v2.5h-2.5zM34.4,36.4h2.5v2.5h-2.5zM48.9,36.4h2.5v2.5h-2.5zM73.1,29.1h2.5v2.5h-2.5zM48.9,26.7h2.5v2.5h-2.5zM31.9,24.2h2.5v2.5h-2.5zM51.3,24.2h2.5v2.5h-2.5zM31.9,21.8h2.5v2.5h-2.5zM56.2,21.8h2.5v2.5h-2.5zM75.5,21.8h2.5v2.5h-2.5zM56.2,19.4h2.5v2.5h-2.5zM39.2,17.0h4.9v2.5h-4.9zM46.5,17.0h7.4v2.5h-7.4z"/>
<path fill="#0099ff" d="M44.0,97.1h2.5v2.5h-2.5zM48.9,97.1h2.5v2.5h-2.5zM56.2,94.7h2.5v2.5h-2.5zM80.4,87.4h2.5v2.5h-2.5zM48.9,85.0h2.5v2.5h-2.5zM73.1,85.0h2.5v2.5h-2.5zM56.2,82.6h2.5v2.5h-2.5zM61.0,80.1h7.4v2.5h-7.4zM82.8,77.7h2.5v2.5h-2.5zM87.7,75.3h2.5v2.5h-2.5zM65.9,51.0h2.5v2.5h-2.5zM58.6,48.5h2.5v2.5h-2.5zM87.7,46.1h2.5v2.5h-2.5zM36.8,43.7h2.5v2.5h-2.5zM75.5,41.3h12.2v2.5h-12.2zM73.1,38.8h2.5v2.5h-2.5zM34.4,34.0h2.5v2.5h-2.5zM48.9,34.0h2.5v2.5h-2.5zM73.1,34.0h2.5v2.5h-2.5zM34.4,31.5h2.5v2.5h-2.5zM48.9,31.5h2.5v2.5h-2.5zM73.1,31.5h2.5v2.5h-2.5zM34.4,29.1h2.5v2.5h-2.5zM46.5,29.1h2.5v2.5h-2.5zM34.4,26.7h2.5v2.5h-2.5zM46.5,26.7h2.5v2.5h-2.5zM34.4,24.2h2.5v2.5h-2.5zM48.9,24.2h2.5v2.5h-2.5zM34.4,21.8h2.5v2.5h-2.5zM51.3,21.8h4.9v2.5h-4.9zM65.9,21.8h2.5v2.5h-2.5zM34.4,19.4h2.5v2.5h-2.5zM48.9,19.4h2.5v2.5h-2.5zM53.7,19.4h2.5v2.5h-2.5zM36.8,17.0h2.5v2.5h-2.5z"/>
<path fill="#00b3ff" d="M58.6,94.7h7.4v2.5h-7.4zM46.5,92.3h4.9v2.5h-4.9zM70.7,92.3h2.5v2.5h-2.5zM87.7,92.3h2.5v2.5h-2.5zM48.9,89.9h2.5v2.5h-2.5zM73.1,89.9h2.5v2.5h-2.5zM48.9,87.4h2.5v2.5h-2.5zM73.1,87.4h2.5v2.5h-2.5zM51.3,85.0h2.5v2.5h-2.5zM58.6,82.6h2.5v2.5h-2.5zM65.9,82.6h4.9v2.5h-4.9zM80.4,80.1h2.5v2.5h-2.5zM63.4,51.0h2.5v2.5h-2.5zM58.6,46.1h2.5v2.5h-2.5zM68.3,43.7h2.5v2.5h-2.5zM46.5,38.8h2.5v2.5h-2.5zM75.5,38.8h2.5v2.5h-2.5zM82.8,38.8h2.5v2.5h-2.5zM46.5,36.4h2.5v2.5h-2.5zM73.1,36.4h2.5v2.5h-2.5zM46.5,34.0h2.5v2.5h-2.5zM36.8,31.5h2.5v2.5h-2.5zM46.5,31.5h2.5v2.5h-2.5zM36.8,29.1h2.5v2.5h-2.5zM44.0,29.1h2.5v2.5h-2.5zM36.8,26.7h2.5v2.5h-2.5zM41.6,26.7h4.9v2.5h-4.9zM73.1,26.7h2.5v2.5h-2.5zM44.0,24.2h2.5v2.5h-2.5zM68.3,24.2h4.9v2.5h-4.9zM46.5,21.8h4.9v2.5h-4.9zM36.8,19.4h2.5v2.5h-2.5zM41.6,19.4h7.4v2.5h-7.4zM51.3,19.4h2.5v2.5h-2.5zM65.9,14.5h2.5v2.5h-2.5zM70.7,14.5h2.5v2.5h-2.5z"/>
<path fill="#00ccff" d="M19.8,102.0h2.5v2.5h-2.5zM51.3,92.3h2.5v2.5h-2.5zM82.8,89.9h2.5v2.5h-2.5zM53.7,85.0h2.5v2.5h-2.5zM70.7,85.0h2.5v2.5h-2.5zM80.4,85.0h2.5v2.5h-2.5zM61.0,82.6h2.5v2.5h-2.5zM80.4,82.6h2.5v2.5h-2.5zM85.2,77.7h2.5v2.5h-2.5zM92.5,75.3h2.5v2.5h-2.5zM68.3,46.1h2.5v2.5h-2.5zM92.5,43.7h2.5v2.5h-2.5zM80.4,38.8h2.5v2.5h-2.5zM85.2,38.8h2.5v2.5h-2.5zM36.8,36.4h2.5v2.5h-2.5zM75.5,36.4h2.5v2.5h-2.5zM36.8,34.0h2.5v2.5h-2.5zM75.5,34.0h2.5v2.5h-2.5zM39.2,31.5h7.4v2.5h-7.4zM75.5,31.5h2.5v2.5h-2.5zM85.2,31.5h2.5v2.5h-2.5zM39.2,29.1h4.9v2.5h-4.9zM39.2,26.7h2.5v2.5h-2.5zM36.8,24.2h7.4v2.5h-7.4zM46.5,24.2h2.5v2.5h-2.5zM78.0,24.2h2.5v2.5h-2.5zM36.8,21.8h2.5v2.5h-2.5zM41.6,21.8h4.9v2.5h-4.9zM39.2,19.4h2.5v2.5h-2.5z"/>
<path fill="#00e5ff" d="M44.0,99.6h2.5v2.5h-2.5zM70.7,89.9h2.5v2.5h-2.5zM70.7,87.4h2.5v2.5h-2.5zM56.2,85.0h2.5v2.5h-2.5zM68.3,85.0h2.5v2.5h-2.5zM63.4,82.6h2.5v2.5h-2.5zM82.8,80.1h2.5v2.5h-2.5zM94.9,77.7h2.5v2.5h-2.5zM90.1,75.3h2.5v2.5h-2.5zM41.6,43.7h2.5v2.5h-2.5zM61.0,43.7h2.5v2.5h-2.5zM44.0,41.3h2.5v2.5h-2.5zM36.8,38.8h2.5v2.5h-2.5zM44.0,38.8h2.5v2.5h-2.5zM78.0,38.8h2.5v2.5h-2.5zM44.0,36.4h2.5v2.5h-2.5zM78.0,36.4h7.4v2.5h-7.4zM39.2,34.0h7.4v2.5h-7.4zM78.0,34.0h2.5v2.5h-2.5zM82.8,29.1h2.5v2.5h-2.5zM80.4,26.7h2.5v2.5h-2.5zM39.2,21.8h2.5v2.5h-2.5z"/>
<path fill="#00ffff" d="M36.8,99.6h2.5v2.5h-2.5zM44.0,94.7h2.5v2.5h-2.5zM51.3,87.4h2.5v2.5h-2.5zM90.1,46.1h2.5v2.5h-2.5zM87.7,43.7h2.5v2.5h-2.5zM39.2,36.4h4.9v2.5h-4.9z"/>
<path fill="#1affe5" d="M22.2,102.0h2.5v2.5h-2.5zM53.7,92.3h2.5v2.5h-2.5zM68.3,92.3h2.5v2.5h-2.5zM51.3,89.9h2.5v2.5h-2.5zM58.6,85.0h2.5v2.5h-2.5zM63.4,85.0h4.9v2.5h-4.9zM82.8,82.6h2.5v2.5h-2.5zM85.2,80.1h2.5v2.5h-2.5zM61.0,48.5h2.5v2.5h-2.5zM65.9,48.5h2.5v2.5h-2.5zM65.9,43.7h2.5v2.5h-2.5zM36.8,41.3h2.5v2.5h-2.5zM87.7,41.3h2.5v2.5h-2.5zM87.7,36.4h2.5v2.5h-2.5zM80.4,34.0h2.5v2.5h-2.5zM78.0,31.5h2.5v2.5h-2.5zM75.5,29.1h2.5v2.5h-2.5zM65.9,19.4h2.5v2.5h-2.5z"/>
<path fill="#33ffcc" d="M73.1,99.6h2.5v2.5h-2.5zM53.7,87.4h2.5v2.5h-2.5zM68.3,87.4h2.5v2.5h-2.5zM61.0,85.0h2.5v2.5h-2.5zM61.0,46.1h2.5v2.5h-2.5zM39.2,43.7h2.5v2.5h-2.5zM63.4,43.7h2.5v2.5h-2.5zM87.7,38.8h2.5v2.5h-2.5zM85.2,36.4h2.5v2.5h-2.5z"/>
<path fill="#4dffb3" d="M19.8,104.4h2.5v2.5h-2.5zM73.1,97.1h2.5v2.5h-2.5zM63.4,48.5h2.5v2.5h-2.5zM65.9,17.0h2.5v2.5h-2.5z"/>
<path fill="#66ff99" d="M22.2,104.4h2.5v2.5h-2.5zM46.5,97.1h2.5v2.5h-2.5zM48.9,94.7h2.5v2.5h-2.5zM68.3,89.9h2.5v2.5h-2.5zM65.9,46.1h2.5v2.5h-2.5zM90.1,38.8h2.5v2.5h-2.5zM85.2,34.0h2.5v2.5h-2.5z"/>
<path fill="#80ff80" d="M24.7,102.0h2.5v2.5h-2.5zM24.7,99.6h2.5v2.5h-2.5zM75.5,99.6h2.5v2.5h-2.5zM75.5,97.1h2.5v2.5h-2.5zM65.9,92.3h2.5v2.5h-2.5zM53.7,89.9h2.5v2.5h-2.5zM56.2,87.4h2.5v2.5h-2.5zM65.9,87.4h2.5v2.5h-2.5zM82.8,87.4h2.5v2.5h-2.5zM82.8,85.0h2.5v2.5h-2.5zM87.7,77.7h2.5v2.5h-2.5zM90.1,43.7h2.5v2.5h-2.5zM41.6,38.8h2.5v2.5h-2.5z"/>
<path fill="#99ff66" d="M41.6,99.6h2.5v2.5h-2.5zM63.4,46.1h2.5v2.5h-2.5zM39.2,38.8h2.5v2.5h-2.5zM70.7,17.0h2.5v2.5h-2.5z"/>
<path fill="#b3ff4c" d="M85.2,89.9h2.5v2.5h-2.5zM58.6,87.4h2.5v2.5h-2.5zM90.1,41.3h2.5v2.5h-2.5zM82.8,34.0h2.5v2.5h-2.5zM73.1,21.8h2.5v2.5h-2.5z"/>
<path fill="#ccff33" d="M39.2,99.6h2.5v2.5h-2.5zM56.2,92.3h2.5v2.5h-2.5zM65.9,89.9h2.5v2.5h-2.5zM61.0,87.4h4.9v2.5h-4.9zM85.2,82.6h2.5v2.5h-2.5zM68.3,14.5h2.5v2.5h-2.5z"/>
<path fill="#e5ff1a" d="M27.1,102.0h2.5v2.5h-2.5z"/>
<path fill="#ffff00" d="M27.1,99.6h2.5v2.5h-2.5zM82.8,31.5h2.5v2.5h-2.5zM73.1,24.2h2.5v2.5h-2.5z"/>
<path fill="#ffe500" d="M63.4,92.3h2.5v2.5h-2.5zM87.7,89.9h2.5v2.5h-2.5zM90.1,87.4h2.5v2.5h-2.5zM87.7,80.1h2.5v2.5h-2.5zM68.3,21.8h2.5v2.5h-2.5z"/>
<path fill="#ffcc00" d="M56.2,89.9h2.5v2.5h-2.5zM90.1,85.0h2.5v2.5h-2.5zM92.5,82.6h2.5v2.5h-2.5zM41.6,41.3h2.5v2.5h-2.5zM70.7,21.8h2.5v2.5h-2.5z"/>
<path fill="#ffb300" d="M80.4,31.5h2.5v2.5h-2.5zM75.5,24.2h2.5v2.5h-2.5z"/>
<path fill="#ff9900" d="M87.7,82.6h2.5v2.5h-2.5zM80.4,29.1h2.5v2.5h-2.5z"/>
<path fill="#ff8000" d="M63.4,89.9h2.5v2.5h-2.5z"/>
<path fill="#ff6600" d="M92.5,77.7h2.5v2.5h-2.5zM78.0,29.1h2.5v2.5h-2.5zM75.5,26.7h2.5v2.5h-2.5zM70.7,19.4h2.5v2.5h-2.5z"/>
<path fill="#ff4c00" d="M58.6,92.3h2.5v2.5h-2.5zM90.1,82.6h2.5v2.5h-2.5zM39.2,41.3h2.5v2.5h-2.5zM78.0,26.7h2.5v2.5h-2.5z"/>
<path fill="#ff3300" d="M90.1,77.7h2.5v2.5h-2.5z"/>
<path fill="#ff1a00" d="M61.0,92.3h2.5v2.5h-2.5zM85.2,85.0h2.5v2.5h-2.5z"/>
<path fill="#e50000" d="M85.2,87.4h2.5v2.5h-2.5z"/>
<path fill="#cc0000" d="M46.5,94.7h2.5v2.5h-2.5zM58.6,89.9h2.5v2.5h-2.5z"/>
<path fill="#990000" d="M61.0,89.9h2.5v2.5h-2.5zM87.7,85.0h2.5v2.5h-2.5z"/>
<path fill="#800000" d="M87.7,87.4h2.5v2.5h-2.5zM90.1,80.1h4.9v2.5h-4.9zM68.3,19.4h2.5v2.5h-2.5zM68.3,17.0h2.5v2.5h-2.5z"/></g>
<use href="#geo"/><g><rect x="0" y="0" width="110.00" height="121.50" fill="none" stroke="#7d7d7d" stroke-width="0.85"/><path d="M12.60,121.50v-1.2M12.60,0v1.2M36.83,121.50v-1.2M36.83,0v1.2M61.06,121.50v-1.2M61.06,0v1.2M85.29,121.50v-1.2M85.29,0v1.2M0,97.20h1.2M110.00,97.20h-1.2M0,72.90h1.2M110.00,72.90h-1.2M0,48.60h1.2M110.00,48.60h-1.2M0,24.30h1.2M110.00,24.30h-1.2" stroke="#8c8c8c" stroke-width="0.6" fill="none"/><g font-size="7.0" fill="#333" text-anchor="middle"><text x="12.60" y="131.50">126</text><text x="36.83" y="131.50">127</text><text x="61.06" y="131.50">128</text><text x="85.29" y="131.50">129</text><text x="110.12" y="131.50">130</text></g><g font-size="7.0" fill="#333" text-anchor="end"><text x="-2.6" y="124.50">34</text><text x="-2.6" y="100.20">35</text><text x="-2.6" y="75.90">36</text><text x="-2.6" y="51.60">37</text><text x="-2.6" y="27.30">38</text><text x="-2.6" y="3.00">39</text></g></g>
</g>
<rect x="515.70" y="179.60" width="10.80" height="121.50" fill="url(#jet)" stroke="#333" stroke-width="0.3"/>
<g font-size="7.0" fill="#333">
<text x="528.50" y="182.50">9000</text>
<text x="528.50" y="223.00">6000</text>
<text x="528.50" y="263.50">3000</text>
<text x="528.50" y="304.00">0</text>
</g>
<text transform="translate(16.3,240.35) rotate(-90)" text-anchor="middle" font-size="10.6" font-weight="bold" fill="#111">WET SEASON</text>
<g transform="translate(42.00,336.30)">
<use href="#grid"/>
<g shape-rendering="crispEdges"><path fill="#0000b3" d="M29.5,63.1h9.8v2.5h-9.8zM39.2,60.7h2.5v2.5h-2.5zM31.9,58.3h2.5v2.5h-2.5zM17.4,55.8h2.5v2.5h-2.5zM34.4,55.8h2.5v2.5h-2.5zM41.6,55.8h2.5v2.5h-2.5zM15.0,53.4h7.4v2.5h-7.4zM24.7,53.4h12.2v2.5h-12.2zM17.4,51.0h21.9v2.5h-21.9zM41.6,51.0h2.5v2.5h-2.5zM22.2,48.5h19.5v2.5h-19.5zM44.0,48.5h2.5v2.5h-2.5zM31.9,46.1h9.8v2.5h-9.8zM31.9,43.7h4.9v2.5h-4.9zM29.5,41.3h9.8v2.5h-9.8zM34.4,38.8h2.5v2.5h-2.5zM41.6,38.8h2.5v2.5h-2.5zM29.5,36.4h2.5v2.5h-2.5zM39.2,36.4h2.5v2.5h-2.5zM51.3,36.4h4.9v2.5h-4.9zM61.0,36.4h2.5v2.5h-2.5zM36.8,34.0h2.5v2.5h-2.5zM46.5,34.0h4.9v2.5h-4.9zM53.7,34.0h2.5v2.5h-2.5zM29.5,31.5h2.5v2.5h-2.5zM34.4,31.5h9.8v2.5h-9.8zM48.9,31.5h2.5v2.5h-2.5zM56.2,31.5h2.5v2.5h-2.5zM31.9,29.1h12.2v2.5h-12.2zM53.7,29.1h2.5v2.5h-2.5zM24.7,26.7h19.5v2.5h-19.5zM48.9,26.7h7.4v2.5h-7.4zM63.4,26.7h2.5v2.5h-2.5zM29.5,24.2h14.6v2.5h-14.6zM46.5,24.2h12.2v2.5h-12.2zM63.4,24.2h4.9v2.5h-4.9zM70.7,24.2h2.5v2.5h-2.5zM31.9,21.8h9.8v2.5h-9.8zM44.0,21.8h12.2v2.5h-12.2zM58.6,21.8h2.5v2.5h-2.5zM63.4,21.8h9.8v2.5h-9.8zM34.4,19.4h2.5v2.5h-2.5zM39.2,19.4h14.6v2.5h-14.6zM58.6,19.4h2.5v2.5h-2.5zM65.9,19.4h9.8v2.5h-9.8zM36.8,17.0h21.9v2.5h-21.9zM61.0,17.0h2.5v2.5h-2.5zM65.9,17.0h7.4v2.5h-7.4zM65.9,14.5h7.4v2.5h-7.4zM65.9,12.1h7.4v2.5h-7.4z"/>
<path fill="#0000cc" d="M22.2,106.9h12.2v2.5h-12.2zM19.8,104.4h14.6v2.5h-14.6zM19.8,102.0h9.8v2.5h-9.8zM75.5,102.0h2.5v2.5h-2.5zM19.8,99.6h9.8v2.5h-9.8zM36.8,99.6h4.9v2.5h-4.9zM17.4,97.1h7.4v2.5h-7.4zM34.4,97.1h2.5v2.5h-2.5zM39.2,97.1h2.5v2.5h-2.5zM19.8,94.7h2.5v2.5h-2.5zM19.8,92.3h4.9v2.5h-4.9zM19.8,89.9h9.8v2.5h-9.8zM22.2,87.4h4.9v2.5h-4.9zM22.2,85.0h4.9v2.5h-4.9zM24.7,82.6h2.5v2.5h-2.5zM46.5,82.6h4.9v2.5h-4.9zM24.7,80.1h4.9v2.5h-4.9zM46.5,80.1h7.4v2.5h-7.4zM24.7,77.7h4.9v2.5h-4.9zM39.2,77.7h2.5v2.5h-2.5zM44.0,77.7h7.4v2.5h-7.4zM27.1,75.3h24.3v2.5h-24.3zM27.1,72.8h26.8v2.5h-26.8zM27.1,70.4h26.8v2.5h-26.8zM24.7,68.0h34.0v2.5h-34.0zM24.7,65.6h36.4v2.5h-36.4zM24.7,63.1h4.9v2.5h-4.9zM39.2,63.1h21.9v2.5h-21.9zM24.7,60.7h14.6v2.5h-14.6zM41.6,60.7h17.1v2.5h-17.1zM24.7,58.3h7.4v2.5h-7.4zM34.4,58.3h24.3v2.5h-24.3zM19.8,55.8h14.6v2.5h-14.6zM36.8,55.8h4.9v2.5h-4.9zM44.0,55.8h12.2v2.5h-12.2zM58.6,55.8h2.5v2.5h-2.5zM22.2,53.4h2.5v2.5h-2.5zM36.8,53.4h12.2v2.5h-12.2zM51.3,53.4h4.9v2.5h-4.9zM15.0,51.0h2.5v2.5h-2.5zM39.2,51.0h2.5v2.5h-2.5zM44.0,51.0h7.4v2.5h-7.4zM56.2,51.0h9.8v2.5h-9.8zM19.8,48.5h2.5v2.5h-2.5zM41.6,48.5h2.5v2.5h-2.5zM46.5,48.5h4.9v2.5h-4.9zM53.7,48.5h12.2v2.5h-12.2zM68.3,48.5h2.5v2.5h-2.5zM41.6,46.1h29.2v2.5h-29.2zM73.1,46.1h7.4v2.5h-7.4zM85.2,46.1h2.5v2.5h-2.5zM92.5,46.1h2.5v2.5h-2.5zM36.8,43.7h31.6v2.5h-31.6zM70.7,43.7h9.8v2.5h-9.8zM90.1,43.7h4.9v2.5h-4.9zM39.2,41.3h43.7v2.5h-43.7zM85.2,41.3h7.4v2.5h-7.4zM29.5,38.8h4.9v2.5h-4.9zM36.8,38.8h4.9v2.5h-4.9zM44.0,38.8h48.6v2.5h-48.6zM31.9,36.4h7.4v2.5h-7.4zM41.6,36.4h9.8v2.5h-9.8zM56.2,36.4h4.9v2.5h-4.9zM63.4,36.4h26.8v2.5h-26.8zM29.5,34.0h7.4v2.5h-7.4zM39.2,34.0h7.4v2.5h-7.4zM51.3,34.0h2.5v2.5h-2.5zM56.2,34.0h31.6v2.5h-31.6zM27.1,31.5h2.5v2.5h-2.5zM31.9,31.5h2.5v2.5h-2.5zM44.0,31.5h4.9v2.5h-4.9zM51.3,31.5h4.9v2.5h-4.9zM58.6,31.5h29.2v2.5h-29.2zM27.1,29.1h4.9v2.5h-4.9zM44.0,29.1h9.8v2.5h-9.8zM56.2,29.1h29.2v2.5h-29.2zM44.0,26.7h4.9v2.5h-4.9zM56.2,26.7h7.4v2.5h-7.4zM65.9,26.7h17.1v2.5h-17.1zM44.0,24.2h2.5v2.5h-2.5zM58.6,24.2h4.9v2.5h-4.9zM68.3,24.2h2.5v2.5h-2.5zM73.1,24.2h7.4v2.5h-7.4zM41.6,21.8h2.5v2.5h-2.5zM56.2,21.8h2.5v2.5h-2.5zM61.0,21.8h2.5v2.5h-2.5zM73.1,21.8h4.9v2.5h-4.9zM36.8,19.4h2.5v2.5h-2.5zM53.7,19.4h4.9v2.5h-4.9zM61.0,19.4h4.9v2.5h-4.9zM58.6,17.0h2.5v2.5h-2.5zM63.4,17.0h2.5v2.5h-2.5zM73.1,17.0h2.5v2.5h-2.5z"/>
<path fill="#0000e6" d="M34.4,104.4h4.9v2.5h-4.9zM29.5,102.0h12.2v2.5h-12.2zM56.2,102.0h4.9v2.5h-4.9zM29.5,99.6h7.4v2.5h-7.4zM41.6,99.6h4.9v2.5h-4.9zM51.3,99.6h9.8v2.5h-9.8zM73.1,99.6h4.9v2.5h-4.9zM24.7,97.1h9.8v2.5h-9.8zM36.8,97.1h2.5v2.5h-2.5zM41.6,97.1h17.1v2.5h-17.1zM73.1,97.1h4.9v2.5h-4.9zM22.2,94.7h29.2v2.5h-29.2zM58.6,94.7h2.5v2.5h-2.5zM80.4,94.7h4.9v2.5h-4.9zM24.7,92.3h21.9v2.5h-21.9zM85.2,92.3h4.9v2.5h-4.9zM29.5,89.9h19.5v2.5h-19.5zM27.1,87.4h24.3v2.5h-24.3zM27.1,85.0h26.8v2.5h-26.8zM27.1,82.6h19.5v2.5h-19.5zM51.3,82.6h4.9v2.5h-4.9zM29.5,80.1h17.1v2.5h-17.1zM53.7,80.1h2.5v2.5h-2.5zM29.5,77.7h9.8v2.5h-9.8zM41.6,77.7h2.5v2.5h-2.5zM51.3,77.7h7.4v2.5h-7.4zM51.3,75.3h7.4v2.5h-7.4zM53.7,72.8h7.4v2.5h-7.4zM53.7,70.4h9.8v2.5h-9.8zM58.6,68.0h4.9v2.5h-4.9zM61.0,65.6h2.5v2.5h-2.5zM61.0,63.1h4.9v2.5h-4.9zM87.7,63.1h7.4v2.5h-7.4zM58.6,60.7h7.4v2.5h-7.4zM82.8,60.7h12.2v2.5h-12.2zM58.6,58.3h9.8v2.5h-9.8zM78.0,58.3h19.5v2.5h-19.5zM56.2,55.8h2.5v2.5h-2.5zM61.0,55.8h7.4v2.5h-7.4zM78.0,55.8h19.5v2.5h-19.5zM48.9,53.4h2.5v2.5h-2.5zM56.2,53.4h17.1v2.5h-17.1zM78.0,53.4h19.5v2.5h-19.5zM51.3,51.0h4.9v2.5h-4.9zM65.9,51.0h31.6v2.5h-31.6zM51.3,48.5h2.5v2.5h-2.5zM65.9,48.5h2.5v2.5h-2.5zM70.7,48.5h24.3v2.5h-24.3zM70.7,46.1h2.5v2.5h-2.5zM80.4,46.1h4.9v2.5h-4.9zM87.7,46.1h4.9v2.5h-4.9zM68.3,43.7h2.5v2.5h-2.5zM80.4,43.7h9.8v2.5h-9.8zM82.8,41.3h2.5v2.5h-2.5z"/>
<path fill="#0000ff" d="M51.3,94.7h7.4v2.5h-7.4zM61.0,94.7h4.9v2.5h-4.9zM75.5,94.7h2.5v2.5h-2.5zM46.5,92.3h14.6v2.5h-14.6zM80.4,92.3h4.9v2.5h-4.9zM48.9,89.9h9.8v2.5h-9.8zM85.2,89.9h4.9v2.5h-4.9zM51.3,87.4h4.9v2.5h-4.9zM90.1,87.4h2.5v2.5h-2.5zM53.7,85.0h4.9v2.5h-4.9zM56.2,82.6h2.5v2.5h-2.5zM56.2,80.1h4.9v2.5h-4.9zM58.6,77.7h2.5v2.5h-2.5zM58.6,75.3h2.5v2.5h-2.5zM61.0,72.8h2.5v2.5h-2.5zM97.4,72.8h2.5v2.5h-2.5zM63.4,70.4h2.5v2.5h-2.5zM92.5,70.4h4.9v2.5h-4.9zM63.4,68.0h7.4v2.5h-7.4zM90.1,68.0h7.4v2.5h-7.4zM63.4,65.6h7.4v2.5h-7.4zM75.5,65.6h19.5v2.5h-19.5zM65.9,63.1h21.9v2.5h-21.9zM65.9,60.7h17.1v2.5h-17.1zM68.3,58.3h9.8v2.5h-9.8zM68.3,55.8h9.8v2.5h-9.8zM73.1,53.4h4.9v2.5h-4.9z"/>
<path fill="#001aff" d="M70.7,94.7h4.9v2.5h-4.9zM61.0,92.3h2.5v2.5h-2.5zM78.0,92.3h2.5v2.5h-2.5zM82.8,89.9h2.5v2.5h-2.5zM56.2,87.4h2.5v2.5h-2.5zM85.2,87.4h4.9v2.5h-4.9zM90.1,85.0h2.5v2.5h-2.5zM58.6,82.6h2.5v2.5h-2.5zM92.5,82.6h2.5v2.5h-2.5zM61.0,77.7h2.5v2.5h-2.5zM61.0,75.3h4.9v2.5h-4.9zM63.4,72.8h4.9v2.5h-4.9zM94.9,72.8h2.5v2.5h-2.5zM65.9,70.4h9.8v2.5h-9.8zM87.7,70.4h4.9v2.5h-4.9zM70.7,68.0h19.5v2.5h-19.5zM70.7,65.6h4.9v2.5h-4.9z"/>
<path fill="#0033ff" d="M63.4,92.3h7.4v2.5h-7.4zM73.1,92.3h4.9v2.5h-4.9zM58.6,89.9h4.9v2.5h-4.9zM78.0,89.9h4.9v2.5h-4.9zM58.6,87.4h2.5v2.5h-2.5zM82.8,87.4h2.5v2.5h-2.5zM58.6,85.0h2.5v2.5h-2.5zM87.7,85.0h2.5v2.5h-2.5zM61.0,82.6h2.5v2.5h-2.5zM90.1,82.6h2.5v2.5h-2.5zM61.0,80.1h2.5v2.5h-2.5zM92.5,80.1h2.5v2.5h-2.5zM63.4,77.7h2.5v2.5h-2.5zM94.9,77.7h2.5v2.5h-2.5zM65.9,75.3h2.5v2.5h-2.5zM68.3,72.8h9.8v2.5h-9.8zM87.7,72.8h7.4v2.5h-7.4zM75.5,70.4h12.2v2.5h-12.2z"/>
<path fill="#004dff" d="M70.7,92.3h2.5v2.5h-2.5zM63.4,89.9h2.5v2.5h-2.5zM75.5,89.9h2.5v2.5h-2.5zM61.0,87.4h2.5v2.5h-2.5zM61.0,85.0h2.5v2.5h-2.5zM85.2,85.0h2.5v2.5h-2.5zM63.4,80.1h2.5v2.5h-2.5zM65.9,77.7h2.5v2.5h-2.5zM68.3,75.3h4.9v2.5h-4.9zM94.9,75.3h2.5v2.5h-2.5zM78.0,72.8h4.9v2.5h-4.9zM85.2,72.8h2.5v2.5h-2.5z"/>
<path fill="#0066ff" d="M65.9,89.9h9.8v2.5h-9.8zM63.4,87.4h2.5v2.5h-2.5zM80.4,87.4h2.5v2.5h-2.5zM63.4,85.0h2.5v2.5h-2.5zM63.4,82.6h2.5v2.5h-2.5zM87.7,82.6h2.5v2.5h-2.5zM65.9,80.1h2.5v2.5h-2.5zM68.3,77.7h4.9v2.5h-4.9zM92.5,77.7h2.5v2.5h-2.5zM73.1,75.3h7.4v2.5h-7.4zM90.1,75.3h4.9v2.5h-4.9zM82.8,72.8h2.5v2.5h-2.5z"/>
<path fill="#0080ff" d="M65.9,87.4h2.5v2.5h-2.5zM78.0,87.4h2.5v2.5h-2.5zM65.9,85.0h2.5v2.5h-2.5zM82.8,85.0h2.5v2.5h-2.5zM65.9,82.6h2.5v2.5h-2.5zM68.3,80.1h2.5v2.5h-2.5zM90.1,80.1h2.5v2.5h-2.5zM73.1,77.7h4.9v2.5h-4.9zM80.4,75.3h9.8v2.5h-9.8z"/>
<path fill="#0099ff" d="M68.3,87.4h9.8v2.5h-9.8zM68.3,85.0h2.5v2.5h-2.5zM68.3,82.6h2.5v2.5h-2.5zM70.7,80.1h2.5v2.5h-2.5zM78.0,77.7h2.5v2.5h-2.5z"/>
<path fill="#00b3ff" d="M70.7,85.0h2.5v2.5h-2.5zM70.7,82.6h2.5v2.5h-2.5zM85.2,82.6h2.5v2.5h-2.5zM73.1,80.1h4.9v2.5h-4.9zM80.4,77.7h2.5v2.5h-2.5zM90.1,77.7h2.5v2.5h-2.5z"/>
<path fill="#00ccff" d="M73.1,85.0h2.5v2.5h-2.5zM80.4,85.0h2.5v2.5h-2.5zM73.1,82.6h2.5v2.5h-2.5zM87.7,80.1h2.5v2.5h-2.5zM82.8,77.7h2.5v2.5h-2.5z"/>
<path fill="#00e5ff" d="M75.5,85.0h4.9v2.5h-4.9zM75.5,82.6h2.5v2.5h-2.5zM78.0,80.1h2.5v2.5h-2.5zM85.2,77.7h4.9v2.5h-4.9z"/>
<path fill="#1affe5" d="M82.8,82.6h2.5v2.5h-2.5zM80.4,80.1h2.5v2.5h-2.5z"/>
<path fill="#33ffcc" d="M78.0,82.6h4.9v2.5h-4.9zM82.8,80.1h4.9v2.5h-4.9z"/></g>
<use href="#geo"/><g><rect x="0" y="0" width="110.00" height="121.50" fill="none" stroke="#7d7d7d" stroke-width="0.85"/><path d="M12.60,121.50v-1.2M12.60,0v1.2M36.83,121.50v-1.2M36.83,0v1.2M61.06,121.50v-1.2M61.06,0v1.2M85.29,121.50v-1.2M85.29,0v1.2M0,97.20h1.2M110.00,97.20h-1.2M0,72.90h1.2M110.00,72.90h-1.2M0,48.60h1.2M110.00,48.60h-1.2M0,24.30h1.2M110.00,24.30h-1.2" stroke="#8c8c8c" stroke-width="0.6" fill="none"/><g font-size="7.0" fill="#333" text-anchor="middle"><text x="12.60" y="131.50">126</text><text x="36.83" y="131.50">127</text><text x="61.06" y="131.50">128</text><text x="85.29" y="131.50">129</text><text x="110.12" y="131.50">130</text></g><g font-size="7.0" fill="#333" text-anchor="end"><text x="-2.6" y="124.50">34</text><text x="-2.6" y="100.20">35</text><text x="-2.6" y="75.90">36</text><text x="-2.6" y="51.60">37</text><text x="-2.6" y="27.30">38</text><text x="-2.6" y="3.00">39</text></g></g>
</g>
<rect x="164.00" y="336.30" width="10.80" height="121.50" fill="url(#jet)" stroke="#333" stroke-width="0.3"/>
<g font-size="7.0" fill="#333">
<text x="176.80" y="339.20">4500</text>
<text x="176.80" y="379.70">3000</text>
<text x="176.80" y="420.20">1500</text>
<text x="176.80" y="460.70">0</text>
</g>
<g transform="translate(219.90,336.30)">
<use href="#grid"/>
<g shape-rendering="crispEdges"><path fill="#000099" d="M22.2,106.9h12.2v2.5h-12.2zM22.2,104.4h17.1v2.5h-17.1zM22.2,102.0h17.1v2.5h-17.1zM22.2,99.6h17.1v2.5h-17.1zM22.2,97.1h21.9v2.5h-21.9zM22.2,94.7h14.6v2.5h-14.6zM22.2,92.3h14.6v2.5h-14.6zM61.0,92.3h21.9v2.5h-21.9zM22.2,89.9h14.6v2.5h-14.6zM61.0,89.9h21.9v2.5h-21.9zM22.2,87.4h14.6v2.5h-14.6zM80.4,87.4h2.5v2.5h-2.5zM85.2,87.4h7.4v2.5h-7.4zM22.2,85.0h14.6v2.5h-14.6zM85.2,85.0h7.4v2.5h-7.4zM24.7,82.6h14.6v2.5h-14.6zM24.7,80.1h14.6v2.5h-14.6zM24.7,77.7h14.6v2.5h-14.6zM27.1,75.3h12.2v2.5h-12.2zM27.1,72.8h12.2v2.5h-12.2zM97.4,72.8h2.5v2.5h-2.5zM27.1,70.4h12.2v2.5h-12.2zM24.7,68.0h14.6v2.5h-14.6zM85.2,68.0h12.2v2.5h-12.2zM24.7,65.6h14.6v2.5h-14.6zM65.9,65.6h7.4v2.5h-7.4zM80.4,65.6h14.6v2.5h-14.6zM24.7,63.1h14.6v2.5h-14.6zM65.9,63.1h7.4v2.5h-7.4zM80.4,63.1h14.6v2.5h-14.6zM24.7,60.7h14.6v2.5h-14.6zM65.9,60.7h7.4v2.5h-7.4zM80.4,60.7h14.6v2.5h-14.6zM24.7,58.3h14.6v2.5h-14.6zM65.9,58.3h7.4v2.5h-7.4zM24.7,55.8h2.5v2.5h-2.5zM29.5,55.8h7.4v2.5h-7.4zM39.2,55.8h2.5v2.5h-2.5zM65.9,55.8h7.4v2.5h-7.4zM82.8,55.8h2.5v2.5h-2.5zM24.7,53.4h12.2v2.5h-12.2zM39.2,53.4h4.9v2.5h-4.9zM65.9,53.4h7.4v2.5h-7.4zM92.5,53.4h4.9v2.5h-4.9zM24.7,51.0h12.2v2.5h-12.2zM39.2,51.0h9.8v2.5h-9.8zM65.9,51.0h7.4v2.5h-7.4zM92.5,51.0h4.9v2.5h-4.9zM24.7,48.5h29.2v2.5h-29.2zM56.2,48.5h4.9v2.5h-4.9zM65.9,48.5h7.4v2.5h-7.4zM92.5,48.5h2.5v2.5h-2.5zM31.9,46.1h29.2v2.5h-29.2zM65.9,46.1h7.4v2.5h-7.4zM92.5,46.1h2.5v2.5h-2.5zM31.9,43.7h29.2v2.5h-29.2zM65.9,43.7h7.4v2.5h-7.4zM92.5,43.7h2.5v2.5h-2.5zM29.5,41.3h51.0v2.5h-51.0zM82.8,41.3h9.8v2.5h-9.8zM29.5,38.8h58.2v2.5h-58.2zM90.1,38.8h2.5v2.5h-2.5zM29.5,36.4h51.0v2.5h-51.0zM82.8,36.4h7.4v2.5h-7.4zM29.5,34.0h58.2v2.5h-58.2zM27.1,31.5h60.7v2.5h-60.7zM27.1,29.1h58.2v2.5h-58.2zM24.7,26.7h58.2v2.5h-58.2zM29.5,24.2h51.0v2.5h-51.0zM31.9,21.8h46.1v2.5h-46.1zM34.4,19.4h41.3v2.5h-41.3zM36.8,17.0h38.9v2.5h-38.9z"/>
<path fill="#0000b3" d="M80.4,58.3h12.2v2.5h-12.2zM80.4,55.8h2.5v2.5h-2.5zM85.2,55.8h7.4v2.5h-7.4zM80.4,53.4h12.2v2.5h-12.2zM80.4,51.0h12.2v2.5h-12.2zM80.4,48.5h12.2v2.5h-12.2zM80.4,46.1h12.2v2.5h-12.2zM80.4,43.7h12.2v2.5h-12.2zM80.4,41.3h2.5v2.5h-2.5zM87.7,38.8h2.5v2.5h-2.5zM80.4,36.4h2.5v2.5h-2.5z"/>
<path fill="#00ccff" d="M92.5,58.3h4.9v2.5h-4.9zM94.9,55.8h2.5v2.5h-2.5z"/>
<path fill="#00e5ff" d="M92.5,55.8h2.5v2.5h-2.5z"/>
<path fill="#1affe5" d="M92.5,75.3h2.5v2.5h-2.5zM92.5,72.8h2.5v2.5h-2.5z"/>
<path fill="#33ffcc" d="M94.9,75.3h2.5v2.5h-2.5zM94.9,72.8h2.5v2.5h-2.5z"/></g>
<use href="#geo"/><g><rect x="0" y="0" width="110.00" height="121.50" fill="none" stroke="#7d7d7d" stroke-width="0.85"/><path d="M12.60,121.50v-1.2M12.60,0v1.2M36.83,121.50v-1.2M36.83,0v1.2M61.06,121.50v-1.2M61.06,0v1.2M85.29,121.50v-1.2M85.29,0v1.2M0,97.20h1.2M110.00,97.20h-1.2M0,72.90h1.2M110.00,72.90h-1.2M0,48.60h1.2M110.00,48.60h-1.2M0,24.30h1.2M110.00,24.30h-1.2" stroke="#8c8c8c" stroke-width="0.6" fill="none"/><g font-size="7.0" fill="#333" text-anchor="middle"><text x="12.60" y="131.50">126</text><text x="36.83" y="131.50">127</text><text x="61.06" y="131.50">128</text><text x="85.29" y="131.50">129</text><text x="110.12" y="131.50">130</text></g><g font-size="7.0" fill="#333" text-anchor="end"><text x="-2.6" y="124.50">34</text><text x="-2.6" y="100.20">35</text><text x="-2.6" y="75.90">36</text><text x="-2.6" y="51.60">37</text><text x="-2.6" y="27.30">38</text><text x="-2.6" y="3.00">39</text></g></g>
</g>
<rect x="336.70" y="336.30" width="10.80" height="121.50" fill="url(#jet)" stroke="#333" stroke-width="0.3"/>
<g font-size="7.0" fill="#333">
<text x="349.50" y="339.20">4500</text>
<text x="349.50" y="379.70">3000</text>
<text x="349.50" y="420.20">1500</text>
<text x="349.50" y="460.70">0</text>
</g>
<g transform="translate(398.50,336.30)">
<use href="#grid"/>
<g shape-rendering="crispEdges"><path fill="#000080" d="M75.5,68.0h4.9v2.5h-4.9zM73.1,65.6h9.8v2.5h-9.8zM73.1,63.1h9.8v2.5h-9.8zM73.1,60.7h7.4v2.5h-7.4z"/>
<path fill="#000099" d="M29.5,106.9h4.9v2.5h-4.9zM24.7,104.4h2.5v2.5h-2.5zM22.2,102.0h2.5v2.5h-2.5zM27.1,102.0h7.4v2.5h-7.4zM24.7,99.6h2.5v2.5h-2.5zM31.9,99.6h2.5v2.5h-2.5zM24.7,97.1h2.5v2.5h-2.5zM29.5,97.1h7.4v2.5h-7.4zM22.2,92.3h2.5v2.5h-2.5zM39.2,92.3h2.5v2.5h-2.5zM19.8,89.9h2.5v2.5h-2.5zM27.1,89.9h4.9v2.5h-4.9zM27.1,87.4h4.9v2.5h-4.9zM34.4,87.4h2.5v2.5h-2.5zM27.1,85.0h2.5v2.5h-2.5zM31.9,85.0h4.9v2.5h-4.9zM31.9,82.6h2.5v2.5h-2.5zM31.9,80.1h2.5v2.5h-2.5zM39.2,80.1h2.5v2.5h-2.5zM34.4,77.7h7.4v2.5h-7.4zM27.1,75.3h4.9v2.5h-4.9zM34.4,75.3h2.5v2.5h-2.5zM39.2,75.3h2.5v2.5h-2.5zM31.9,72.8h2.5v2.5h-2.5zM36.8,72.8h4.9v2.5h-4.9zM39.2,70.4h2.5v2.5h-2.5zM36.8,68.0h4.9v2.5h-4.9zM73.1,68.0h2.5v2.5h-2.5zM80.4,68.0h2.5v2.5h-2.5zM34.4,65.6h7.4v2.5h-7.4zM70.7,65.6h2.5v2.5h-2.5zM82.8,65.6h2.5v2.5h-2.5zM39.2,63.1h2.5v2.5h-2.5zM70.7,63.1h2.5v2.5h-2.5zM82.8,63.1h2.5v2.5h-2.5zM70.7,60.7h2.5v2.5h-2.5zM80.4,60.7h2.5v2.5h-2.5zM73.1,58.3h7.4v2.5h-7.4zM17.4,55.8h7.4v2.5h-7.4zM29.5,55.8h4.9v2.5h-4.9zM39.2,55.8h2.5v2.5h-2.5zM44.0,55.8h4.9v2.5h-4.9zM15.0,53.4h2.5v2.5h-2.5zM34.4,53.4h2.5v2.5h-2.5zM41.6,53.4h4.9v2.5h-4.9zM15.0,51.0h4.9v2.5h-4.9zM22.2,51.0h2.5v2.5h-2.5zM36.8,51.0h12.2v2.5h-12.2zM51.3,51.0h2.5v2.5h-2.5zM22.2,48.5h2.5v2.5h-2.5zM27.1,48.5h2.5v2.5h-2.5zM36.8,48.5h9.8v2.5h-9.8zM56.2,48.5h7.4v2.5h-7.4zM31.9,46.1h14.6v2.5h-14.6zM56.2,46.1h2.5v2.5h-2.5zM61.0,46.1h2.5v2.5h-2.5zM34.4,43.7h9.8v2.5h-9.8zM46.5,43.7h2.5v2.5h-2.5zM58.6,43.7h7.4v2.5h-7.4zM68.3,43.7h2.5v2.5h-2.5zM29.5,41.3h7.4v2.5h-7.4zM56.2,41.3h2.5v2.5h-2.5zM29.5,38.8h4.9v2.5h-4.9zM44.0,38.8h2.5v2.5h-2.5zM48.9,38.8h2.5v2.5h-2.5zM53.7,38.8h2.5v2.5h-2.5zM31.9,36.4h12.2v2.5h-12.2zM63.4,36.4h2.5v2.5h-2.5zM34.4,34.0h2.5v2.5h-2.5zM41.6,34.0h9.8v2.5h-9.8zM65.9,34.0h2.5v2.5h-2.5zM27.1,31.5h2.5v2.5h-2.5zM39.2,31.5h7.4v2.5h-7.4zM48.9,31.5h2.5v2.5h-2.5zM68.3,31.5h2.5v2.5h-2.5zM44.0,29.1h7.4v2.5h-7.4zM65.9,29.1h4.9v2.5h-4.9zM24.7,26.7h2.5v2.5h-2.5zM36.8,26.7h2.5v2.5h-2.5zM41.6,26.7h7.4v2.5h-7.4zM63.4,26.7h4.9v2.5h-4.9zM46.5,24.2h2.5v2.5h-2.5zM53.7,24.2h4.9v2.5h-4.9zM73.1,24.2h2.5v2.5h-2.5zM44.0,21.8h2.5v2.5h-2.5zM58.6,21.8h2.5v2.5h-2.5zM68.3,21.8h2.5v2.5h-2.5zM39.2,19.4h2.5v2.5h-2.5zM44.0,19.4h2.5v2.5h-2.5zM56.2,19.4h2.5v2.5h-2.5zM61.0,19.4h2.5v2.5h-2.5zM73.1,19.4h2.5v2.5h-2.5zM56.2,17.0h2.5v2.5h-2.5zM63.4,17.0h2.5v2.5h-2.5zM70.7,17.0h2.5v2.5h-2.5zM68.3,14.5h2.5v2.5h-2.5z"/>
<path fill="#0000b3" d="M22.2,106.9h7.4v2.5h-7.4zM19.8,104.4h4.9v2.5h-4.9zM27.1,104.4h12.2v2.5h-12.2zM19.8,102.0h2.5v2.5h-2.5zM24.7,102.0h2.5v2.5h-2.5zM34.4,102.0h7.4v2.5h-7.4zM56.2,102.0h2.5v2.5h-2.5zM19.8,99.6h4.9v2.5h-4.9zM27.1,99.6h4.9v2.5h-4.9zM34.4,99.6h12.2v2.5h-12.2zM51.3,99.6h2.5v2.5h-2.5zM17.4,97.1h7.4v2.5h-7.4zM27.1,97.1h2.5v2.5h-2.5zM36.8,97.1h17.1v2.5h-17.1zM19.8,94.7h31.6v2.5h-31.6zM19.8,92.3h2.5v2.5h-2.5zM24.7,92.3h14.6v2.5h-14.6zM41.6,92.3h9.8v2.5h-9.8zM22.2,89.9h4.9v2.5h-4.9zM31.9,89.9h17.1v2.5h-17.1zM22.2,87.4h4.9v2.5h-4.9zM31.9,87.4h2.5v2.5h-2.5zM36.8,87.4h12.2v2.5h-12.2zM22.2,85.0h4.9v2.5h-4.9zM29.5,85.0h2.5v2.5h-2.5zM36.8,85.0h9.8v2.5h-9.8zM24.7,82.6h7.4v2.5h-7.4zM34.4,82.6h14.6v2.5h-14.6zM24.7,80.1h7.4v2.5h-7.4zM34.4,80.1h4.9v2.5h-4.9zM41.6,80.1h7.4v2.5h-7.4zM24.7,77.7h9.8v2.5h-9.8zM41.6,77.7h7.4v2.5h-7.4zM31.9,75.3h2.5v2.5h-2.5zM36.8,75.3h2.5v2.5h-2.5zM41.6,75.3h7.4v2.5h-7.4zM27.1,72.8h4.9v2.5h-4.9zM34.4,72.8h2.5v2.5h-2.5zM41.6,72.8h7.4v2.5h-7.4zM27.1,70.4h12.2v2.5h-12.2zM41.6,70.4h7.4v2.5h-7.4zM24.7,68.0h12.2v2.5h-12.2zM41.6,68.0h4.9v2.5h-4.9zM48.9,68.0h2.5v2.5h-2.5zM24.7,65.6h9.8v2.5h-9.8zM41.6,65.6h4.9v2.5h-4.9zM85.2,65.6h2.5v2.5h-2.5zM24.7,63.1h14.6v2.5h-14.6zM41.6,63.1h7.4v2.5h-7.4zM24.7,60.7h26.8v2.5h-26.8zM82.8,60.7h2.5v2.5h-2.5zM24.7,58.3h29.2v2.5h-29.2zM80.4,58.3h2.5v2.5h-2.5zM24.7,55.8h4.9v2.5h-4.9zM34.4,55.8h4.9v2.5h-4.9zM41.6,55.8h2.5v2.5h-2.5zM48.9,55.8h9.8v2.5h-9.8zM17.4,53.4h17.1v2.5h-17.1zM36.8,53.4h4.9v2.5h-4.9zM46.5,53.4h14.6v2.5h-14.6zM19.8,51.0h2.5v2.5h-2.5zM24.7,51.0h12.2v2.5h-12.2zM48.9,51.0h2.5v2.5h-2.5zM53.7,51.0h9.8v2.5h-9.8zM19.8,48.5h2.5v2.5h-2.5zM24.7,48.5h2.5v2.5h-2.5zM29.5,48.5h7.4v2.5h-7.4zM46.5,48.5h9.8v2.5h-9.8zM63.4,48.5h7.4v2.5h-7.4zM46.5,46.1h9.8v2.5h-9.8zM58.6,46.1h2.5v2.5h-2.5zM63.4,46.1h9.8v2.5h-9.8zM31.9,43.7h2.5v2.5h-2.5zM44.0,43.7h2.5v2.5h-2.5zM48.9,43.7h9.8v2.5h-9.8zM65.9,43.7h2.5v2.5h-2.5zM70.7,43.7h4.9v2.5h-4.9zM36.8,41.3h19.5v2.5h-19.5zM58.6,41.3h17.1v2.5h-17.1zM34.4,38.8h9.8v2.5h-9.8zM46.5,38.8h2.5v2.5h-2.5zM51.3,38.8h2.5v2.5h-2.5zM56.2,38.8h19.5v2.5h-19.5zM29.5,36.4h2.5v2.5h-2.5zM44.0,36.4h19.5v2.5h-19.5zM65.9,36.4h9.8v2.5h-9.8zM29.5,34.0h4.9v2.5h-4.9zM36.8,34.0h4.9v2.5h-4.9zM51.3,34.0h14.6v2.5h-14.6zM68.3,34.0h7.4v2.5h-7.4zM29.5,31.5h9.8v2.5h-9.8zM46.5,31.5h2.5v2.5h-2.5zM51.3,31.5h17.1v2.5h-17.1zM70.7,31.5h4.9v2.5h-4.9zM27.1,29.1h17.1v2.5h-17.1zM51.3,29.1h14.6v2.5h-14.6zM70.7,29.1h4.9v2.5h-4.9zM27.1,26.7h9.8v2.5h-9.8zM39.2,26.7h2.5v2.5h-2.5zM48.9,26.7h14.6v2.5h-14.6zM68.3,26.7h9.8v2.5h-9.8zM29.5,24.2h17.1v2.5h-17.1zM48.9,24.2h4.9v2.5h-4.9zM58.6,24.2h14.6v2.5h-14.6zM75.5,24.2h2.5v2.5h-2.5zM31.9,21.8h12.2v2.5h-12.2zM46.5,21.8h12.2v2.5h-12.2zM61.0,21.8h7.4v2.5h-7.4zM70.7,21.8h7.4v2.5h-7.4zM34.4,19.4h4.9v2.5h-4.9zM41.6,19.4h2.5v2.5h-2.5zM46.5,19.4h9.8v2.5h-9.8zM58.6,19.4h2.5v2.5h-2.5zM63.4,19.4h9.8v2.5h-9.8zM36.8,17.0h19.5v2.5h-19.5zM58.6,17.0h4.9v2.5h-4.9zM65.9,17.0h4.9v2.5h-4.9zM73.1,17.0h2.5v2.5h-2.5zM65.9,14.5h2.5v2.5h-2.5zM70.7,14.5h2.5v2.5h-2.5zM65.9,12.1h7.4v2.5h-7.4z"/>
<path fill="#0000cc" d="M58.6,102.0h2.5v2.5h-2.5zM75.5,102.0h2.5v2.5h-2.5zM53.7,99.6h7.4v2.5h-7.4zM53.7,97.1h2.5v2.5h-2.5zM51.3,94.7h2.5v2.5h-2.5zM51.3,92.3h2.5v2.5h-2.5zM48.9,89.9h4.9v2.5h-4.9zM48.9,87.4h2.5v2.5h-2.5zM46.5,85.0h4.9v2.5h-4.9zM48.9,82.6h2.5v2.5h-2.5zM48.9,80.1h2.5v2.5h-2.5zM48.9,77.7h2.5v2.5h-2.5zM48.9,75.3h2.5v2.5h-2.5zM48.9,72.8h2.5v2.5h-2.5zM48.9,70.4h4.9v2.5h-4.9zM73.1,70.4h4.9v2.5h-4.9zM46.5,68.0h2.5v2.5h-2.5zM51.3,68.0h2.5v2.5h-2.5zM70.7,68.0h2.5v2.5h-2.5zM82.8,68.0h2.5v2.5h-2.5zM46.5,65.6h7.4v2.5h-7.4zM48.9,63.1h4.9v2.5h-4.9zM85.2,63.1h2.5v2.5h-2.5zM51.3,60.7h2.5v2.5h-2.5zM53.7,58.3h2.5v2.5h-2.5zM82.8,58.3h2.5v2.5h-2.5zM58.6,55.8h2.5v2.5h-2.5zM61.0,53.4h2.5v2.5h-2.5zM63.4,51.0h2.5v2.5h-2.5zM70.7,48.5h2.5v2.5h-2.5zM73.1,46.1h2.5v2.5h-2.5zM75.5,41.3h2.5v2.5h-2.5zM75.5,36.4h2.5v2.5h-2.5zM75.5,34.0h2.5v2.5h-2.5zM75.5,31.5h2.5v2.5h-2.5zM75.5,29.1h2.5v2.5h-2.5zM78.0,26.7h2.5v2.5h-2.5zM78.0,24.2h2.5v2.5h-2.5z"/>
<path fill="#0000e6" d="M56.2,97.1h2.5v2.5h-2.5zM53.7,94.7h2.5v2.5h-2.5zM63.4,94.7h2.5v2.5h-2.5zM51.3,72.8h2.5v2.5h-2.5zM70.7,70.4h2.5v2.5h-2.5zM78.0,70.4h2.5v2.5h-2.5zM53.7,68.0h2.5v2.5h-2.5zM85.2,68.0h2.5v2.5h-2.5zM53.7,65.6h4.9v2.5h-4.9zM87.7,65.6h2.5v2.5h-2.5zM53.7,63.1h4.9v2.5h-4.9zM68.3,63.1h2.5v2.5h-2.5zM87.7,63.1h2.5v2.5h-2.5zM53.7,60.7h2.5v2.5h-2.5zM68.3,60.7h2.5v2.5h-2.5zM85.2,60.7h2.5v2.5h-2.5zM56.2,58.3h2.5v2.5h-2.5zM70.7,58.3h2.5v2.5h-2.5zM78.0,55.8h7.4v2.5h-7.4zM65.9,51.0h2.5v2.5h-2.5zM94.9,51.0h2.5v2.5h-2.5zM75.5,46.1h2.5v2.5h-2.5zM75.5,43.7h4.9v2.5h-4.9zM75.5,38.8h2.5v2.5h-2.5zM78.0,31.5h2.5v2.5h-2.5zM78.0,29.1h2.5v2.5h-2.5zM80.4,26.7h2.5v2.5h-2.5z"/>
<path fill="#0000ff" d="M56.2,94.7h2.5v2.5h-2.5zM61.0,94.7h2.5v2.5h-2.5zM82.8,94.7h2.5v2.5h-2.5zM51.3,87.4h2.5v2.5h-2.5zM97.4,72.8h2.5v2.5h-2.5zM53.7,70.4h2.5v2.5h-2.5zM80.4,70.4h2.5v2.5h-2.5zM56.2,68.0h2.5v2.5h-2.5zM87.7,68.0h2.5v2.5h-2.5zM58.6,65.6h2.5v2.5h-2.5zM58.6,63.1h2.5v2.5h-2.5zM56.2,60.7h2.5v2.5h-2.5zM85.2,58.3h2.5v2.5h-2.5zM75.5,55.8h2.5v2.5h-2.5zM63.4,53.4h2.5v2.5h-2.5zM94.9,53.4h2.5v2.5h-2.5zM68.3,51.0h2.5v2.5h-2.5zM73.1,48.5h2.5v2.5h-2.5zM78.0,41.3h2.5v2.5h-2.5zM78.0,38.8h2.5v2.5h-2.5zM78.0,34.0h2.5v2.5h-2.5zM80.4,31.5h2.5v2.5h-2.5zM80.4,29.1h4.9v2.5h-4.9z"/>
<path fill="#001aff" d="M58.6,94.7h2.5v2.5h-2.5zM70.7,94.7h2.5v2.5h-2.5zM80.4,94.7h2.5v2.5h-2.5zM53.7,92.3h2.5v2.5h-2.5zM87.7,92.3h2.5v2.5h-2.5zM51.3,85.0h2.5v2.5h-2.5zM51.3,82.6h2.5v2.5h-2.5zM51.3,80.1h2.5v2.5h-2.5zM51.3,77.7h2.5v2.5h-2.5zM51.3,75.3h2.5v2.5h-2.5zM70.7,72.8h4.9v2.5h-4.9zM58.6,68.0h2.5v2.5h-2.5zM90.1,68.0h2.5v2.5h-2.5zM68.3,65.6h2.5v2.5h-2.5zM90.1,65.6h2.5v2.5h-2.5zM90.1,63.1h2.5v2.5h-2.5zM58.6,60.7h2.5v2.5h-2.5zM87.7,60.7h2.5v2.5h-2.5zM58.6,58.3h2.5v2.5h-2.5zM61.0,55.8h2.5v2.5h-2.5zM94.9,55.8h2.5v2.5h-2.5zM78.0,36.4h2.5v2.5h-2.5zM82.8,31.5h2.5v2.5h-2.5z"/>
<path fill="#0033ff" d="M73.1,94.7h2.5v2.5h-2.5zM85.2,92.3h2.5v2.5h-2.5zM53.7,89.9h2.5v2.5h-2.5zM75.5,72.8h2.5v2.5h-2.5zM56.2,70.4h2.5v2.5h-2.5zM82.8,70.4h2.5v2.5h-2.5zM68.3,68.0h2.5v2.5h-2.5zM61.0,65.6h2.5v2.5h-2.5zM61.0,63.1h2.5v2.5h-2.5zM90.1,60.7h2.5v2.5h-2.5zM68.3,58.3h2.5v2.5h-2.5zM94.9,58.3h2.5v2.5h-2.5zM73.1,55.8h2.5v2.5h-2.5zM85.2,55.8h2.5v2.5h-2.5zM80.4,53.4h4.9v2.5h-4.9zM70.7,51.0h2.5v2.5h-2.5zM78.0,46.1h2.5v2.5h-2.5zM80.4,43.7h2.5v2.5h-2.5zM80.4,41.3h2.5v2.5h-2.5zM80.4,38.8h2.5v2.5h-2.5zM80.4,36.4h2.5v2.5h-2.5zM80.4,34.0h4.9v2.5h-4.9zM85.2,31.5h2.5v2.5h-2.5z"/>
<path fill="#004dff" d="M75.5,97.1h2.5v2.5h-2.5zM75.5,94.7h2.5v2.5h-2.5zM56.2,92.3h2.5v2.5h-2.5zM61.0,92.3h4.9v2.5h-4.9zM82.8,92.3h2.5v2.5h-2.5zM70.7,75.3h2.5v2.5h-2.5zM53.7,72.8h2.5v2.5h-2.5zM68.3,70.4h2.5v2.5h-2.5zM85.2,70.4h7.4v2.5h-7.4zM94.9,70.4h2.5v2.5h-2.5zM61.0,60.7h2.5v2.5h-2.5zM65.9,60.7h2.5v2.5h-2.5zM61.0,58.3h2.5v2.5h-2.5zM87.7,58.3h2.5v2.5h-2.5zM65.9,53.4h2.5v2.5h-2.5zM78.0,53.4h2.5v2.5h-2.5zM75.5,48.5h2.5v2.5h-2.5zM82.8,38.8h2.5v2.5h-2.5zM82.8,36.4h2.5v2.5h-2.5zM85.2,34.0h2.5v2.5h-2.5z"/>
<path fill="#0066ff" d="M73.1,97.1h2.5v2.5h-2.5zM58.6,92.3h2.5v2.5h-2.5zM87.7,89.9h2.5v2.5h-2.5zM68.3,80.1h2.5v2.5h-2.5zM68.3,77.7h4.9v2.5h-4.9zM68.3,75.3h2.5v2.5h-2.5zM73.1,75.3h2.5v2.5h-2.5zM68.3,72.8h2.5v2.5h-2.5zM78.0,72.8h2.5v2.5h-2.5zM94.9,72.8h2.5v2.5h-2.5zM58.6,70.4h2.5v2.5h-2.5zM61.0,68.0h2.5v2.5h-2.5zM92.5,68.0h4.9v2.5h-4.9zM63.4,63.1h4.9v2.5h-4.9zM63.4,60.7h2.5v2.5h-2.5zM90.1,58.3h2.5v2.5h-2.5zM63.4,55.8h2.5v2.5h-2.5zM70.7,55.8h2.5v2.5h-2.5zM85.2,53.4h2.5v2.5h-2.5zM82.8,41.3h2.5v2.5h-2.5z"/>
<path fill="#0080ff" d="M65.9,92.3h2.5v2.5h-2.5zM80.4,92.3h2.5v2.5h-2.5zM85.2,89.9h2.5v2.5h-2.5zM53.7,87.4h2.5v2.5h-2.5zM90.1,87.4h2.5v2.5h-2.5zM65.9,82.6h4.9v2.5h-4.9zM65.9,80.1h2.5v2.5h-2.5zM65.9,77.7h2.5v2.5h-2.5zM73.1,77.7h2.5v2.5h-2.5zM53.7,75.3h2.5v2.5h-2.5zM61.0,70.4h2.5v2.5h-2.5zM92.5,70.4h2.5v2.5h-2.5zM92.5,65.6h2.5v2.5h-2.5zM92.5,63.1h2.5v2.5h-2.5zM92.5,60.7h2.5v2.5h-2.5zM65.9,58.3h2.5v2.5h-2.5zM92.5,58.3h2.5v2.5h-2.5zM68.3,55.8h2.5v2.5h-2.5zM92.5,55.8h2.5v2.5h-2.5zM68.3,53.4h2.5v2.5h-2.5zM75.5,53.4h2.5v2.5h-2.5zM73.1,51.0h2.5v2.5h-2.5zM80.4,46.1h2.5v2.5h-2.5zM82.8,43.7h2.5v2.5h-2.5zM85.2,36.4h2.5v2.5h-2.5z"/>
<path fill="#0099ff" d="M75.5,99.6h2.5v2.5h-2.5zM56.2,89.9h2.5v2.5h-2.5zM61.0,89.9h2.5v2.5h-2.5zM63.4,85.0h2.5v2.5h-2.5zM63.4,82.6h2.5v2.5h-2.5zM63.4,80.1h2.5v2.5h-2.5zM70.7,80.1h2.5v2.5h-2.5zM65.9,75.3h2.5v2.5h-2.5zM75.5,75.3h2.5v2.5h-2.5zM94.9,75.3h2.5v2.5h-2.5zM80.4,72.8h2.5v2.5h-2.5zM63.4,65.6h4.9v2.5h-4.9zM63.4,58.3h2.5v2.5h-2.5zM65.9,55.8h2.5v2.5h-2.5zM87.7,55.8h4.9v2.5h-4.9zM70.7,53.4h2.5v2.5h-2.5zM92.5,53.4h2.5v2.5h-2.5zM82.8,51.0h2.5v2.5h-2.5zM78.0,48.5h2.5v2.5h-2.5zM85.2,38.8h2.5v2.5h-2.5z"/>
<path fill="#00b3ff" d="M73.1,99.6h2.5v2.5h-2.5zM68.3,92.3h2.5v2.5h-2.5zM78.0,92.3h2.5v2.5h-2.5zM63.4,89.9h2.5v2.5h-2.5zM82.8,89.9h2.5v2.5h-2.5zM63.4,87.4h2.5v2.5h-2.5zM87.7,87.4h2.5v2.5h-2.5zM53.7,85.0h2.5v2.5h-2.5zM65.9,85.0h2.5v2.5h-2.5zM70.7,82.6h2.5v2.5h-2.5zM53.7,80.1h2.5v2.5h-2.5zM73.1,80.1h2.5v2.5h-2.5zM53.7,77.7h2.5v2.5h-2.5zM63.4,77.7h2.5v2.5h-2.5zM63.4,75.3h2.5v2.5h-2.5zM56.2,72.8h2.5v2.5h-2.5zM61.0,72.8h2.5v2.5h-2.5zM65.9,72.8h2.5v2.5h-2.5zM92.5,72.8h2.5v2.5h-2.5zM65.9,70.4h2.5v2.5h-2.5zM63.4,68.0h4.9v2.5h-4.9zM73.1,53.4h2.5v2.5h-2.5zM75.5,51.0h2.5v2.5h-2.5zM80.4,51.0h2.5v2.5h-2.5zM85.2,41.3h2.5v2.5h-2.5zM87.7,36.4h2.5v2.5h-2.5z"/>
<path fill="#00ccff" d="M58.6,89.9h2.5v2.5h-2.5zM85.2,87.4h2.5v2.5h-2.5zM53.7,82.6h2.5v2.5h-2.5zM73.1,82.6h2.5v2.5h-2.5zM75.5,77.7h2.5v2.5h-2.5zM94.9,77.7h2.5v2.5h-2.5zM58.6,72.8h2.5v2.5h-2.5zM63.4,72.8h2.5v2.5h-2.5zM90.1,72.8h2.5v2.5h-2.5zM63.4,70.4h2.5v2.5h-2.5zM87.7,53.4h2.5v2.5h-2.5zM78.0,51.0h2.5v2.5h-2.5zM85.2,51.0h2.5v2.5h-2.5zM92.5,51.0h2.5v2.5h-2.5zM80.4,48.5h2.5v2.5h-2.5z"/>
<path fill="#00e5ff" d="M70.7,92.3h2.5v2.5h-2.5zM61.0,87.4h2.5v2.5h-2.5zM68.3,85.0h2.5v2.5h-2.5zM90.1,85.0h2.5v2.5h-2.5zM61.0,75.3h2.5v2.5h-2.5zM82.8,72.8h2.5v2.5h-2.5zM90.1,53.4h2.5v2.5h-2.5zM82.8,46.1h2.5v2.5h-2.5zM87.7,38.8h2.5v2.5h-2.5z"/>
<path fill="#00ffff" d="M73.1,92.3h4.9v2.5h-4.9zM65.9,89.9h2.5v2.5h-2.5zM80.4,89.9h2.5v2.5h-2.5zM56.2,87.4h2.5v2.5h-2.5zM65.9,87.4h2.5v2.5h-2.5zM82.8,87.4h2.5v2.5h-2.5zM61.0,85.0h2.5v2.5h-2.5zM61.0,82.6h2.5v2.5h-2.5zM75.5,82.6h2.5v2.5h-2.5zM92.5,82.6h2.5v2.5h-2.5zM75.5,80.1h2.5v2.5h-2.5zM78.0,75.3h2.5v2.5h-2.5zM87.7,72.8h2.5v2.5h-2.5zM82.8,48.5h2.5v2.5h-2.5zM85.2,43.7h2.5v2.5h-2.5z"/>
<path fill="#1affe5" d="M58.6,87.4h2.5v2.5h-2.5zM70.7,85.0h2.5v2.5h-2.5zM87.7,85.0h2.5v2.5h-2.5zM61.0,80.1h2.5v2.5h-2.5zM61.0,77.7h2.5v2.5h-2.5zM85.2,72.8h2.5v2.5h-2.5zM87.7,51.0h2.5v2.5h-2.5z"/>
<path fill="#33ffcc" d="M80.4,87.4h2.5v2.5h-2.5zM73.1,85.0h4.9v2.5h-4.9zM85.2,85.0h2.5v2.5h-2.5zM92.5,75.3h2.5v2.5h-2.5zM85.2,48.5h2.5v2.5h-2.5zM92.5,48.5h2.5v2.5h-2.5z"/>
<path fill="#4dffb3" d="M78.0,89.9h2.5v2.5h-2.5zM56.2,85.0h2.5v2.5h-2.5zM78.0,85.0h7.4v2.5h-7.4zM78.0,82.6h2.5v2.5h-2.5zM78.0,77.7h2.5v2.5h-2.5zM56.2,75.3h2.5v2.5h-2.5zM85.2,46.1h2.5v2.5h-2.5zM87.7,41.3h2.5v2.5h-2.5z"/>
<path fill="#66ff99" d="M68.3,89.9h2.5v2.5h-2.5zM68.3,87.4h2.5v2.5h-2.5zM58.6,85.0h2.5v2.5h-2.5zM90.1,82.6h2.5v2.5h-2.5zM78.0,80.1h2.5v2.5h-2.5zM92.5,80.1h2.5v2.5h-2.5zM80.4,75.3h2.5v2.5h-2.5zM90.1,51.0h2.5v2.5h-2.5z"/>
<path fill="#80ff80" d="M78.0,87.4h2.5v2.5h-2.5zM56.2,82.6h2.5v2.5h-2.5zM80.4,82.6h2.5v2.5h-2.5zM92.5,77.7h2.5v2.5h-2.5zM87.7,48.5h2.5v2.5h-2.5z"/>
<path fill="#99ff66" d="M58.6,82.6h2.5v2.5h-2.5zM56.2,80.1h2.5v2.5h-2.5zM56.2,77.7h2.5v2.5h-2.5zM87.7,43.7h2.5v2.5h-2.5zM90.1,38.8h2.5v2.5h-2.5z"/>
<path fill="#b3ff4c" d="M75.5,89.9h2.5v2.5h-2.5zM70.7,87.4h2.5v2.5h-2.5zM75.5,87.4h2.5v2.5h-2.5zM58.6,80.1h2.5v2.5h-2.5zM90.1,75.3h2.5v2.5h-2.5z"/>
<path fill="#ccff33" d="M70.7,89.9h4.9v2.5h-4.9zM73.1,87.4h2.5v2.5h-2.5zM82.8,82.6h2.5v2.5h-2.5zM58.6,75.3h2.5v2.5h-2.5zM92.5,46.1h2.5v2.5h-2.5z"/>
<path fill="#e5ff1a" d="M87.7,82.6h2.5v2.5h-2.5zM87.7,46.1h2.5v2.5h-2.5z"/>
<path fill="#ffff00" d="M85.2,82.6h2.5v2.5h-2.5zM80.4,80.1h2.5v2.5h-2.5zM80.4,77.7h2.5v2.5h-2.5zM82.8,75.3h2.5v2.5h-2.5zM92.5,43.7h2.5v2.5h-2.5z"/>
<path fill="#ffe500" d="M58.6,77.7h2.5v2.5h-2.5zM90.1,48.5h2.5v2.5h-2.5z"/>
<path fill="#ffcc00" d="M90.1,80.1h2.5v2.5h-2.5zM87.7,75.3h2.5v2.5h-2.5z"/>
<path fill="#ffb300" d="M85.2,75.3h2.5v2.5h-2.5z"/>
<path fill="#ff9900" d="M90.1,77.7h2.5v2.5h-2.5z"/>
<path fill="#ff8000" d="M82.8,80.1h2.5v2.5h-2.5zM90.1,41.3h2.5v2.5h-2.5z"/>
<path fill="#ff4c00" d="M87.7,80.1h2.5v2.5h-2.5z"/>
<path fill="#ff3300" d="M82.8,77.7h2.5v2.5h-2.5z"/>
<path fill="#ff1a00" d="M85.2,80.1h2.5v2.5h-2.5zM90.1,46.1h2.5v2.5h-2.5z"/>
<path fill="#ff0000" d="M87.7,77.7h2.5v2.5h-2.5z"/>
<path fill="#e50000" d="M90.1,43.7h2.5v2.5h-2.5z"/>
<path fill="#cc0000" d="M85.2,77.7h2.5v2.5h-2.5z"/></g>
<use href="#geo"/><g><rect x="0" y="0" width="110.00" height="121.50" fill="none" stroke="#7d7d7d" stroke-width="0.85"/><path d="M12.60,121.50v-1.2M12.60,0v1.2M36.83,121.50v-1.2M36.83,0v1.2M61.06,121.50v-1.2M61.06,0v1.2M85.29,121.50v-1.2M85.29,0v1.2M0,97.20h1.2M110.00,97.20h-1.2M0,72.90h1.2M110.00,72.90h-1.2M0,48.60h1.2M110.00,48.60h-1.2M0,24.30h1.2M110.00,24.30h-1.2" stroke="#8c8c8c" stroke-width="0.6" fill="none"/><g font-size="7.0" fill="#333" text-anchor="middle"><text x="12.60" y="131.50">126</text><text x="36.83" y="131.50">127</text><text x="61.06" y="131.50">128</text><text x="85.29" y="131.50">129</text><text x="110.12" y="131.50">130</text></g><g font-size="7.0" fill="#333" text-anchor="end"><text x="-2.6" y="124.50">34</text><text x="-2.6" y="100.20">35</text><text x="-2.6" y="75.90">36</text><text x="-2.6" y="51.60">37</text><text x="-2.6" y="27.30">38</text><text x="-2.6" y="3.00">39</text></g></g>
</g>
<rect x="515.70" y="336.30" width="10.80" height="121.50" fill="url(#jet)" stroke="#333" stroke-width="0.3"/>
<g font-size="7.0" fill="#333">
<text x="528.50" y="339.20">4500</text>
<text x="528.50" y="379.70">3000</text>
<text x="528.50" y="420.20">1500</text>
<text x="528.50" y="460.70">0</text>
</g>
<text transform="translate(16.3,397.05) rotate(-90)" text-anchor="middle" font-size="10.6" font-weight="bold" fill="#111">DRY SEASON</text>
<text x="97.00" y="17.3" text-anchor="middle" font-size="8.5" font-weight="bold" fill="#111">ERA5L (<tspan font-style="italic" font-weight="normal" font-size="8.4">σ</tspan><tspan font-size="6.3" dy="-2.9" dx="0.2">2</tspan><tspan font-size="6.3" dy="6.0" dx="-3.5">1</tspan><tspan dy="-3.1" dx="0.1">)</tspan></text>
<text x="274.90" y="17.3" text-anchor="middle" font-size="8.5" font-weight="bold" fill="#111">GLDAS (<tspan font-style="italic" font-weight="normal" font-size="8.4">σ</tspan><tspan font-size="6.3" dy="-2.9" dx="0.2">2</tspan><tspan font-size="6.3" dy="6.0" dx="-3.5">2</tspan><tspan dy="-3.1" dx="0.1">)</tspan></text>
<text x="453.50" y="17.3" text-anchor="middle" font-size="8.5" font-weight="bold" fill="#111">MERRA (<tspan font-style="italic" font-weight="normal" font-size="8.4">σ</tspan><tspan font-size="6.3" dy="-2.9" dx="0.2">2</tspan><tspan font-size="6.3" dy="6.0" dx="-3.5">3</tspan><tspan dy="-3.1" dx="0.1">)</tspan></text>
<text x="103.30" y="482" text-anchor="middle" font-size="9.3" font-weight="bold" fill="#111">(a)</text>
<text x="281.50" y="482" text-anchor="middle" font-size="9.3" font-weight="bold" fill="#111">(b)</text>
<text x="460.00" y="482" text-anchor="middle" font-size="9.3" font-weight="bold" fill="#111">(c)</text>
<text x="492.3" y="483.7" font-size="9.6" font-weight="bold" fill="#111">Unit: m<tspan font-size="5.8" dy="-3.6">3</tspan><tspan dy="3.6">s</tspan><tspan font-size="5.8" dy="-3.6">−1</tspan></text>
</svg>
</body></html>
